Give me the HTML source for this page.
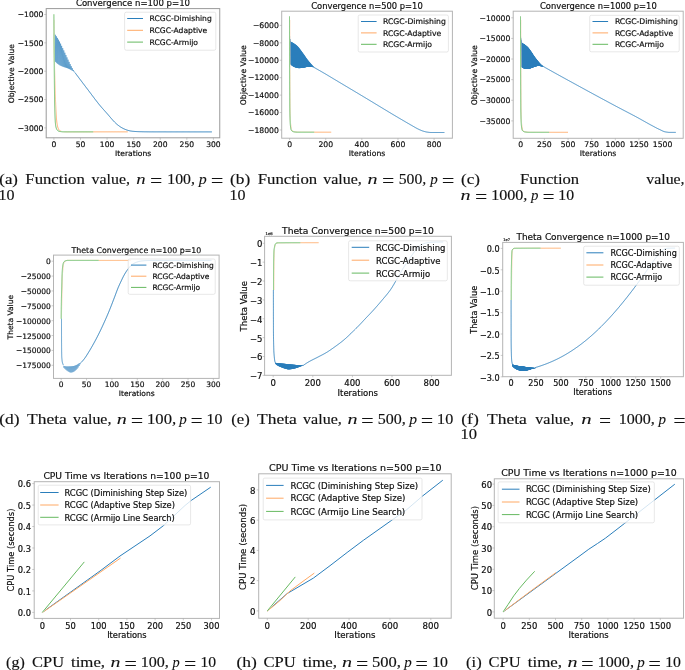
<!DOCTYPE html>
<html><head><meta charset="utf-8"><title>Convergence figures</title>
<style>html,body{margin:0;padding:0;background:#fff;} svg{display:block;}</style></head>
<body><svg width="685" height="670" viewBox="0 0 685 670">
<rect width="685" height="670" fill="#fff"/>
<clipPath id="cA"><rect x="46.2" y="8.6" width="173.55" height="129.20000000000002"/></clipPath>
<g clip-path="url(#cA)">
<polyline points="54.20,33.40 54.73,60.92 55.26,34.77 55.80,62.08 56.33,36.28 56.86,63.12 57.39,37.92 57.92,64.03 58.45,39.66 58.99,64.79 59.52,41.53 60.05,65.41 60.58,43.61 61.11,65.94 61.64,45.84 62.18,66.41 62.71,48.12 63.24,66.84 63.77,50.39 64.30,67.22 64.83,52.71 65.37,67.56 65.90,55.06 66.43,67.88 66.96,57.40 67.49,68.24 68.02,59.66 68.56,68.67 69.09,61.88 69.62,69.16 70.15,64.07 70.68,69.70 71.21,66.19 71.75,70.30 72.28,68.18 72.81,70.97 73.34,70.02 73.87,71.76 74.40,71.74 74.94,72.66" fill="none" stroke="#2a7ebb" stroke-width="0.55" stroke-opacity="1.0" stroke-linejoin="round" stroke-linecap="butt"/>
<polyline points="75.10,72.80 75.43,73.24 75.76,73.67 76.08,74.11 76.41,74.54 76.74,74.98 77.07,75.42 77.39,75.85 77.72,76.29 78.05,76.72 78.38,77.16 78.71,77.60 79.04,78.03 79.36,78.47 79.69,78.90 80.02,79.34 80.35,79.77 80.68,80.21 81.01,80.64 81.34,81.08 81.67,81.51 82.00,81.95 82.33,82.38 82.65,82.82 82.98,83.25 83.31,83.69 83.64,84.12 83.97,84.56 84.30,84.99 84.63,85.43 84.96,85.86 85.29,86.30 85.62,86.73 85.95,87.17 86.28,87.60 86.61,88.03 86.94,88.47 87.27,88.90 87.60,89.34 87.93,89.77 88.26,90.21 88.59,90.64 88.92,91.08 89.25,91.51 89.58,91.95 89.90,92.39 90.23,92.82 90.56,93.26 90.89,93.70 91.21,94.14 91.54,94.57 91.87,95.01 92.19,95.45 92.52,95.88 92.85,96.32 93.18,96.76 93.50,97.19 93.83,97.63 94.16,98.07 94.49,98.50 94.82,98.94 95.15,99.37 95.48,99.80 95.82,100.24 96.15,100.67 96.48,101.10 96.82,101.53 97.15,101.96 97.49,102.39 97.83,102.81 98.17,103.24 98.51,103.67 98.85,104.09 99.19,104.52 99.54,104.94 99.88,105.36 100.23,105.78 100.58,106.20 100.93,106.61 101.29,107.02 101.65,107.44 102.00,107.85 102.37,108.26 102.73,108.66 103.09,109.07 103.45,109.48 103.82,109.89 104.18,110.29 104.55,110.70 104.91,111.10 105.28,111.51 105.64,111.92 106.00,112.33 106.37,112.73 106.73,113.14 107.09,113.55 107.44,113.97 107.80,114.38 108.15,114.79 108.51,115.21 108.86,115.63 109.21,116.04 109.57,116.46 109.92,116.87 110.28,117.29 110.64,117.70 110.99,118.11 111.35,118.52 111.71,118.93 112.07,119.34 112.43,119.76 112.79,120.17 113.15,120.57 113.52,120.98 113.89,121.38 114.27,121.77 114.65,122.15 115.04,122.53 115.44,122.91 115.84,123.29 116.24,123.66 116.65,124.02 117.06,124.38 117.48,124.73 117.91,125.07 118.33,125.40 118.77,125.73 119.21,126.06 119.65,126.37 120.11,126.69 120.56,126.99 121.02,127.28 121.49,127.56 121.96,127.83 122.44,128.09 122.92,128.34 123.41,128.59 123.91,128.82 124.41,129.05 124.91,129.26 125.41,129.47 125.92,129.66 126.43,129.85 126.95,130.04 127.47,130.22 127.99,130.38 128.51,130.53 129.04,130.66 129.57,130.78 130.10,130.89 130.64,131.00 131.18,131.09 131.72,131.17 132.26,131.24 132.81,131.30 133.35,131.35 133.89,131.39 134.43,131.43 134.98,131.47 135.52,131.50 136.07,131.54 136.61,131.57 137.16,131.59 137.70,131.62 138.25,131.64 138.80,131.66 139.34,131.68 139.89,131.69 140.43,131.71 140.98,131.72 141.52,131.73 142.07,131.75 142.61,131.76 143.16,131.77 143.70,131.78 144.25,131.79 144.80,131.80 145.34,131.81 145.89,131.82 146.43,131.82 146.98,131.83 147.52,131.84 148.07,131.84 148.61,131.84 149.16,131.85 149.71,131.85 150.25,131.85 150.80,131.85 151.34,131.85 151.89,131.85 152.43,131.85 152.98,131.86 153.52,131.86 154.07,131.86 154.62,131.86 155.16,131.86 155.71,131.86 156.25,131.86 156.80,131.86 157.34,131.86 157.89,131.86 158.43,131.86 158.98,131.87 159.53,131.87 160.07,131.87 160.62,131.87 161.16,131.87 161.71,131.87 162.25,131.87 162.80,131.87 163.34,131.87 163.89,131.87 164.43,131.87 164.98,131.87 165.53,131.87 166.07,131.88 166.62,131.88 167.16,131.88 167.71,131.88 168.25,131.88 168.80,131.88 169.34,131.88 169.89,131.88 170.44,131.88 170.98,131.88 171.53,131.88 172.07,131.88 172.62,131.88 173.16,131.88 173.71,131.88 174.25,131.88 174.80,131.89 175.35,131.89 175.89,131.89 176.44,131.89 176.98,131.89 177.53,131.89 178.07,131.89 178.62,131.89 179.16,131.89 179.71,131.89 180.26,131.89 180.80,131.89 181.35,131.89 181.89,131.89 182.44,131.89 182.98,131.89 183.53,131.89 184.07,131.89 184.62,131.89 185.17,131.89 185.71,131.89 186.26,131.89 186.80,131.89 187.35,131.89 187.89,131.89 188.44,131.89 188.98,131.89 189.53,131.90 190.08,131.90 190.62,131.90 191.17,131.90 191.71,131.90 192.26,131.90 192.80,131.90 193.35,131.90 193.90,131.90 194.44,131.90 194.99,131.90 195.53,131.90 196.08,131.90 196.62,131.90 197.17,131.90 197.71,131.90 198.26,131.90 198.81,131.90 199.35,131.90 199.90,131.90 200.44,131.90 200.99,131.90 201.53,131.90 202.08,131.90 202.62,131.90 203.17,131.90 203.72,131.90 204.26,131.90 204.81,131.90 205.35,131.90 205.90,131.90 206.44,131.90 206.99,131.90 207.54,131.90 208.08,131.90 208.63,131.90 209.17,131.90 209.72,131.90 210.26,131.90 210.81,131.90 211.35,131.90 211.90,131.90" fill="none" stroke="#2a7ebb" stroke-width="1.0" stroke-opacity="1.0" stroke-linejoin="round" stroke-linecap="butt"/>
<polyline points="54.00,20.00 54.00,20.60 54.00,21.20 54.00,21.80 54.00,22.40 54.00,23.00 54.00,23.60 54.01,24.20 54.01,24.80 54.01,25.40 54.01,26.00 54.01,26.61 54.02,27.21 54.02,27.81 54.02,28.41 54.02,29.01 54.03,29.61 54.03,30.21 54.04,30.81 54.04,31.41 54.04,32.01 54.05,32.61 54.05,33.21 54.06,33.81 54.06,34.41 54.07,35.01 54.07,35.61 54.08,36.21 54.08,36.81 54.09,37.41 54.09,38.01 54.10,38.61 54.11,39.21 54.11,39.81 54.12,40.41 54.13,41.01 54.13,41.61 54.14,42.21 54.15,42.81 54.15,43.42 54.16,44.02 54.17,44.62 54.18,45.22 54.18,45.82 54.19,46.42 54.20,47.02 54.21,47.62 54.22,48.22 54.23,48.82 54.23,49.42 54.24,50.02 54.25,50.62 54.26,51.22 54.27,51.82 54.28,52.42 54.29,53.02 54.30,53.62 54.31,54.22 54.32,54.82 54.33,55.42 54.34,56.02 54.35,56.62 54.36,57.22 54.37,57.82 54.38,58.42 54.39,59.02 54.40,59.62 54.41,60.22 54.42,60.82 54.43,61.42 54.44,62.02 54.45,62.62 54.47,63.22 54.48,63.82 54.49,64.42 54.50,65.02 54.51,65.62 54.52,66.22 54.53,66.82 54.55,67.42 54.56,68.02 54.57,68.62 54.58,69.22 54.59,69.82 54.60,70.42 54.62,71.02 54.63,71.62 54.64,72.22 54.65,72.82 54.66,73.42 54.68,74.02 54.69,74.62 54.70,75.23 54.71,75.83 54.73,76.43 54.74,77.03 54.75,77.63 54.76,78.23 54.78,78.83 54.79,79.43 54.80,80.03 54.81,80.63 54.83,81.23 54.84,81.83 54.86,82.43 54.87,83.03 54.89,83.63 54.91,84.23 54.93,84.83 54.95,85.43 54.97,86.03 54.99,86.63 55.01,87.23 55.03,87.83 55.05,88.43 55.07,89.03 55.09,89.63 55.11,90.23 55.14,90.83 55.16,91.43 55.18,92.03 55.21,92.63 55.23,93.23 55.26,93.83 55.28,94.42 55.30,95.02 55.33,95.62 55.35,96.22 55.38,96.82 55.40,97.42 55.42,98.02 55.45,98.62 55.47,99.22 55.49,99.82 55.52,100.42 55.54,101.02 55.56,101.62 55.58,102.22 55.61,102.82 55.63,103.42 55.65,104.02 55.67,104.62 55.69,105.22 55.72,105.82 55.74,106.42 55.77,107.02 55.79,107.62 55.82,108.22 55.84,108.82 55.87,109.42 55.90,110.02 55.93,110.62 55.96,111.22 55.99,111.82 56.02,112.42 56.06,113.02 56.09,113.62 56.13,114.22 56.17,114.82 56.21,115.42 56.25,116.02 56.30,116.62 56.35,117.21 56.39,117.81 56.45,118.41 56.50,119.01 56.56,119.61 56.62,120.20 56.68,120.80 56.74,121.39 56.81,121.99 56.89,122.59 56.98,123.19 57.07,123.79 57.17,124.38 57.27,124.97 57.39,125.56 57.52,126.14 57.65,126.72 57.82,127.31 58.01,127.90 58.23,128.48 58.47,129.03 58.75,129.53 59.09,129.99 59.53,130.45 60.02,130.84 60.53,131.11 61.07,131.31 61.66,131.48 62.27,131.61 62.87,131.69 63.46,131.73 64.06,131.76 64.66,131.78 65.26,131.80 65.86,131.82 66.46,131.84 67.07,131.84 67.67,131.85 68.27,131.85 68.87,131.85 69.47,131.85 70.07,131.85 70.67,131.85 71.27,131.85 71.87,131.85 72.47,131.85 73.07,131.85 73.67,131.85 74.27,131.85 74.87,131.85 75.47,131.85 76.07,131.85 76.67,131.85 77.27,131.85 77.87,131.85 78.47,131.85 79.07,131.85 79.67,131.85 80.27,131.85 80.87,131.85 81.47,131.85 82.07,131.85 82.67,131.85 83.27,131.85 83.87,131.85 84.47,131.85 85.07,131.85 85.67,131.85 86.27,131.85 86.87,131.85 87.47,131.85 88.08,131.85 88.68,131.85 89.28,131.85 89.88,131.85 90.48,131.85 91.08,131.85 91.68,131.85 92.28,131.85 92.88,131.85 93.48,131.85 94.08,131.85 94.68,131.85 95.28,131.85 95.88,131.85 96.48,131.85 97.08,131.85 97.68,131.85 98.28,131.85 98.88,131.85 99.48,131.85 100.08,131.85 100.68,131.85 101.28,131.85 101.88,131.85 102.48,131.85 103.08,131.85 103.68,131.85 104.28,131.85 104.88,131.85 105.48,131.85 106.08,131.85 106.68,131.85 107.28,131.85 107.88,131.85 108.49,131.85 109.09,131.85 109.69,131.85 110.29,131.85 110.89,131.85 111.49,131.85 112.09,131.85 112.69,131.85 113.29,131.85 113.89,131.85 114.49,131.85 115.09,131.85 115.69,131.85 116.29,131.85 116.89,131.85 117.49,131.85 118.09,131.85 118.69,131.85 119.29,131.85 119.89,131.85 120.49,131.85 121.09,131.85 121.69,131.85 122.30,131.85 122.90,131.85 123.50,131.85 124.10,131.85 124.70,131.85 125.30,131.85 125.90,131.85 126.50,131.85 127.10,131.85 127.70,131.85" fill="none" stroke="#ffa965" stroke-width="1.0" stroke-opacity="1.0" stroke-linejoin="round" stroke-linecap="butt"/>
<polyline points="53.90,14.30 53.90,14.81 53.90,15.32 53.91,15.83 53.91,16.34 53.91,16.85 53.91,17.36 53.92,17.87 53.92,18.38 53.92,18.89 53.93,19.40 53.93,19.91 53.93,20.42 53.93,20.93 53.94,21.44 53.94,21.95 53.94,22.46 53.94,22.97 53.95,23.48 53.95,23.99 53.95,24.50 53.96,25.01 53.96,25.52 53.96,26.03 53.96,26.54 53.97,27.05 53.97,27.56 53.97,28.07 53.98,28.58 53.98,29.09 53.98,29.60 53.99,30.11 53.99,30.62 53.99,31.13 54.00,31.64 54.00,32.15 54.00,32.66 54.01,33.17 54.01,33.68 54.01,34.19 54.02,34.70 54.02,35.21 54.02,35.72 54.03,36.23 54.03,36.74 54.03,37.25 54.04,37.76 54.04,38.27 54.04,38.78 54.05,39.29 54.05,39.80 54.05,40.31 54.06,40.82 54.06,41.33 54.06,41.84 54.07,42.35 54.07,42.86 54.07,43.37 54.08,43.88 54.08,44.38 54.09,44.89 54.09,45.40 54.09,45.91 54.10,46.42 54.10,46.93 54.10,47.44 54.11,47.95 54.11,48.46 54.12,48.97 54.12,49.48 54.12,49.99 54.13,50.50 54.13,51.01 54.13,51.52 54.14,52.03 54.14,52.54 54.15,53.05 54.15,53.56 54.15,54.07 54.16,54.58 54.16,55.09 54.17,55.60 54.17,56.11 54.17,56.62 54.18,57.13 54.18,57.64 54.19,58.15 54.19,58.66 54.19,59.17 54.20,59.68 54.20,60.19 54.21,60.70 54.21,61.21 54.21,61.72 54.22,62.23 54.22,62.74 54.23,63.25 54.23,63.76 54.23,64.27 54.24,64.78 54.24,65.29 54.25,65.80 54.25,66.31 54.25,66.82 54.26,67.33 54.26,67.84 54.27,68.35 54.27,68.86 54.27,69.37 54.28,69.88 54.28,70.39 54.29,70.90 54.29,71.41 54.29,71.92 54.30,72.43 54.30,72.94 54.31,73.45 54.31,73.96 54.31,74.47 54.32,74.98 54.32,75.49 54.33,76.00 54.33,76.51 54.34,77.02 54.34,77.53 54.34,78.04 54.35,78.55 54.35,79.06 54.36,79.57 54.36,80.08 54.37,80.59 54.37,81.10 54.38,81.61 54.38,82.12 54.39,82.63 54.39,83.14 54.40,83.65 54.40,84.16 54.41,84.67 54.41,85.18 54.42,85.69 54.42,86.20 54.43,86.71 54.43,87.22 54.44,87.73 54.44,88.24 54.45,88.75 54.46,89.26 54.46,89.77 54.47,90.28 54.47,90.79 54.48,91.30 54.49,91.81 54.49,92.32 54.50,92.83 54.51,93.34 54.51,93.85 54.52,94.36 54.53,94.87 54.53,95.38 54.54,95.89 54.55,96.40 54.55,96.91 54.56,97.42 54.57,97.92 54.58,98.43 54.58,98.94 54.59,99.45 54.60,99.96 54.61,100.47 54.62,100.98 54.62,101.49 54.63,102.00 54.64,102.51 54.65,103.02 54.66,103.53 54.67,104.04 54.68,104.55 54.69,105.06 54.70,105.57 54.72,106.08 54.73,106.59 54.74,107.10 54.75,107.61 54.77,108.12 54.78,108.63 54.79,109.14 54.81,109.65 54.82,110.16 54.84,110.67 54.85,111.18 54.87,111.69 54.88,112.20 54.90,112.71 54.92,113.22 54.93,113.73 54.95,114.24 54.97,114.75 54.99,115.26 55.01,115.77 55.03,116.28 55.05,116.79 55.07,117.30 55.09,117.80 55.11,118.31 55.14,118.82 55.16,119.33 55.19,119.85 55.22,120.36 55.25,120.87 55.28,121.38 55.31,121.89 55.35,122.40 55.39,122.91 55.44,123.41 55.48,123.92 55.54,124.42 55.59,124.93 55.66,125.43 55.74,125.94 55.83,126.46 55.94,126.97 56.07,127.47 56.21,127.96 56.36,128.43 56.54,128.89 56.76,129.35 57.05,129.81 57.38,130.24 57.74,130.60 58.11,130.87 58.55,131.08 59.05,131.27 59.56,131.41 60.07,131.51 60.57,131.59 61.07,131.65 61.58,131.71 62.09,131.76 62.60,131.79 63.11,131.80 63.62,131.81 64.13,131.82 64.64,131.83 65.15,131.83 65.66,131.84 66.17,131.84 66.68,131.85 67.19,131.85 67.70,131.85 68.21,131.85 68.72,131.85 69.23,131.85 69.74,131.85 70.25,131.85 70.76,131.85 71.27,131.85 71.78,131.85 72.29,131.85 72.80,131.85 73.31,131.85 73.82,131.85 74.33,131.85 74.84,131.85 75.35,131.85 75.86,131.85 76.37,131.85 76.88,131.85 77.39,131.85 77.90,131.85 78.41,131.85 78.92,131.85 79.43,131.85 79.94,131.85 80.45,131.85 80.96,131.85 81.47,131.85 81.98,131.85 82.49,131.85 83.00,131.85 83.51,131.85 84.02,131.85 84.53,131.85 85.04,131.85 85.55,131.85 86.06,131.85 86.57,131.85 87.08,131.85 87.59,131.85 88.10,131.85 88.61,131.85 89.12,131.85 89.63,131.85 90.14,131.85 90.65,131.85 91.16,131.85 91.67,131.85 92.18,131.85 92.69,131.85 93.20,131.85" fill="none" stroke="#fff" stroke-width="1.4" stroke-opacity="1.0" stroke-linejoin="round" stroke-linecap="butt"/>
<polyline points="53.90,14.30 53.90,14.81 53.90,15.32 53.91,15.83 53.91,16.34 53.91,16.85 53.91,17.36 53.92,17.87 53.92,18.38 53.92,18.89 53.93,19.40 53.93,19.91 53.93,20.42 53.93,20.93 53.94,21.44 53.94,21.95 53.94,22.46 53.94,22.97 53.95,23.48 53.95,23.99 53.95,24.50 53.96,25.01 53.96,25.52 53.96,26.03 53.96,26.54 53.97,27.05 53.97,27.56 53.97,28.07 53.98,28.58 53.98,29.09 53.98,29.60 53.99,30.11 53.99,30.62 53.99,31.13 54.00,31.64 54.00,32.15 54.00,32.66 54.01,33.17 54.01,33.68 54.01,34.19 54.02,34.70 54.02,35.21 54.02,35.72 54.03,36.23 54.03,36.74 54.03,37.25 54.04,37.76 54.04,38.27 54.04,38.78 54.05,39.29 54.05,39.80 54.05,40.31 54.06,40.82 54.06,41.33 54.06,41.84 54.07,42.35 54.07,42.86 54.07,43.37 54.08,43.88 54.08,44.38 54.09,44.89 54.09,45.40 54.09,45.91 54.10,46.42 54.10,46.93 54.10,47.44 54.11,47.95 54.11,48.46 54.12,48.97 54.12,49.48 54.12,49.99 54.13,50.50 54.13,51.01 54.13,51.52 54.14,52.03 54.14,52.54 54.15,53.05 54.15,53.56 54.15,54.07 54.16,54.58 54.16,55.09 54.17,55.60 54.17,56.11 54.17,56.62 54.18,57.13 54.18,57.64 54.19,58.15 54.19,58.66 54.19,59.17 54.20,59.68 54.20,60.19 54.21,60.70 54.21,61.21 54.21,61.72 54.22,62.23 54.22,62.74 54.23,63.25 54.23,63.76 54.23,64.27 54.24,64.78 54.24,65.29 54.25,65.80 54.25,66.31 54.25,66.82 54.26,67.33 54.26,67.84 54.27,68.35 54.27,68.86 54.27,69.37 54.28,69.88 54.28,70.39 54.29,70.90 54.29,71.41 54.29,71.92 54.30,72.43 54.30,72.94 54.31,73.45 54.31,73.96 54.31,74.47 54.32,74.98 54.32,75.49 54.33,76.00 54.33,76.51 54.34,77.02 54.34,77.53 54.34,78.04 54.35,78.55 54.35,79.06 54.36,79.57 54.36,80.08 54.37,80.59 54.37,81.10 54.38,81.61 54.38,82.12 54.39,82.63 54.39,83.14 54.40,83.65 54.40,84.16 54.41,84.67 54.41,85.18 54.42,85.69 54.42,86.20 54.43,86.71 54.43,87.22 54.44,87.73 54.44,88.24 54.45,88.75 54.46,89.26 54.46,89.77 54.47,90.28 54.47,90.79 54.48,91.30 54.49,91.81 54.49,92.32 54.50,92.83 54.51,93.34 54.51,93.85 54.52,94.36 54.53,94.87 54.53,95.38 54.54,95.89 54.55,96.40 54.55,96.91 54.56,97.42 54.57,97.92 54.58,98.43 54.58,98.94 54.59,99.45 54.60,99.96 54.61,100.47 54.62,100.98 54.62,101.49 54.63,102.00 54.64,102.51 54.65,103.02 54.66,103.53 54.67,104.04 54.68,104.55 54.69,105.06 54.70,105.57 54.72,106.08 54.73,106.59 54.74,107.10 54.75,107.61 54.77,108.12 54.78,108.63 54.79,109.14 54.81,109.65 54.82,110.16 54.84,110.67 54.85,111.18 54.87,111.69 54.88,112.20 54.90,112.71 54.92,113.22 54.93,113.73 54.95,114.24 54.97,114.75 54.99,115.26 55.01,115.77 55.03,116.28 55.05,116.79 55.07,117.30 55.09,117.80 55.11,118.31 55.14,118.82 55.16,119.33 55.19,119.85 55.22,120.36 55.25,120.87 55.28,121.38 55.31,121.89 55.35,122.40 55.39,122.91 55.44,123.41 55.48,123.92 55.54,124.42 55.59,124.93 55.66,125.43 55.74,125.94 55.83,126.46 55.94,126.97 56.07,127.47 56.21,127.96 56.36,128.43 56.54,128.89 56.76,129.35 57.05,129.81 57.38,130.24 57.74,130.60 58.11,130.87 58.55,131.08 59.05,131.27 59.56,131.41 60.07,131.51 60.57,131.59 61.07,131.65 61.58,131.71 62.09,131.76 62.60,131.79 63.11,131.80 63.62,131.81 64.13,131.82 64.64,131.83 65.15,131.83 65.66,131.84 66.17,131.84 66.68,131.85 67.19,131.85 67.70,131.85 68.21,131.85 68.72,131.85 69.23,131.85 69.74,131.85 70.25,131.85 70.76,131.85 71.27,131.85 71.78,131.85 72.29,131.85 72.80,131.85 73.31,131.85 73.82,131.85 74.33,131.85 74.84,131.85 75.35,131.85 75.86,131.85 76.37,131.85 76.88,131.85 77.39,131.85 77.90,131.85 78.41,131.85 78.92,131.85 79.43,131.85 79.94,131.85 80.45,131.85 80.96,131.85 81.47,131.85 81.98,131.85 82.49,131.85 83.00,131.85 83.51,131.85 84.02,131.85 84.53,131.85 85.04,131.85 85.55,131.85 86.06,131.85 86.57,131.85 87.08,131.85 87.59,131.85 88.10,131.85 88.61,131.85 89.12,131.85 89.63,131.85 90.14,131.85 90.65,131.85 91.16,131.85 91.67,131.85 92.18,131.85 92.69,131.85 93.20,131.85" fill="none" stroke="#66b960" stroke-width="1.0" stroke-opacity="1.0" stroke-linejoin="round" stroke-linecap="butt"/>
</g>
<rect x="124.6" y="12.2" width="91.20000000000002" height="38.0" rx="1.6" fill="#fff" fill-opacity="0.8" stroke="#d6d6d6" stroke-width="0.6"/>
<polyline points="127.20,18.50 143.00,18.50" fill="none" stroke="#2a7ebb" stroke-width="1.0" stroke-opacity="1.0" stroke-linejoin="round" stroke-linecap="butt"/>
<text x="149.60" y="21.24" font-size="7.60" text-anchor="start" fill="#0d0d0d" stroke="#0d0d0d" stroke-width="0.18" font-family="'DejaVu Sans', 'Liberation Sans', sans-serif" >RCGC-Dimishing</text>
<polyline points="127.20,30.30 143.00,30.30" fill="none" stroke="#ffa965" stroke-width="1.0" stroke-opacity="1.0" stroke-linejoin="round" stroke-linecap="butt"/>
<text x="149.60" y="33.04" font-size="7.60" text-anchor="start" fill="#0d0d0d" stroke="#0d0d0d" stroke-width="0.18" font-family="'DejaVu Sans', 'Liberation Sans', sans-serif" >RCGC-Adaptive</text>
<polyline points="127.20,42.10 143.00,42.10" fill="none" stroke="#66b960" stroke-width="1.0" stroke-opacity="1.0" stroke-linejoin="round" stroke-linecap="butt"/>
<text x="149.60" y="44.84" font-size="7.60" text-anchor="start" fill="#0d0d0d" stroke="#0d0d0d" stroke-width="0.18" font-family="'DejaVu Sans', 'Liberation Sans', sans-serif" >RCGC-Armijo</text>
<rect x="46.2" y="8.6" width="173.55" height="129.20000000000002" fill="none" stroke="#9a9a9a" stroke-width="1.0"/>
<line x1="53.90" y1="137.8" x2="53.90" y2="139.8" stroke="#aaa" stroke-width="0.6"/>
<text x="53.90" y="147.20" font-size="7.60" text-anchor="middle" fill="#0d0d0d" stroke="#0d0d0d" stroke-width="0.18" font-family="'DejaVu Sans', 'Liberation Sans', sans-serif" >0</text>
<line x1="80.48" y1="137.8" x2="80.48" y2="139.8" stroke="#aaa" stroke-width="0.6"/>
<text x="80.48" y="147.20" font-size="7.60" text-anchor="middle" fill="#0d0d0d" stroke="#0d0d0d" stroke-width="0.18" font-family="'DejaVu Sans', 'Liberation Sans', sans-serif" >50</text>
<line x1="107.07" y1="137.8" x2="107.07" y2="139.8" stroke="#aaa" stroke-width="0.6"/>
<text x="107.07" y="147.20" font-size="7.60" text-anchor="middle" fill="#0d0d0d" stroke="#0d0d0d" stroke-width="0.18" font-family="'DejaVu Sans', 'Liberation Sans', sans-serif" >100</text>
<line x1="133.66" y1="137.8" x2="133.66" y2="139.8" stroke="#aaa" stroke-width="0.6"/>
<text x="133.66" y="147.20" font-size="7.60" text-anchor="middle" fill="#0d0d0d" stroke="#0d0d0d" stroke-width="0.18" font-family="'DejaVu Sans', 'Liberation Sans', sans-serif" >150</text>
<line x1="160.24" y1="137.8" x2="160.24" y2="139.8" stroke="#aaa" stroke-width="0.6"/>
<text x="160.24" y="147.20" font-size="7.60" text-anchor="middle" fill="#0d0d0d" stroke="#0d0d0d" stroke-width="0.18" font-family="'DejaVu Sans', 'Liberation Sans', sans-serif" >200</text>
<line x1="186.82" y1="137.8" x2="186.82" y2="139.8" stroke="#aaa" stroke-width="0.6"/>
<text x="186.82" y="147.20" font-size="7.60" text-anchor="middle" fill="#0d0d0d" stroke="#0d0d0d" stroke-width="0.18" font-family="'DejaVu Sans', 'Liberation Sans', sans-serif" >250</text>
<line x1="213.41" y1="137.8" x2="213.41" y2="139.8" stroke="#aaa" stroke-width="0.6"/>
<text x="213.41" y="147.20" font-size="7.60" text-anchor="middle" fill="#0d0d0d" stroke="#0d0d0d" stroke-width="0.18" font-family="'DejaVu Sans', 'Liberation Sans', sans-serif" >300</text>
<line x1="44.2" y1="14.50" x2="46.2" y2="14.50" stroke="#aaa" stroke-width="0.6"/>
<text x="43.40" y="17.24" font-size="7.60" text-anchor="end" fill="#0d0d0d" stroke="#0d0d0d" stroke-width="0.18" font-family="'DejaVu Sans', 'Liberation Sans', sans-serif" >−1000</text>
<line x1="44.2" y1="42.85" x2="46.2" y2="42.85" stroke="#aaa" stroke-width="0.6"/>
<text x="43.40" y="45.59" font-size="7.60" text-anchor="end" fill="#0d0d0d" stroke="#0d0d0d" stroke-width="0.18" font-family="'DejaVu Sans', 'Liberation Sans', sans-serif" >−1500</text>
<line x1="44.2" y1="71.20" x2="46.2" y2="71.20" stroke="#aaa" stroke-width="0.6"/>
<text x="43.40" y="73.94" font-size="7.60" text-anchor="end" fill="#0d0d0d" stroke="#0d0d0d" stroke-width="0.18" font-family="'DejaVu Sans', 'Liberation Sans', sans-serif" >−2000</text>
<line x1="44.2" y1="99.55" x2="46.2" y2="99.55" stroke="#aaa" stroke-width="0.6"/>
<text x="43.40" y="102.29" font-size="7.60" text-anchor="end" fill="#0d0d0d" stroke="#0d0d0d" stroke-width="0.18" font-family="'DejaVu Sans', 'Liberation Sans', sans-serif" >−2500</text>
<line x1="44.2" y1="127.90" x2="46.2" y2="127.90" stroke="#aaa" stroke-width="0.6"/>
<text x="43.40" y="130.64" font-size="7.60" text-anchor="end" fill="#0d0d0d" stroke="#0d0d0d" stroke-width="0.18" font-family="'DejaVu Sans', 'Liberation Sans', sans-serif" >−3000</text>
<text x="133.00" y="5.70" font-size="8.55" text-anchor="middle" fill="#0d0d0d" stroke="#0d0d0d" stroke-width="0.18" font-family="'DejaVu Sans', 'Liberation Sans', sans-serif" >Convergence n=100 p=10</text>
<text x="133.10" y="156.30" font-size="7.60" text-anchor="middle" fill="#0d0d0d" stroke="#0d0d0d" stroke-width="0.18" font-family="'DejaVu Sans', 'Liberation Sans', sans-serif" >Iterations</text>
<text transform="translate(14.00,73.60) rotate(-90)" font-size="7.60" text-anchor="middle" fill="#0d0d0d" stroke="#0d0d0d" stroke-width="0.18" font-family="'DejaVu Sans', 'Liberation Sans', sans-serif">Objective Value</text>
<clipPath id="cB"><rect x="281.7" y="11.2" width="170.7" height="126.99999999999999"/></clipPath>
<g clip-path="url(#cB)">
<polyline points="289.60,36.00 289.78,63.22 289.96,39.07 290.14,63.65 290.32,41.23 290.50,64.06 290.68,41.74 290.86,64.44 291.04,42.07 291.23,64.80 291.41,42.31 291.59,65.11 291.77,42.49 291.95,65.39 292.13,42.63 292.31,65.66 292.49,42.77 292.67,65.91 292.85,42.95 293.03,66.16 293.21,43.18 293.39,66.38 293.57,43.42 293.75,66.59 293.93,43.66 294.12,66.79 294.30,43.91 294.48,66.96 294.66,44.16 294.84,67.11 295.02,44.41 295.20,67.23 295.38,44.68 295.56,67.35 295.74,44.95 295.92,67.47 296.10,45.23 296.28,67.58 296.46,45.53 296.64,67.69 296.82,45.85 297.00,67.79 297.19,46.18 297.37,67.88 297.55,46.54 297.73,67.96 297.91,46.94 298.09,68.02 298.27,47.36 298.45,68.07 298.63,47.80 298.81,68.09 298.99,48.26 299.17,68.10 299.35,48.73 299.53,68.09 299.71,49.20 299.89,68.08 300.07,49.68 300.26,68.05 300.44,50.15 300.62,68.02 300.80,50.62 300.98,67.99 301.16,51.10 301.34,67.95 301.52,51.60 301.70,67.90 301.88,52.10 302.06,67.85 302.24,52.60 302.42,67.80 302.60,53.11 302.78,67.75 302.96,53.62 303.15,67.69 303.33,54.13 303.51,67.64 303.69,54.64 303.87,67.59 304.05,55.15 304.23,67.53 304.41,55.67 304.59,67.45 304.77,56.20 304.95,67.36 305.13,56.72 305.31,67.26 305.49,57.25 305.67,67.16 305.85,57.78 306.03,67.07 306.22,58.29 306.40,66.98 306.58,58.80 306.76,66.91 306.94,59.29 307.12,66.85 307.30,59.76 307.48,66.81 307.66,60.22 307.84,66.80 308.02,60.67 308.20,66.80 308.38,61.11 308.56,66.80 308.74,61.55 308.92,66.81 309.10,61.98 309.29,66.81 309.47,62.40 309.65,66.82 309.83,62.82 310.01,66.83 310.19,63.24 310.37,66.84 310.55,63.66 310.73,66.85 310.91,64.07 311.09,66.87 311.27,64.49 311.45,66.88 311.63,64.89 311.81,66.90 311.99,65.30 312.18,66.94 312.36,65.70 312.54,67.00 312.72,66.09 312.90,67.08 313.08,66.47 313.26,67.18 313.44,66.85 313.62,67.29 313.80,67.20 313.98,67.39 314.00,67.40 314.43,67.64 314.86,67.88 315.29,68.13 315.72,68.37 316.16,68.61 316.59,68.86 317.02,69.10 317.45,69.34 317.88,69.59 318.31,69.83 318.73,70.08 319.16,70.32 319.59,70.57 320.02,70.81 320.45,71.06 320.88,71.31 321.31,71.55 321.74,71.80 322.16,72.05 322.59,72.30 323.02,72.54 323.45,72.79 323.87,73.04 324.30,73.29 324.73,73.54 325.15,73.79 325.58,74.04 326.01,74.29 326.43,74.54 326.86,74.80 327.28,75.05 327.71,75.30 328.13,75.55 328.56,75.81 328.98,76.06 329.40,76.32 329.83,76.57 330.25,76.83 330.68,77.08 331.10,77.34 331.52,77.59 331.95,77.85 332.37,78.10 332.79,78.36 333.22,78.61 333.64,78.87 334.07,79.12 334.49,79.37 334.91,79.63 335.34,79.88 335.76,80.13 336.19,80.39 336.61,80.64 337.04,80.90 337.46,81.15 337.88,81.40 338.31,81.66 338.73,81.91 339.16,82.16 339.58,82.42 340.01,82.67 340.43,82.92 340.86,83.18 341.28,83.43 341.71,83.68 342.13,83.94 342.56,84.19 342.98,84.44 343.40,84.70 343.83,84.95 344.25,85.20 344.68,85.46 345.10,85.71 345.53,85.96 345.95,86.22 346.38,86.47 346.80,86.72 347.23,86.98 347.65,87.23 348.08,87.48 348.50,87.74 348.93,87.99 349.35,88.24 349.77,88.49 350.20,88.75 350.62,89.00 351.05,89.25 351.47,89.51 351.90,89.76 352.32,90.01 352.75,90.27 353.17,90.52 353.60,90.78 354.02,91.03 354.44,91.28 354.87,91.54 355.29,91.79 355.72,92.04 356.14,92.30 356.57,92.55 356.99,92.80 357.42,93.06 357.84,93.31 358.26,93.56 358.69,93.82 359.11,94.07 359.54,94.33 359.96,94.58 360.39,94.83 360.81,95.09 361.23,95.34 361.66,95.60 362.08,95.85 362.51,96.10 362.93,96.36 363.35,96.61 363.78,96.87 364.20,97.12 364.63,97.38 365.05,97.63 365.47,97.88 365.90,98.14 366.32,98.39 366.75,98.65 367.17,98.90 367.59,99.16 368.02,99.41 368.44,99.67 368.86,99.93 369.29,100.18 369.71,100.44 370.13,100.69 370.56,100.95 370.98,101.20 371.40,101.46 371.82,101.72 372.25,101.97 372.67,102.23 373.09,102.49 373.52,102.74 373.94,103.00 374.36,103.25 374.78,103.51 375.21,103.77 375.63,104.02 376.05,104.28 376.48,104.54 376.90,104.79 377.32,105.05 377.74,105.31 378.17,105.56 378.59,105.82 379.01,106.08 379.43,106.33 379.86,106.59 380.28,106.84 380.70,107.10 381.13,107.36 381.55,107.61 381.97,107.87 382.39,108.13 382.82,108.38 383.24,108.64 383.66,108.89 384.09,109.15 384.51,109.41 384.93,109.66 385.36,109.92 385.78,110.17 386.20,110.43 386.63,110.68 387.05,110.94 387.47,111.19 387.90,111.45 388.32,111.70 388.74,111.96 389.17,112.21 389.59,112.47 390.01,112.72 390.44,112.98 390.86,113.23 391.29,113.49 391.71,113.74 392.14,113.99 392.56,114.25 392.98,114.50 393.41,114.75 393.83,115.01 394.26,115.26 394.68,115.51 395.11,115.76 395.53,116.02 395.96,116.27 396.38,116.52 396.81,116.77 397.24,117.02 397.66,117.27 398.09,117.52 398.51,117.78 398.94,118.03 399.37,118.28 399.79,118.53 400.22,118.78 400.65,119.03 401.07,119.27 401.50,119.52 401.93,119.77 402.35,120.02 402.78,120.27 403.21,120.52 403.64,120.77 404.06,121.02 404.49,121.27 404.92,121.52 405.34,121.77 405.77,122.02 406.20,122.27 406.62,122.52 407.05,122.77 407.48,123.02 407.90,123.27 408.33,123.51 408.76,123.76 409.19,124.01 409.62,124.26 410.05,124.50 410.48,124.75 410.91,124.99 411.34,125.23 411.77,125.48 412.19,125.73 412.62,125.98 413.05,126.23 413.48,126.47 413.91,126.72 414.34,126.97 414.77,127.22 415.20,127.47 415.63,127.71 416.06,127.95 416.49,128.19 416.93,128.42 417.37,128.65 417.81,128.88 418.25,129.10 418.69,129.31 419.14,129.52 419.59,129.72 420.04,129.92 420.49,130.12 420.95,130.31 421.41,130.50 421.87,130.68 422.34,130.85 422.80,131.01 423.27,131.15 423.75,131.30 424.22,131.44 424.70,131.57 425.18,131.70 425.66,131.82 426.14,131.93 426.63,132.02 427.11,132.10 427.60,132.17 428.09,132.24 428.58,132.31 429.08,132.37 429.57,132.42 430.06,132.46 430.56,132.49 431.05,132.50 431.54,132.50 432.04,132.50 432.53,132.50 433.02,132.50 433.52,132.50 434.01,132.50 434.50,132.50 435.00,132.50 435.49,132.50 435.98,132.50 436.48,132.50 436.97,132.50 437.47,132.50 437.96,132.50 438.46,132.50 438.95,132.50 439.44,132.50 439.94,132.50 440.43,132.50 440.93,132.50 441.43,132.50 441.92,132.50 442.42,132.50 442.91,132.50 443.41,132.50 443.90,132.50 444.40,132.50" fill="none" stroke="#2a7ebb" stroke-width="0.9" stroke-opacity="1.0" stroke-linejoin="round" stroke-linecap="butt"/>
<polyline points="289.70,20.00 289.70,20.50 289.70,21.00 289.70,21.51 289.70,22.01 289.70,22.51 289.70,23.01 289.70,23.52 289.70,24.02 289.70,24.52 289.70,25.02 289.70,25.53 289.70,26.03 289.70,26.53 289.70,27.03 289.70,27.54 289.70,28.04 289.70,28.54 289.70,29.04 289.70,29.54 289.70,30.05 289.70,30.55 289.70,31.05 289.70,31.55 289.70,32.06 289.71,32.56 289.71,33.06 289.71,33.56 289.71,34.07 289.71,34.57 289.71,35.07 289.71,35.57 289.71,36.08 289.71,36.58 289.71,37.08 289.71,37.58 289.71,38.08 289.71,38.59 289.71,39.09 289.71,39.59 289.71,40.09 289.71,40.60 289.72,41.10 289.72,41.60 289.72,42.10 289.72,42.60 289.72,43.11 289.72,43.61 289.72,44.11 289.72,44.61 289.72,45.12 289.72,45.62 289.72,46.12 289.73,46.62 289.73,47.13 289.73,47.63 289.73,48.13 289.73,48.63 289.73,49.13 289.73,49.64 289.73,50.14 289.73,50.64 289.73,51.14 289.74,51.65 289.74,52.15 289.74,52.65 289.74,53.15 289.74,53.65 289.74,54.16 289.74,54.66 289.74,55.16 289.75,55.66 289.75,56.17 289.75,56.67 289.75,57.17 289.75,57.67 289.75,58.17 289.75,58.68 289.76,59.18 289.76,59.68 289.76,60.18 289.76,60.69 289.76,61.19 289.76,61.69 289.76,62.19 289.77,62.69 289.77,63.20 289.77,63.70 289.77,64.20 289.77,64.70 289.77,65.21 289.78,65.71 289.78,66.21 289.78,66.71 289.78,67.21 289.78,67.72 289.79,68.22 289.79,68.72 289.79,69.22 289.79,69.73 289.79,70.23 289.80,70.73 289.80,71.23 289.80,71.73 289.80,72.24 289.80,72.74 289.81,73.24 289.81,73.74 289.81,74.24 289.81,74.75 289.81,75.25 289.82,75.75 289.82,76.25 289.82,76.76 289.82,77.26 289.83,77.76 289.83,78.26 289.83,78.76 289.83,79.27 289.83,79.77 289.84,80.27 289.84,80.77 289.84,81.27 289.84,81.78 289.85,82.28 289.85,82.78 289.85,83.28 289.85,83.79 289.86,84.29 289.86,84.79 289.86,85.29 289.87,85.79 289.87,86.30 289.87,86.80 289.87,87.30 289.88,87.80 289.88,88.30 289.88,88.81 289.88,89.31 289.89,89.81 289.89,90.31 289.89,90.82 289.90,91.32 289.90,91.82 289.90,92.32 289.91,92.82 289.91,93.33 289.91,93.83 289.91,94.33 289.92,94.83 289.92,95.33 289.92,95.84 289.93,96.34 289.93,96.84 289.93,97.34 289.94,97.84 289.94,98.35 289.94,98.85 289.95,99.35 289.95,99.85 289.95,100.36 289.96,100.86 289.96,101.36 289.96,101.86 289.97,102.36 289.97,102.87 289.97,103.37 289.98,103.87 289.98,104.37 289.99,104.87 289.99,105.38 290.00,105.88 290.00,106.38 290.01,106.89 290.01,107.39 290.02,107.89 290.03,108.39 290.04,108.90 290.04,109.40 290.05,109.91 290.06,110.41 290.07,110.91 290.08,111.42 290.10,111.92 290.11,112.42 290.12,112.93 290.13,113.43 290.15,113.93 290.16,114.44 290.18,114.94 290.19,115.44 290.21,115.94 290.23,116.45 290.25,116.95 290.27,117.45 290.29,117.95 290.31,118.45 290.33,118.95 290.35,119.45 290.37,119.95 290.40,120.45 290.42,120.95 290.44,121.45 290.47,121.95 290.50,122.45 290.52,122.95 290.55,123.45 290.59,123.97 290.63,124.50 290.68,125.05 290.74,125.60 290.81,126.15 290.88,126.70 290.97,127.24 291.06,127.76 291.17,128.26 291.28,128.74 291.41,129.19 291.55,129.60 291.69,129.98 291.86,130.31 292.14,130.63 292.54,130.94 293.02,131.23 293.54,131.48 294.06,131.67 294.56,131.79 295.03,131.86 295.51,131.93 296.00,131.99 296.50,132.04 297.01,132.09 297.52,132.13 298.04,132.16 298.55,132.18 299.06,132.20 299.56,132.20 300.06,132.20 300.56,132.20 301.06,132.20 301.57,132.20 302.07,132.20 302.57,132.20 303.07,132.20 303.57,132.20 304.07,132.20 304.57,132.20 305.07,132.20 305.58,132.20 306.08,132.20 306.58,132.20 307.08,132.20 307.58,132.20 308.08,132.20 308.59,132.20 309.09,132.20 309.59,132.20 310.09,132.20 310.59,132.20 311.09,132.20 311.60,132.20 312.10,132.20 312.60,132.20 313.10,132.20 313.60,132.20 314.11,132.20 314.61,132.20 315.11,132.20 315.61,132.20 316.11,132.20 316.62,132.20 317.12,132.20 317.62,132.20 318.12,132.20 318.63,132.20 319.13,132.20 319.63,132.20 320.13,132.20 320.64,132.20 321.14,132.20 321.64,132.20 322.14,132.20 322.65,132.20 323.15,132.20 323.65,132.20 324.15,132.20 324.66,132.20 325.16,132.20 325.66,132.20 326.17,132.20 326.67,132.20 327.17,132.20 327.68,132.20 328.18,132.20 328.68,132.20 329.19,132.20 329.69,132.20 330.19,132.20 330.70,132.20 331.20,132.20" fill="none" stroke="#ffa965" stroke-width="1.0" stroke-opacity="1.0" stroke-linejoin="round" stroke-linecap="butt"/>
<polyline points="289.50,16.40 289.50,16.86 289.50,17.32 289.50,17.78 289.50,18.24 289.50,18.70 289.50,19.16 289.50,19.61 289.50,20.07 289.50,20.53 289.50,20.99 289.50,21.45 289.50,21.91 289.50,22.37 289.50,22.83 289.50,23.29 289.50,23.75 289.50,24.21 289.50,24.67 289.50,25.13 289.50,25.59 289.50,26.04 289.50,26.50 289.50,26.96 289.50,27.42 289.50,27.88 289.50,28.34 289.50,28.80 289.50,29.26 289.50,29.72 289.51,30.18 289.51,30.64 289.51,31.10 289.51,31.56 289.51,32.01 289.51,32.47 289.51,32.93 289.51,33.39 289.51,33.85 289.51,34.31 289.51,34.77 289.51,35.23 289.51,35.69 289.51,36.15 289.51,36.61 289.51,37.07 289.51,37.52 289.51,37.98 289.51,38.44 289.51,38.90 289.51,39.36 289.52,39.82 289.52,40.28 289.52,40.74 289.52,41.20 289.52,41.66 289.52,42.12 289.52,42.58 289.52,43.04 289.52,43.49 289.52,43.95 289.52,44.41 289.52,44.87 289.52,45.33 289.52,45.79 289.53,46.25 289.53,46.71 289.53,47.17 289.53,47.63 289.53,48.09 289.53,48.55 289.53,49.00 289.53,49.46 289.53,49.92 289.53,50.38 289.53,50.84 289.54,51.30 289.54,51.76 289.54,52.22 289.54,52.68 289.54,53.14 289.54,53.60 289.54,54.06 289.54,54.51 289.54,54.97 289.54,55.43 289.55,55.89 289.55,56.35 289.55,56.81 289.55,57.27 289.55,57.73 289.55,58.19 289.55,58.65 289.55,59.11 289.55,59.57 289.56,60.02 289.56,60.48 289.56,60.94 289.56,61.40 289.56,61.86 289.56,62.32 289.56,62.78 289.56,63.24 289.57,63.70 289.57,64.16 289.57,64.62 289.57,65.08 289.57,65.53 289.57,65.99 289.57,66.45 289.58,66.91 289.58,67.37 289.58,67.83 289.58,68.29 289.58,68.75 289.58,69.21 289.58,69.67 289.59,70.13 289.59,70.59 289.59,71.04 289.59,71.50 289.59,71.96 289.59,72.42 289.60,72.88 289.60,73.34 289.60,73.80 289.60,74.26 289.60,74.72 289.60,75.18 289.61,75.64 289.61,76.09 289.61,76.55 289.61,77.01 289.61,77.47 289.61,77.93 289.62,78.39 289.62,78.85 289.62,79.31 289.62,79.77 289.62,80.23 289.63,80.69 289.63,81.14 289.63,81.60 289.63,82.06 289.63,82.52 289.64,82.98 289.64,83.44 289.64,83.90 289.64,84.36 289.64,84.82 289.65,85.28 289.65,85.74 289.65,86.19 289.65,86.65 289.65,87.11 289.66,87.57 289.66,88.03 289.66,88.49 289.66,88.95 289.67,89.41 289.67,89.87 289.67,90.33 289.67,90.79 289.67,91.25 289.68,91.70 289.68,92.16 289.68,92.62 289.68,93.08 289.69,93.54 289.69,94.00 289.69,94.46 289.69,94.92 289.70,95.38 289.70,95.84 289.70,96.30 289.70,96.75 289.71,97.21 289.71,97.67 289.71,98.13 289.71,98.59 289.72,99.05 289.72,99.51 289.72,99.97 289.72,100.43 289.73,100.89 289.73,101.35 289.73,101.80 289.73,102.26 289.74,102.72 289.74,103.18 289.74,103.64 289.75,104.10 289.75,104.56 289.75,105.02 289.76,105.48 289.76,105.94 289.77,106.40 289.77,106.86 289.78,107.32 289.78,107.78 289.79,108.24 289.80,108.70 289.80,109.16 289.81,109.62 289.82,110.08 289.83,110.54 289.83,111.00 289.84,111.46 289.85,111.92 289.86,112.38 289.87,112.84 289.88,113.30 289.89,113.76 289.91,114.21 289.92,114.67 289.93,115.13 289.94,115.59 289.96,116.05 289.97,116.51 289.99,116.97 290.00,117.43 290.02,117.89 290.03,118.35 290.05,118.80 290.06,119.26 290.08,119.72 290.10,120.18 290.12,120.64 290.14,121.09 290.16,121.55 290.18,122.01 290.20,122.46 290.22,122.92 290.24,123.38 290.27,123.86 290.30,124.35 290.34,124.84 290.38,125.34 290.43,125.85 290.49,126.34 290.55,126.84 290.61,127.32 290.69,127.79 290.77,128.25 290.86,128.69 290.95,129.10 291.06,129.50 291.17,129.86 291.30,130.19 291.49,130.51 291.80,130.83 292.20,131.14 292.65,131.41 293.12,131.62 293.57,131.77 293.99,131.85 294.42,131.92 294.87,131.99 295.33,132.04 295.79,132.09 296.26,132.13 296.73,132.17 297.20,132.19 297.67,132.20 298.13,132.20 298.59,132.20 299.04,132.20 299.50,132.20 299.96,132.20 300.42,132.20 300.88,132.20 301.34,132.20 301.79,132.20 302.25,132.20 302.71,132.20 303.17,132.20 303.63,132.20 304.09,132.20 304.55,132.20 305.00,132.20 305.46,132.20 305.92,132.20 306.38,132.20 306.84,132.20 307.30,132.20 307.76,132.20 308.22,132.20 308.68,132.20 309.14,132.20 309.60,132.20 310.06,132.20 310.52,132.20 310.98,132.20 311.44,132.20 311.90,132.20 312.36,132.20 312.82,132.20 313.28,132.20 313.74,132.20 314.20,132.20" fill="none" stroke="#fff" stroke-width="1.4" stroke-opacity="1.0" stroke-linejoin="round" stroke-linecap="butt"/>
<polyline points="289.50,16.40 289.50,16.86 289.50,17.32 289.50,17.78 289.50,18.24 289.50,18.70 289.50,19.16 289.50,19.61 289.50,20.07 289.50,20.53 289.50,20.99 289.50,21.45 289.50,21.91 289.50,22.37 289.50,22.83 289.50,23.29 289.50,23.75 289.50,24.21 289.50,24.67 289.50,25.13 289.50,25.59 289.50,26.04 289.50,26.50 289.50,26.96 289.50,27.42 289.50,27.88 289.50,28.34 289.50,28.80 289.50,29.26 289.50,29.72 289.51,30.18 289.51,30.64 289.51,31.10 289.51,31.56 289.51,32.01 289.51,32.47 289.51,32.93 289.51,33.39 289.51,33.85 289.51,34.31 289.51,34.77 289.51,35.23 289.51,35.69 289.51,36.15 289.51,36.61 289.51,37.07 289.51,37.52 289.51,37.98 289.51,38.44 289.51,38.90 289.51,39.36 289.52,39.82 289.52,40.28 289.52,40.74 289.52,41.20 289.52,41.66 289.52,42.12 289.52,42.58 289.52,43.04 289.52,43.49 289.52,43.95 289.52,44.41 289.52,44.87 289.52,45.33 289.52,45.79 289.53,46.25 289.53,46.71 289.53,47.17 289.53,47.63 289.53,48.09 289.53,48.55 289.53,49.00 289.53,49.46 289.53,49.92 289.53,50.38 289.53,50.84 289.54,51.30 289.54,51.76 289.54,52.22 289.54,52.68 289.54,53.14 289.54,53.60 289.54,54.06 289.54,54.51 289.54,54.97 289.54,55.43 289.55,55.89 289.55,56.35 289.55,56.81 289.55,57.27 289.55,57.73 289.55,58.19 289.55,58.65 289.55,59.11 289.55,59.57 289.56,60.02 289.56,60.48 289.56,60.94 289.56,61.40 289.56,61.86 289.56,62.32 289.56,62.78 289.56,63.24 289.57,63.70 289.57,64.16 289.57,64.62 289.57,65.08 289.57,65.53 289.57,65.99 289.57,66.45 289.58,66.91 289.58,67.37 289.58,67.83 289.58,68.29 289.58,68.75 289.58,69.21 289.58,69.67 289.59,70.13 289.59,70.59 289.59,71.04 289.59,71.50 289.59,71.96 289.59,72.42 289.60,72.88 289.60,73.34 289.60,73.80 289.60,74.26 289.60,74.72 289.60,75.18 289.61,75.64 289.61,76.09 289.61,76.55 289.61,77.01 289.61,77.47 289.61,77.93 289.62,78.39 289.62,78.85 289.62,79.31 289.62,79.77 289.62,80.23 289.63,80.69 289.63,81.14 289.63,81.60 289.63,82.06 289.63,82.52 289.64,82.98 289.64,83.44 289.64,83.90 289.64,84.36 289.64,84.82 289.65,85.28 289.65,85.74 289.65,86.19 289.65,86.65 289.65,87.11 289.66,87.57 289.66,88.03 289.66,88.49 289.66,88.95 289.67,89.41 289.67,89.87 289.67,90.33 289.67,90.79 289.67,91.25 289.68,91.70 289.68,92.16 289.68,92.62 289.68,93.08 289.69,93.54 289.69,94.00 289.69,94.46 289.69,94.92 289.70,95.38 289.70,95.84 289.70,96.30 289.70,96.75 289.71,97.21 289.71,97.67 289.71,98.13 289.71,98.59 289.72,99.05 289.72,99.51 289.72,99.97 289.72,100.43 289.73,100.89 289.73,101.35 289.73,101.80 289.73,102.26 289.74,102.72 289.74,103.18 289.74,103.64 289.75,104.10 289.75,104.56 289.75,105.02 289.76,105.48 289.76,105.94 289.77,106.40 289.77,106.86 289.78,107.32 289.78,107.78 289.79,108.24 289.80,108.70 289.80,109.16 289.81,109.62 289.82,110.08 289.83,110.54 289.83,111.00 289.84,111.46 289.85,111.92 289.86,112.38 289.87,112.84 289.88,113.30 289.89,113.76 289.91,114.21 289.92,114.67 289.93,115.13 289.94,115.59 289.96,116.05 289.97,116.51 289.99,116.97 290.00,117.43 290.02,117.89 290.03,118.35 290.05,118.80 290.06,119.26 290.08,119.72 290.10,120.18 290.12,120.64 290.14,121.09 290.16,121.55 290.18,122.01 290.20,122.46 290.22,122.92 290.24,123.38 290.27,123.86 290.30,124.35 290.34,124.84 290.38,125.34 290.43,125.85 290.49,126.34 290.55,126.84 290.61,127.32 290.69,127.79 290.77,128.25 290.86,128.69 290.95,129.10 291.06,129.50 291.17,129.86 291.30,130.19 291.49,130.51 291.80,130.83 292.20,131.14 292.65,131.41 293.12,131.62 293.57,131.77 293.99,131.85 294.42,131.92 294.87,131.99 295.33,132.04 295.79,132.09 296.26,132.13 296.73,132.17 297.20,132.19 297.67,132.20 298.13,132.20 298.59,132.20 299.04,132.20 299.50,132.20 299.96,132.20 300.42,132.20 300.88,132.20 301.34,132.20 301.79,132.20 302.25,132.20 302.71,132.20 303.17,132.20 303.63,132.20 304.09,132.20 304.55,132.20 305.00,132.20 305.46,132.20 305.92,132.20 306.38,132.20 306.84,132.20 307.30,132.20 307.76,132.20 308.22,132.20 308.68,132.20 309.14,132.20 309.60,132.20 310.06,132.20 310.52,132.20 310.98,132.20 311.44,132.20 311.90,132.20 312.36,132.20 312.82,132.20 313.28,132.20 313.74,132.20 314.20,132.20" fill="none" stroke="#66b960" stroke-width="1.0" stroke-opacity="1.0" stroke-linejoin="round" stroke-linecap="butt"/>
</g>
<rect x="358.2" y="15.0" width="90.19999999999999" height="37.0" rx="1.6" fill="#fff" fill-opacity="0.8" stroke="#d6d6d6" stroke-width="0.6"/>
<polyline points="361.00,21.50 376.60,21.50" fill="none" stroke="#2a7ebb" stroke-width="1.0" stroke-opacity="1.0" stroke-linejoin="round" stroke-linecap="butt"/>
<text x="383.00" y="24.27" font-size="7.70" text-anchor="start" fill="#0d0d0d" stroke="#0d0d0d" stroke-width="0.18" font-family="'DejaVu Sans', 'Liberation Sans', sans-serif" >RCGC-Dimishing</text>
<polyline points="361.00,32.90 376.60,32.90" fill="none" stroke="#ffa965" stroke-width="1.0" stroke-opacity="1.0" stroke-linejoin="round" stroke-linecap="butt"/>
<text x="383.00" y="35.67" font-size="7.70" text-anchor="start" fill="#0d0d0d" stroke="#0d0d0d" stroke-width="0.18" font-family="'DejaVu Sans', 'Liberation Sans', sans-serif" >RCGC-Adaptive</text>
<polyline points="361.00,44.30 376.60,44.30" fill="none" stroke="#66b960" stroke-width="1.0" stroke-opacity="1.0" stroke-linejoin="round" stroke-linecap="butt"/>
<text x="383.00" y="47.07" font-size="7.70" text-anchor="start" fill="#0d0d0d" stroke="#0d0d0d" stroke-width="0.18" font-family="'DejaVu Sans', 'Liberation Sans', sans-serif" >RCGC-Armijo</text>
<rect x="281.7" y="11.2" width="170.7" height="126.99999999999999" fill="none" stroke="#b4b4b4" stroke-width="1.0"/>
<line x1="289.60" y1="138.2" x2="289.60" y2="140.2" stroke="#aaa" stroke-width="0.6"/>
<text x="289.60" y="146.70" font-size="7.70" text-anchor="middle" fill="#0d0d0d" stroke="#0d0d0d" stroke-width="0.18" font-family="'DejaVu Sans', 'Liberation Sans', sans-serif" >0</text>
<line x1="325.72" y1="138.2" x2="325.72" y2="140.2" stroke="#aaa" stroke-width="0.6"/>
<text x="325.72" y="146.70" font-size="7.70" text-anchor="middle" fill="#0d0d0d" stroke="#0d0d0d" stroke-width="0.18" font-family="'DejaVu Sans', 'Liberation Sans', sans-serif" >200</text>
<line x1="361.84" y1="138.2" x2="361.84" y2="140.2" stroke="#aaa" stroke-width="0.6"/>
<text x="361.84" y="146.70" font-size="7.70" text-anchor="middle" fill="#0d0d0d" stroke="#0d0d0d" stroke-width="0.18" font-family="'DejaVu Sans', 'Liberation Sans', sans-serif" >400</text>
<line x1="397.96" y1="138.2" x2="397.96" y2="140.2" stroke="#aaa" stroke-width="0.6"/>
<text x="397.96" y="146.70" font-size="7.70" text-anchor="middle" fill="#0d0d0d" stroke="#0d0d0d" stroke-width="0.18" font-family="'DejaVu Sans', 'Liberation Sans', sans-serif" >600</text>
<line x1="434.08" y1="138.2" x2="434.08" y2="140.2" stroke="#aaa" stroke-width="0.6"/>
<text x="434.08" y="146.70" font-size="7.70" text-anchor="middle" fill="#0d0d0d" stroke="#0d0d0d" stroke-width="0.18" font-family="'DejaVu Sans', 'Liberation Sans', sans-serif" >800</text>
<line x1="279.7" y1="25.40" x2="281.7" y2="25.40" stroke="#aaa" stroke-width="0.6"/>
<text x="278.90" y="28.17" font-size="7.70" text-anchor="end" fill="#0d0d0d" stroke="#0d0d0d" stroke-width="0.18" font-family="'DejaVu Sans', 'Liberation Sans', sans-serif" >−6000</text>
<line x1="279.7" y1="42.83" x2="281.7" y2="42.83" stroke="#aaa" stroke-width="0.6"/>
<text x="278.90" y="45.60" font-size="7.70" text-anchor="end" fill="#0d0d0d" stroke="#0d0d0d" stroke-width="0.18" font-family="'DejaVu Sans', 'Liberation Sans', sans-serif" >−8000</text>
<line x1="279.7" y1="60.26" x2="281.7" y2="60.26" stroke="#aaa" stroke-width="0.6"/>
<text x="278.90" y="63.03" font-size="7.70" text-anchor="end" fill="#0d0d0d" stroke="#0d0d0d" stroke-width="0.18" font-family="'DejaVu Sans', 'Liberation Sans', sans-serif" >−10000</text>
<line x1="279.7" y1="77.69" x2="281.7" y2="77.69" stroke="#aaa" stroke-width="0.6"/>
<text x="278.90" y="80.46" font-size="7.70" text-anchor="end" fill="#0d0d0d" stroke="#0d0d0d" stroke-width="0.18" font-family="'DejaVu Sans', 'Liberation Sans', sans-serif" >−12000</text>
<line x1="279.7" y1="95.12" x2="281.7" y2="95.12" stroke="#aaa" stroke-width="0.6"/>
<text x="278.90" y="97.89" font-size="7.70" text-anchor="end" fill="#0d0d0d" stroke="#0d0d0d" stroke-width="0.18" font-family="'DejaVu Sans', 'Liberation Sans', sans-serif" >−14000</text>
<line x1="279.7" y1="112.55" x2="281.7" y2="112.55" stroke="#aaa" stroke-width="0.6"/>
<text x="278.90" y="115.32" font-size="7.70" text-anchor="end" fill="#0d0d0d" stroke="#0d0d0d" stroke-width="0.18" font-family="'DejaVu Sans', 'Liberation Sans', sans-serif" >−16000</text>
<line x1="279.7" y1="129.98" x2="281.7" y2="129.98" stroke="#aaa" stroke-width="0.6"/>
<text x="278.90" y="132.75" font-size="7.70" text-anchor="end" fill="#0d0d0d" stroke="#0d0d0d" stroke-width="0.18" font-family="'DejaVu Sans', 'Liberation Sans', sans-serif" >−18000</text>
<text x="367.00" y="9.30" font-size="8.35" text-anchor="middle" fill="#0d0d0d" stroke="#0d0d0d" stroke-width="0.18" font-family="'DejaVu Sans', 'Liberation Sans', sans-serif" >Convergence n=500 p=10</text>
<text x="367.00" y="156.10" font-size="7.70" text-anchor="middle" fill="#0d0d0d" stroke="#0d0d0d" stroke-width="0.18" font-family="'DejaVu Sans', 'Liberation Sans', sans-serif" >Iterations</text>
<text transform="translate(245.50,75.30) rotate(-90)" font-size="7.70" text-anchor="middle" fill="#0d0d0d" stroke="#0d0d0d" stroke-width="0.18" font-family="'DejaVu Sans', 'Liberation Sans', sans-serif">Objective Value</text>
<clipPath id="cC"><rect x="513.2" y="11.2" width="170.0" height="127.10000000000001"/></clipPath>
<g clip-path="url(#cC)">
<polyline points="520.60,36.70 520.69,65.68 520.79,38.40 520.88,66.04 520.98,40.08 521.07,66.28 521.17,41.47 521.26,66.48 521.36,42.31 521.45,66.67 521.55,42.62 521.64,66.85 521.74,42.86 521.83,67.02 521.93,43.07 522.02,67.19 522.12,43.25 522.21,67.34 522.30,43.40 522.40,67.48 522.49,43.52 522.59,67.61 522.68,43.63 522.78,67.73 522.87,43.73 522.97,67.85 523.06,43.82 523.16,67.95 523.25,43.91 523.35,68.04 523.44,44.00 523.54,68.12 523.63,44.10 523.73,68.19 523.82,44.21 523.91,68.25 524.01,44.33 524.10,68.30 524.20,44.48 524.29,68.34 524.39,44.62 524.48,68.39 524.58,44.77 524.67,68.43 524.77,44.91 524.86,68.47 524.96,45.05 525.05,68.51 525.15,45.19 525.24,68.54 525.33,45.34 525.43,68.58 525.52,45.48 525.62,68.61 525.71,45.63 525.81,68.64 525.90,45.78 526.00,68.67 526.09,45.93 526.19,68.70 526.28,46.09 526.38,68.72 526.47,46.24 526.57,68.74 526.66,46.41 526.76,68.76 526.85,46.58 526.94,68.77 527.04,46.75 527.13,68.78 527.23,46.93 527.32,68.79 527.42,47.12 527.51,68.80 527.61,47.31 527.70,68.80 527.80,47.52 527.89,68.80 527.99,47.73 528.08,68.78 528.18,47.95 528.27,68.76 528.37,48.18 528.46,68.74 528.55,48.42 528.65,68.71 528.74,48.66 528.84,68.67 528.93,48.91 529.03,68.63 529.12,49.16 529.22,68.58 529.31,49.42 529.41,68.53 529.50,49.68 529.60,68.47 529.69,49.94 529.79,68.42 529.88,50.21 529.98,68.36 530.07,50.47 530.16,68.30 530.26,50.74 530.35,68.24 530.45,51.01 530.54,68.17 530.64,51.27 530.73,68.11 530.83,51.54 530.92,68.05 531.02,51.81 531.11,67.99 531.21,52.08 531.30,67.93 531.40,52.37 531.49,67.87 531.59,52.65 531.68,67.81 531.77,52.94 531.87,67.74 531.96,53.24 532.06,67.67 532.15,53.53 532.25,67.60 532.34,53.83 532.44,67.52 532.53,54.13 532.63,67.44 532.72,54.43 532.82,67.36 532.91,54.72 533.01,67.28 533.10,55.02 533.20,67.20 533.29,55.31 533.38,67.12 533.48,55.60 533.57,67.04 533.67,55.88 533.76,66.96 533.86,56.16 533.95,66.88 534.05,56.43 534.14,66.81 534.24,56.69 534.33,66.75 534.43,56.95 534.52,66.68 534.62,57.21 534.71,66.63 534.80,57.47 534.90,66.57 534.99,57.72 535.09,66.52 535.18,57.98 535.28,66.46 535.37,58.23 535.47,66.41 535.56,58.47 535.66,66.35 535.75,58.72 535.85,66.30 535.94,58.97 536.04,66.25 536.13,59.21 536.23,66.20 536.32,59.45 536.41,66.15 536.51,59.69 536.60,66.10 536.70,59.92 536.79,66.06 536.89,60.16 536.98,66.02 537.08,60.39 537.17,65.98 537.27,60.62 537.36,65.95 537.46,60.85 537.55,65.93 537.65,61.08 537.74,65.91 537.84,61.30 537.93,65.90 538.02,61.53 538.12,65.90 538.21,61.76 538.31,65.90 538.40,61.99 538.50,65.91 538.59,62.21 538.69,65.91 538.78,62.44 538.88,65.92 538.97,62.66 539.07,65.93 539.16,62.88 539.26,65.95 539.35,63.09 539.45,65.96 539.54,63.31 539.63,65.98 539.73,63.52 539.82,66.00 539.92,63.72 540.01,66.02 540.11,63.92 540.20,66.04 540.30,64.11 540.39,66.06 540.49,64.30 540.58,66.08 540.68,64.48 540.77,66.11 540.87,64.66 540.96,66.13 541.06,64.83 541.15,66.16 541.24,65.00 541.34,66.18 541.43,65.16 541.53,66.20 541.62,65.32 541.72,66.23 541.81,65.48 541.91,66.26 542.00,65.63 542.10,66.29 542.19,65.77 542.29,66.33 542.38,65.91 542.48,66.37 542.57,66.05 542.67,66.41 542.76,66.17 542.85,66.45 542.95,66.29 543.04,66.49 543.14,66.41 543.23,66.54 543.33,66.51 543.42,66.58 543.50,66.60 543.93,66.84 544.37,67.09 544.80,67.33 545.23,67.58 545.67,67.82 546.10,68.07 546.53,68.31 546.97,68.55 547.40,68.80 547.83,69.04 548.27,69.29 548.70,69.53 549.14,69.77 549.57,70.02 550.00,70.26 550.44,70.50 550.87,70.74 551.31,70.99 551.74,71.23 552.18,71.47 552.61,71.71 553.05,71.96 553.48,72.20 553.91,72.44 554.35,72.68 554.78,72.92 555.22,73.17 555.65,73.41 556.09,73.65 556.52,73.89 556.96,74.13 557.39,74.37 557.83,74.61 558.26,74.85 558.70,75.09 559.14,75.34 559.57,75.58 560.01,75.82 560.44,76.06 560.88,76.30 561.31,76.54 561.75,76.78 562.19,77.02 562.62,77.25 563.06,77.49 563.49,77.73 563.93,77.97 564.37,78.21 564.80,78.45 565.24,78.69 565.68,78.93 566.11,79.17 566.55,79.41 566.98,79.65 567.42,79.89 567.86,80.12 568.29,80.36 568.73,80.60 569.17,80.84 569.60,81.08 570.04,81.32 570.48,81.56 570.91,81.80 571.35,82.03 571.79,82.27 572.22,82.51 572.66,82.75 573.09,82.99 573.53,83.23 573.97,83.47 574.40,83.71 574.84,83.94 575.28,84.18 575.71,84.42 576.15,84.66 576.59,84.90 577.02,85.14 577.46,85.38 577.90,85.62 578.33,85.85 578.77,86.09 579.21,86.33 579.64,86.57 580.08,86.81 580.52,87.05 580.95,87.28 581.39,87.52 581.83,87.76 582.26,88.00 582.70,88.24 583.14,88.48 583.57,88.71 584.01,88.95 584.45,89.19 584.88,89.43 585.32,89.67 585.76,89.91 586.19,90.14 586.63,90.38 587.07,90.62 587.51,90.86 587.94,91.10 588.38,91.33 588.82,91.57 589.25,91.81 589.69,92.05 590.13,92.28 590.56,92.52 591.00,92.76 591.44,93.00 591.88,93.24 592.31,93.47 592.75,93.71 593.19,93.95 593.62,94.19 594.06,94.42 594.50,94.66 594.94,94.90 595.37,95.13 595.81,95.37 596.25,95.61 596.69,95.85 597.12,96.08 597.56,96.32 598.00,96.56 598.44,96.79 598.87,97.03 599.31,97.27 599.75,97.50 600.19,97.74 600.62,97.98 601.06,98.21 601.50,98.45 601.94,98.69 602.37,98.92 602.81,99.16 603.25,99.39 603.69,99.63 604.13,99.87 604.56,100.10 605.00,100.34 605.44,100.57 605.88,100.81 606.32,101.05 606.75,101.28 607.19,101.52 607.63,101.75 608.07,101.99 608.51,102.22 608.95,102.46 609.38,102.69 609.82,102.93 610.26,103.16 610.70,103.40 611.14,103.63 611.58,103.87 612.01,104.10 612.45,104.34 612.89,104.57 613.33,104.81 613.77,105.04 614.21,105.28 614.65,105.51 615.09,105.75 615.53,105.98 615.96,106.21 616.40,106.45 616.84,106.68 617.28,106.91 617.72,107.14 618.16,107.38 618.60,107.61 619.04,107.84 619.48,108.07 619.92,108.30 620.37,108.53 620.81,108.76 621.25,108.99 621.69,109.23 622.13,109.46 622.57,109.69 623.01,109.92 623.45,110.15 623.89,110.38 624.33,110.61 624.78,110.84 625.22,111.07 625.66,111.30 626.10,111.53 626.54,111.76 626.98,111.99 627.42,112.22 627.86,112.45 628.31,112.68 628.75,112.91 629.19,113.14 629.63,113.37 630.07,113.60 630.51,113.83 630.95,114.06 631.39,114.29 631.83,114.53 632.27,114.76 632.71,114.99 633.15,115.22 633.59,115.46 634.03,115.69 634.47,115.92 634.91,116.16 635.34,116.39 635.78,116.63 636.22,116.86 636.66,117.10 637.10,117.34 637.53,117.57 637.97,117.81 638.41,118.05 638.84,118.29 639.28,118.53 639.71,118.77 640.15,119.01 640.58,119.25 641.02,119.50 641.45,119.74 641.89,119.98 642.32,120.23 642.75,120.47 643.19,120.72 643.62,120.96 644.05,121.20 644.49,121.45 644.92,121.69 645.35,121.94 645.79,122.18 646.22,122.43 646.66,122.67 647.09,122.91 647.52,123.16 647.96,123.40 648.39,123.64 648.83,123.88 649.26,124.12 649.70,124.36 650.14,124.60 650.57,124.84 651.01,125.07 651.45,125.31 651.89,125.54 652.33,125.77 652.77,126.01 653.21,126.24 653.64,126.48 654.08,126.71 654.52,126.95 654.96,127.18 655.40,127.42 655.84,127.65 656.29,127.88 656.73,128.11 657.17,128.33 657.62,128.56 658.06,128.78 658.51,128.99 658.96,129.21 659.41,129.42 659.86,129.63 660.31,129.84 660.76,130.06 661.21,130.28 661.67,130.51 662.12,130.73 662.58,130.95 663.04,131.15 663.50,131.34 663.97,131.52 664.43,131.67 664.90,131.80 665.38,131.90 665.86,131.98 666.35,132.06 666.84,132.13 667.33,132.20 667.83,132.26 668.33,132.32 668.83,132.36 669.33,132.39 669.83,132.40 670.33,132.40 670.82,132.40 671.32,132.40 671.82,132.40 672.31,132.40 672.81,132.40 673.31,132.40 673.81,132.40 674.30,132.40 674.80,132.40 675.30,132.40 675.80,132.40" fill="none" stroke="#2a7ebb" stroke-width="0.9" stroke-opacity="1.0" stroke-linejoin="round" stroke-linecap="butt"/>
<polyline points="520.70,20.00 520.70,20.52 520.70,21.04 520.70,21.57 520.70,22.09 520.70,22.61 520.70,23.13 520.70,23.65 520.70,24.18 520.70,24.70 520.70,25.22 520.70,25.74 520.70,26.27 520.70,26.79 520.70,27.31 520.70,27.83 520.70,28.35 520.70,28.88 520.70,29.40 520.70,29.92 520.70,30.44 520.70,30.96 520.70,31.49 520.70,32.01 520.71,32.53 520.71,33.05 520.71,33.57 520.71,34.10 520.71,34.62 520.71,35.14 520.71,35.66 520.71,36.18 520.71,36.71 520.71,37.23 520.71,37.75 520.71,38.27 520.71,38.79 520.71,39.32 520.71,39.84 520.71,40.36 520.72,40.88 520.72,41.40 520.72,41.93 520.72,42.45 520.72,42.97 520.72,43.49 520.72,44.02 520.72,44.54 520.72,45.06 520.72,45.58 520.72,46.10 520.72,46.63 520.73,47.15 520.73,47.67 520.73,48.19 520.73,48.71 520.73,49.23 520.73,49.76 520.73,50.28 520.73,50.80 520.73,51.32 520.74,51.84 520.74,52.37 520.74,52.89 520.74,53.41 520.74,53.93 520.74,54.45 520.74,54.98 520.75,55.50 520.75,56.02 520.75,56.54 520.75,57.06 520.75,57.59 520.75,58.11 520.75,58.63 520.76,59.15 520.76,59.67 520.76,60.20 520.76,60.72 520.76,61.24 520.76,61.76 520.77,62.28 520.77,62.81 520.77,63.33 520.77,63.85 520.77,64.37 520.77,64.89 520.78,65.42 520.78,65.94 520.78,66.46 520.78,66.98 520.78,67.50 520.78,68.03 520.79,68.55 520.79,69.07 520.79,69.59 520.79,70.11 520.79,70.63 520.80,71.16 520.80,71.68 520.80,72.20 520.80,72.72 520.81,73.24 520.81,73.77 520.81,74.29 520.81,74.81 520.81,75.33 520.82,75.85 520.82,76.38 520.82,76.90 520.82,77.42 520.83,77.94 520.83,78.46 520.83,78.98 520.83,79.51 520.84,80.03 520.84,80.55 520.84,81.07 520.84,81.59 520.85,82.12 520.85,82.64 520.85,83.16 520.85,83.68 520.86,84.20 520.86,84.73 520.86,85.25 520.86,85.77 520.87,86.29 520.87,86.81 520.87,87.33 520.88,87.86 520.88,88.38 520.88,88.90 520.88,89.42 520.89,89.94 520.89,90.47 520.89,90.99 520.90,91.51 520.90,92.03 520.90,92.55 520.91,93.07 520.91,93.60 520.91,94.12 520.92,94.64 520.92,95.16 520.92,95.68 520.93,96.21 520.93,96.73 520.93,97.25 520.94,97.77 520.94,98.29 520.94,98.82 520.95,99.34 520.95,99.86 520.95,100.38 520.96,100.90 520.96,101.42 520.96,101.95 520.97,102.47 520.97,102.99 520.97,103.51 520.98,104.03 520.98,104.56 520.99,105.08 520.99,105.60 521.00,106.12 521.00,106.64 521.01,107.17 521.02,107.69 521.02,108.21 521.03,108.74 521.04,109.26 521.05,109.78 521.06,110.31 521.07,110.83 521.08,111.35 521.09,111.88 521.11,112.40 521.12,112.92 521.13,113.45 521.15,113.97 521.16,114.49 521.18,115.01 521.20,115.54 521.21,116.06 521.23,116.58 521.25,117.10 521.27,117.62 521.29,118.14 521.31,118.67 521.33,119.19 521.36,119.71 521.38,120.23 521.40,120.75 521.43,121.27 521.46,121.78 521.48,122.30 521.51,122.82 521.54,123.34 521.57,123.87 521.62,124.42 521.67,124.98 521.73,125.55 521.79,126.13 521.87,126.70 521.96,127.26 522.05,127.81 522.16,128.33 522.28,128.83 522.41,129.30 522.55,129.72 522.71,130.11 522.89,130.45 523.20,130.78 523.64,131.10 524.14,131.39 524.69,131.64 525.23,131.82 525.73,131.92 526.22,131.99 526.73,132.06 527.25,132.12 527.77,132.17 528.30,132.21 528.83,132.25 529.36,132.28 529.89,132.29 530.42,132.30 530.94,132.30 531.46,132.30 531.98,132.30 532.50,132.30 533.02,132.30 533.55,132.30 534.07,132.30 534.59,132.30 535.11,132.30 535.63,132.30 536.15,132.30 536.67,132.30 537.19,132.30 537.71,132.30 538.24,132.30 538.76,132.30 539.28,132.30 539.80,132.30 540.32,132.30 540.84,132.30 541.36,132.30 541.88,132.30 542.41,132.30 542.93,132.30 543.45,132.30 543.97,132.30 544.49,132.30 545.01,132.30 545.53,132.30 546.06,132.30 546.58,132.30 547.10,132.30 547.62,132.30 548.14,132.30 548.66,132.30 549.19,132.30 549.71,132.30 550.23,132.30 550.75,132.30 551.27,132.30 551.80,132.30 552.32,132.30 552.84,132.30 553.36,132.30 553.88,132.30 554.41,132.30 554.93,132.30 555.45,132.30 555.97,132.30 556.50,132.30 557.02,132.30 557.54,132.30 558.06,132.30 558.59,132.30 559.11,132.30 559.63,132.30 560.15,132.30 560.68,132.30 561.20,132.30 561.72,132.30 562.24,132.30 562.77,132.30 563.29,132.30 563.81,132.30 564.34,132.30 564.86,132.30 565.38,132.30 565.91,132.30 566.43,132.30 566.95,132.30 567.48,132.30 568.00,132.30" fill="none" stroke="#ffa965" stroke-width="1.0" stroke-opacity="1.0" stroke-linejoin="round" stroke-linecap="butt"/>
<polyline points="520.50,16.40 520.50,16.87 520.50,17.35 520.50,17.82 520.50,18.29 520.50,18.76 520.50,19.24 520.50,19.71 520.50,20.18 520.50,20.65 520.50,21.13 520.50,21.60 520.50,22.07 520.50,22.54 520.50,23.02 520.50,23.49 520.50,23.96 520.50,24.43 520.50,24.91 520.50,25.38 520.50,25.85 520.50,26.33 520.50,26.80 520.50,27.27 520.50,27.74 520.50,28.22 520.50,28.69 520.50,29.16 520.50,29.63 520.51,30.11 520.51,30.58 520.51,31.05 520.51,31.52 520.51,32.00 520.51,32.47 520.51,32.94 520.51,33.41 520.51,33.89 520.51,34.36 520.51,34.83 520.51,35.30 520.51,35.78 520.51,36.25 520.51,36.72 520.51,37.20 520.51,37.67 520.51,38.14 520.51,38.61 520.51,39.09 520.52,39.56 520.52,40.03 520.52,40.50 520.52,40.98 520.52,41.45 520.52,41.92 520.52,42.39 520.52,42.87 520.52,43.34 520.52,43.81 520.52,44.28 520.52,44.76 520.52,45.23 520.52,45.70 520.53,46.17 520.53,46.65 520.53,47.12 520.53,47.59 520.53,48.06 520.53,48.54 520.53,49.01 520.53,49.48 520.53,49.95 520.53,50.43 520.53,50.90 520.54,51.37 520.54,51.84 520.54,52.32 520.54,52.79 520.54,53.26 520.54,53.74 520.54,54.21 520.54,54.68 520.54,55.15 520.54,55.63 520.55,56.10 520.55,56.57 520.55,57.04 520.55,57.52 520.55,57.99 520.55,58.46 520.55,58.93 520.55,59.41 520.56,59.88 520.56,60.35 520.56,60.82 520.56,61.30 520.56,61.77 520.56,62.24 520.56,62.71 520.56,63.19 520.57,63.66 520.57,64.13 520.57,64.60 520.57,65.08 520.57,65.55 520.57,66.02 520.57,66.49 520.58,66.97 520.58,67.44 520.58,67.91 520.58,68.38 520.58,68.86 520.58,69.33 520.59,69.80 520.59,70.27 520.59,70.75 520.59,71.22 520.59,71.69 520.59,72.16 520.59,72.64 520.60,73.11 520.60,73.58 520.60,74.05 520.60,74.53 520.60,75.00 520.61,75.47 520.61,75.94 520.61,76.42 520.61,76.89 520.61,77.36 520.61,77.83 520.62,78.31 520.62,78.78 520.62,79.25 520.62,79.72 520.62,80.20 520.63,80.67 520.63,81.14 520.63,81.61 520.63,82.09 520.63,82.56 520.64,83.03 520.64,83.50 520.64,83.98 520.64,84.45 520.64,84.92 520.65,85.39 520.65,85.87 520.65,86.34 520.65,86.81 520.65,87.28 520.66,87.76 520.66,88.23 520.66,88.70 520.66,89.17 520.67,89.65 520.67,90.12 520.67,90.59 520.67,91.06 520.68,91.54 520.68,92.01 520.68,92.48 520.68,92.95 520.69,93.43 520.69,93.90 520.69,94.37 520.69,94.84 520.69,95.32 520.70,95.79 520.70,96.26 520.70,96.73 520.71,97.21 520.71,97.68 520.71,98.15 520.71,98.62 520.72,99.09 520.72,99.57 520.72,100.04 520.72,100.51 520.73,100.98 520.73,101.46 520.73,101.93 520.73,102.40 520.74,102.87 520.74,103.35 520.74,103.82 520.75,104.29 520.75,104.76 520.75,105.24 520.76,105.71 520.76,106.18 520.77,106.66 520.77,107.13 520.78,107.60 520.79,108.08 520.79,108.55 520.80,109.02 520.81,109.50 520.81,109.97 520.82,110.44 520.83,110.92 520.84,111.39 520.85,111.86 520.86,112.34 520.87,112.81 520.88,113.28 520.89,113.76 520.90,114.23 520.92,114.70 520.93,115.17 520.94,115.65 520.96,116.12 520.97,116.59 520.99,117.06 521.00,117.54 521.02,118.01 521.03,118.48 521.05,118.95 521.07,119.42 521.09,119.89 521.10,120.37 521.12,120.84 521.14,121.31 521.16,121.78 521.18,122.25 521.21,122.72 521.23,123.19 521.25,123.67 521.28,124.17 521.32,124.67 521.36,125.19 521.41,125.70 521.46,126.22 521.52,126.73 521.59,127.23 521.66,127.72 521.74,128.20 521.83,128.65 521.93,129.09 522.03,129.50 522.15,129.88 522.27,130.23 522.45,130.56 522.75,130.89 523.15,131.20 523.61,131.49 524.09,131.71 524.56,131.87 524.99,131.95 525.44,132.03 525.90,132.09 526.37,132.15 526.85,132.20 527.34,132.24 527.82,132.27 528.30,132.29 528.78,132.30 529.25,132.30 529.72,132.30 530.19,132.30 530.67,132.30 531.14,132.30 531.61,132.30 532.08,132.30 532.55,132.30 533.02,132.30 533.50,132.30 533.97,132.30 534.44,132.30 534.91,132.30 535.38,132.30 535.85,132.30 536.33,132.30 536.80,132.30 537.27,132.30 537.74,132.30 538.22,132.30 538.69,132.30 539.16,132.30 539.63,132.30 540.11,132.30 540.58,132.30 541.05,132.30 541.52,132.30 542.00,132.30 542.47,132.30 542.94,132.30 543.42,132.30 543.89,132.30 544.36,132.30 544.84,132.30 545.31,132.30 545.78,132.30 546.26,132.30 546.73,132.30 547.20,132.30 547.68,132.30 548.15,132.30 548.63,132.30 549.10,132.30" fill="none" stroke="#fff" stroke-width="1.4" stroke-opacity="1.0" stroke-linejoin="round" stroke-linecap="butt"/>
<polyline points="520.50,16.40 520.50,16.87 520.50,17.35 520.50,17.82 520.50,18.29 520.50,18.76 520.50,19.24 520.50,19.71 520.50,20.18 520.50,20.65 520.50,21.13 520.50,21.60 520.50,22.07 520.50,22.54 520.50,23.02 520.50,23.49 520.50,23.96 520.50,24.43 520.50,24.91 520.50,25.38 520.50,25.85 520.50,26.33 520.50,26.80 520.50,27.27 520.50,27.74 520.50,28.22 520.50,28.69 520.50,29.16 520.50,29.63 520.51,30.11 520.51,30.58 520.51,31.05 520.51,31.52 520.51,32.00 520.51,32.47 520.51,32.94 520.51,33.41 520.51,33.89 520.51,34.36 520.51,34.83 520.51,35.30 520.51,35.78 520.51,36.25 520.51,36.72 520.51,37.20 520.51,37.67 520.51,38.14 520.51,38.61 520.51,39.09 520.52,39.56 520.52,40.03 520.52,40.50 520.52,40.98 520.52,41.45 520.52,41.92 520.52,42.39 520.52,42.87 520.52,43.34 520.52,43.81 520.52,44.28 520.52,44.76 520.52,45.23 520.52,45.70 520.53,46.17 520.53,46.65 520.53,47.12 520.53,47.59 520.53,48.06 520.53,48.54 520.53,49.01 520.53,49.48 520.53,49.95 520.53,50.43 520.53,50.90 520.54,51.37 520.54,51.84 520.54,52.32 520.54,52.79 520.54,53.26 520.54,53.74 520.54,54.21 520.54,54.68 520.54,55.15 520.54,55.63 520.55,56.10 520.55,56.57 520.55,57.04 520.55,57.52 520.55,57.99 520.55,58.46 520.55,58.93 520.55,59.41 520.56,59.88 520.56,60.35 520.56,60.82 520.56,61.30 520.56,61.77 520.56,62.24 520.56,62.71 520.56,63.19 520.57,63.66 520.57,64.13 520.57,64.60 520.57,65.08 520.57,65.55 520.57,66.02 520.57,66.49 520.58,66.97 520.58,67.44 520.58,67.91 520.58,68.38 520.58,68.86 520.58,69.33 520.59,69.80 520.59,70.27 520.59,70.75 520.59,71.22 520.59,71.69 520.59,72.16 520.59,72.64 520.60,73.11 520.60,73.58 520.60,74.05 520.60,74.53 520.60,75.00 520.61,75.47 520.61,75.94 520.61,76.42 520.61,76.89 520.61,77.36 520.61,77.83 520.62,78.31 520.62,78.78 520.62,79.25 520.62,79.72 520.62,80.20 520.63,80.67 520.63,81.14 520.63,81.61 520.63,82.09 520.63,82.56 520.64,83.03 520.64,83.50 520.64,83.98 520.64,84.45 520.64,84.92 520.65,85.39 520.65,85.87 520.65,86.34 520.65,86.81 520.65,87.28 520.66,87.76 520.66,88.23 520.66,88.70 520.66,89.17 520.67,89.65 520.67,90.12 520.67,90.59 520.67,91.06 520.68,91.54 520.68,92.01 520.68,92.48 520.68,92.95 520.69,93.43 520.69,93.90 520.69,94.37 520.69,94.84 520.69,95.32 520.70,95.79 520.70,96.26 520.70,96.73 520.71,97.21 520.71,97.68 520.71,98.15 520.71,98.62 520.72,99.09 520.72,99.57 520.72,100.04 520.72,100.51 520.73,100.98 520.73,101.46 520.73,101.93 520.73,102.40 520.74,102.87 520.74,103.35 520.74,103.82 520.75,104.29 520.75,104.76 520.75,105.24 520.76,105.71 520.76,106.18 520.77,106.66 520.77,107.13 520.78,107.60 520.79,108.08 520.79,108.55 520.80,109.02 520.81,109.50 520.81,109.97 520.82,110.44 520.83,110.92 520.84,111.39 520.85,111.86 520.86,112.34 520.87,112.81 520.88,113.28 520.89,113.76 520.90,114.23 520.92,114.70 520.93,115.17 520.94,115.65 520.96,116.12 520.97,116.59 520.99,117.06 521.00,117.54 521.02,118.01 521.03,118.48 521.05,118.95 521.07,119.42 521.09,119.89 521.10,120.37 521.12,120.84 521.14,121.31 521.16,121.78 521.18,122.25 521.21,122.72 521.23,123.19 521.25,123.67 521.28,124.17 521.32,124.67 521.36,125.19 521.41,125.70 521.46,126.22 521.52,126.73 521.59,127.23 521.66,127.72 521.74,128.20 521.83,128.65 521.93,129.09 522.03,129.50 522.15,129.88 522.27,130.23 522.45,130.56 522.75,130.89 523.15,131.20 523.61,131.49 524.09,131.71 524.56,131.87 524.99,131.95 525.44,132.03 525.90,132.09 526.37,132.15 526.85,132.20 527.34,132.24 527.82,132.27 528.30,132.29 528.78,132.30 529.25,132.30 529.72,132.30 530.19,132.30 530.67,132.30 531.14,132.30 531.61,132.30 532.08,132.30 532.55,132.30 533.02,132.30 533.50,132.30 533.97,132.30 534.44,132.30 534.91,132.30 535.38,132.30 535.85,132.30 536.33,132.30 536.80,132.30 537.27,132.30 537.74,132.30 538.22,132.30 538.69,132.30 539.16,132.30 539.63,132.30 540.11,132.30 540.58,132.30 541.05,132.30 541.52,132.30 542.00,132.30 542.47,132.30 542.94,132.30 543.42,132.30 543.89,132.30 544.36,132.30 544.84,132.30 545.31,132.30 545.78,132.30 546.26,132.30 546.73,132.30 547.20,132.30 547.68,132.30 548.15,132.30 548.63,132.30 549.10,132.30" fill="none" stroke="#66b960" stroke-width="1.0" stroke-opacity="1.0" stroke-linejoin="round" stroke-linecap="butt"/>
</g>
<rect x="589.7" y="15.3" width="89.5" height="36.5" rx="1.6" fill="#fff" fill-opacity="0.8" stroke="#d6d6d6" stroke-width="0.6"/>
<polyline points="592.50,21.50 608.10,21.50" fill="none" stroke="#2a7ebb" stroke-width="1.0" stroke-opacity="1.0" stroke-linejoin="round" stroke-linecap="butt"/>
<text x="614.90" y="24.27" font-size="7.70" text-anchor="start" fill="#0d0d0d" stroke="#0d0d0d" stroke-width="0.18" font-family="'DejaVu Sans', 'Liberation Sans', sans-serif" >RCGC-Dimishing</text>
<polyline points="592.50,32.90 608.10,32.90" fill="none" stroke="#ffa965" stroke-width="1.0" stroke-opacity="1.0" stroke-linejoin="round" stroke-linecap="butt"/>
<text x="614.90" y="35.67" font-size="7.70" text-anchor="start" fill="#0d0d0d" stroke="#0d0d0d" stroke-width="0.18" font-family="'DejaVu Sans', 'Liberation Sans', sans-serif" >RCGC-Adaptive</text>
<polyline points="592.50,44.30 608.10,44.30" fill="none" stroke="#66b960" stroke-width="1.0" stroke-opacity="1.0" stroke-linejoin="round" stroke-linecap="butt"/>
<text x="614.90" y="47.07" font-size="7.70" text-anchor="start" fill="#0d0d0d" stroke="#0d0d0d" stroke-width="0.18" font-family="'DejaVu Sans', 'Liberation Sans', sans-serif" >RCGC-Armijo</text>
<rect x="513.2" y="11.2" width="170.0" height="127.10000000000001" fill="none" stroke="#b4b4b4" stroke-width="1.0"/>
<line x1="520.80" y1="138.3" x2="520.80" y2="140.3" stroke="#aaa" stroke-width="0.6"/>
<text x="520.80" y="146.70" font-size="7.70" text-anchor="middle" fill="#0d0d0d" stroke="#0d0d0d" stroke-width="0.18" font-family="'DejaVu Sans', 'Liberation Sans', sans-serif" >0</text>
<line x1="544.42" y1="138.3" x2="544.42" y2="140.3" stroke="#aaa" stroke-width="0.6"/>
<text x="544.42" y="146.70" font-size="7.70" text-anchor="middle" fill="#0d0d0d" stroke="#0d0d0d" stroke-width="0.18" font-family="'DejaVu Sans', 'Liberation Sans', sans-serif" >250</text>
<line x1="568.05" y1="138.3" x2="568.05" y2="140.3" stroke="#aaa" stroke-width="0.6"/>
<text x="568.05" y="146.70" font-size="7.70" text-anchor="middle" fill="#0d0d0d" stroke="#0d0d0d" stroke-width="0.18" font-family="'DejaVu Sans', 'Liberation Sans', sans-serif" >500</text>
<line x1="591.67" y1="138.3" x2="591.67" y2="140.3" stroke="#aaa" stroke-width="0.6"/>
<text x="591.67" y="146.70" font-size="7.70" text-anchor="middle" fill="#0d0d0d" stroke="#0d0d0d" stroke-width="0.18" font-family="'DejaVu Sans', 'Liberation Sans', sans-serif" >750</text>
<line x1="615.30" y1="138.3" x2="615.30" y2="140.3" stroke="#aaa" stroke-width="0.6"/>
<text x="615.30" y="146.70" font-size="7.70" text-anchor="middle" fill="#0d0d0d" stroke="#0d0d0d" stroke-width="0.18" font-family="'DejaVu Sans', 'Liberation Sans', sans-serif" >1000</text>
<line x1="638.92" y1="138.3" x2="638.92" y2="140.3" stroke="#aaa" stroke-width="0.6"/>
<text x="638.92" y="146.70" font-size="7.70" text-anchor="middle" fill="#0d0d0d" stroke="#0d0d0d" stroke-width="0.18" font-family="'DejaVu Sans', 'Liberation Sans', sans-serif" >1250</text>
<line x1="662.55" y1="138.3" x2="662.55" y2="140.3" stroke="#aaa" stroke-width="0.6"/>
<text x="662.55" y="146.70" font-size="7.70" text-anchor="middle" fill="#0d0d0d" stroke="#0d0d0d" stroke-width="0.18" font-family="'DejaVu Sans', 'Liberation Sans', sans-serif" >1500</text>
<line x1="511.20000000000005" y1="17.80" x2="513.2" y2="17.80" stroke="#aaa" stroke-width="0.6"/>
<text x="510.40" y="20.57" font-size="7.70" text-anchor="end" fill="#0d0d0d" stroke="#0d0d0d" stroke-width="0.18" font-family="'DejaVu Sans', 'Liberation Sans', sans-serif" >−10000</text>
<line x1="511.20000000000005" y1="38.42" x2="513.2" y2="38.42" stroke="#aaa" stroke-width="0.6"/>
<text x="510.40" y="41.19" font-size="7.70" text-anchor="end" fill="#0d0d0d" stroke="#0d0d0d" stroke-width="0.18" font-family="'DejaVu Sans', 'Liberation Sans', sans-serif" >−15000</text>
<line x1="511.20000000000005" y1="59.04" x2="513.2" y2="59.04" stroke="#aaa" stroke-width="0.6"/>
<text x="510.40" y="61.81" font-size="7.70" text-anchor="end" fill="#0d0d0d" stroke="#0d0d0d" stroke-width="0.18" font-family="'DejaVu Sans', 'Liberation Sans', sans-serif" >−20000</text>
<line x1="511.20000000000005" y1="79.66" x2="513.2" y2="79.66" stroke="#aaa" stroke-width="0.6"/>
<text x="510.40" y="82.43" font-size="7.70" text-anchor="end" fill="#0d0d0d" stroke="#0d0d0d" stroke-width="0.18" font-family="'DejaVu Sans', 'Liberation Sans', sans-serif" >−25000</text>
<line x1="511.20000000000005" y1="100.28" x2="513.2" y2="100.28" stroke="#aaa" stroke-width="0.6"/>
<text x="510.40" y="103.05" font-size="7.70" text-anchor="end" fill="#0d0d0d" stroke="#0d0d0d" stroke-width="0.18" font-family="'DejaVu Sans', 'Liberation Sans', sans-serif" >−30000</text>
<line x1="511.20000000000005" y1="120.90" x2="513.2" y2="120.90" stroke="#aaa" stroke-width="0.6"/>
<text x="510.40" y="123.67" font-size="7.70" text-anchor="end" fill="#0d0d0d" stroke="#0d0d0d" stroke-width="0.18" font-family="'DejaVu Sans', 'Liberation Sans', sans-serif" >−35000</text>
<text x="598.35" y="9.30" font-size="8.35" text-anchor="middle" fill="#0d0d0d" stroke="#0d0d0d" stroke-width="0.18" font-family="'DejaVu Sans', 'Liberation Sans', sans-serif" >Convergence n=1000 p=10</text>
<text x="598.00" y="156.10" font-size="7.70" text-anchor="middle" fill="#0d0d0d" stroke="#0d0d0d" stroke-width="0.18" font-family="'DejaVu Sans', 'Liberation Sans', sans-serif" >Iterations</text>
<text transform="translate(476.60,75.30) rotate(-90)" font-size="7.70" text-anchor="middle" fill="#0d0d0d" stroke="#0d0d0d" stroke-width="0.18" font-family="'DejaVu Sans', 'Liberation Sans', sans-serif">Objective Value</text>
<clipPath id="cD"><rect x="53.5" y="255.1" width="165.6" height="123.29999999999998"/></clipPath>
<g clip-path="url(#cD)">
<polyline points="61.50,318.00 61.50,318.48 61.50,318.96 61.50,319.44 61.50,319.92 61.50,320.39 61.50,320.87 61.50,321.35 61.50,321.83 61.50,322.31 61.50,322.79 61.50,323.27 61.50,323.75 61.50,324.23 61.51,324.70 61.51,325.18 61.51,325.66 61.51,326.14 61.51,326.62 61.51,327.10 61.51,327.58 61.51,328.06 61.51,328.54 61.51,329.01 61.52,329.49 61.52,329.97 61.52,330.45 61.52,330.93 61.52,331.41 61.52,331.89 61.52,332.37 61.53,332.85 61.53,333.32 61.53,333.80 61.53,334.28 61.53,334.76 61.53,335.24 61.53,335.72 61.54,336.20 61.54,336.68 61.54,337.16 61.54,337.63 61.54,338.11 61.54,338.59 61.55,339.07 61.55,339.55 61.55,340.03 61.55,340.51 61.55,340.99 61.56,341.47 61.56,341.94 61.56,342.42 61.56,342.90 61.57,343.38 61.57,343.86 61.57,344.34 61.57,344.82 61.58,345.30 61.58,345.78 61.58,346.26 61.59,346.74 61.59,347.21 61.60,347.69 61.60,348.17 61.61,348.65 61.61,349.13 61.62,349.61 61.62,350.09 61.63,350.57 61.63,351.05 61.64,351.52 61.65,352.00 61.66,352.48 61.66,352.96 61.67,353.44 61.68,353.92 61.69,354.40 61.70,354.87 61.71,355.35 61.72,355.83 61.74,356.31 61.76,356.79 61.79,357.28 61.82,357.76 61.86,358.24 61.90,358.72 61.94,359.20 61.99,359.67 62.04,360.15 62.09,360.62 62.15,361.09 62.21,361.56 62.29,362.02 62.40,362.48 62.53,362.94 62.68,363.40 62.85,363.85 63.03,364.30 63.21,364.75 63.40,365.20" fill="none" stroke="#2a7ebb" stroke-width="0.8" stroke-opacity="1.0" stroke-linejoin="round" stroke-linecap="butt"/>
<polyline points="63.40,365.90 63.91,367.78 64.42,366.09 64.92,368.81 65.43,366.25 65.94,369.77 66.45,366.36 66.96,370.60 67.46,366.40 67.97,371.28 68.48,366.39 68.99,371.95 69.50,366.35 70.00,372.46 70.51,366.30 71.02,372.59 71.53,366.23 72.04,372.41 72.54,366.14 73.05,372.08 73.56,366.01 74.07,371.56 74.58,365.73 75.08,370.80 75.59,365.34 76.10,369.92 76.61,364.91 77.12,368.82 77.62,364.31 78.13,367.51 78.64,363.64 79.15,366.01 79.66,363.06 80.16,364.24 80.67,362.69" fill="none" stroke="#2a7ebb" stroke-width="0.45" stroke-opacity="1.0" stroke-linejoin="round" stroke-linecap="butt"/>
<polyline points="81.00,362.60 81.45,362.14 81.89,361.67 82.32,361.20 82.75,360.72 83.17,360.23 83.57,359.74 83.98,359.25 84.37,358.74 84.75,358.24 85.12,357.72 85.48,357.19 85.84,356.66 86.19,356.13 86.54,355.59 86.88,355.05 87.22,354.50 87.56,353.96 87.90,353.41 88.23,352.87 88.57,352.32 88.91,351.78 89.24,351.23 89.57,350.69 89.90,350.14 90.22,349.59 90.55,349.04 90.87,348.48 91.19,347.93 91.51,347.38 91.83,346.82 92.15,346.27 92.47,345.71 92.78,345.15 93.09,344.59 93.40,344.03 93.71,343.48 94.02,342.92 94.33,342.36 94.64,341.79 94.94,341.23 95.24,340.67 95.55,340.10 95.85,339.54 96.15,338.97 96.44,338.41 96.74,337.84 97.03,337.27 97.33,336.70 97.62,336.13 97.91,335.56 98.20,334.99 98.49,334.42 98.77,333.85 99.06,333.28 99.34,332.71 99.63,332.13 99.91,331.56 100.19,330.98 100.46,330.41 100.74,329.83 101.02,329.25 101.29,328.67 101.56,328.10 101.84,327.52 102.11,326.94 102.38,326.36 102.65,325.78 102.92,325.20 103.18,324.61 103.45,324.03 103.71,323.45 103.98,322.87 104.24,322.29 104.50,321.70 104.77,321.12 105.03,320.54 105.29,319.95 105.55,319.37 105.81,318.78 106.07,318.20 106.32,317.61 106.58,317.02 106.83,316.44 107.09,315.85 107.34,315.26 107.59,314.67 107.84,314.09 108.09,313.50 108.34,312.91 108.59,312.32 108.83,311.73 109.08,311.14 109.32,310.54 109.56,309.95 109.81,309.36 110.04,308.77 110.28,308.17 110.52,307.58 110.75,306.98 110.99,306.39 111.22,305.79 111.45,305.20 111.68,304.60 111.92,304.00 112.15,303.41 112.37,302.81 112.60,302.21 112.83,301.62 113.06,301.02 113.29,300.42 113.52,299.82 113.75,299.23 113.98,298.63 114.20,298.03 114.43,297.43 114.66,296.84 114.89,296.24 115.12,295.64 115.34,295.04 115.56,294.44 115.78,293.84 116.00,293.24 116.23,292.64 116.45,292.04 116.67,291.44 116.90,290.84 117.13,290.24 117.36,289.65 117.59,289.05 117.83,288.46 118.07,287.87 118.32,287.28 118.57,286.69 118.83,286.11 119.09,285.52 119.35,284.94 119.62,284.36 119.89,283.78 120.16,283.20 120.43,282.62 120.70,282.04 120.98,281.46 121.25,280.88 121.52,280.30 121.79,279.72 122.07,279.14 122.34,278.56 122.62,277.99 122.90,277.41 123.19,276.84 123.48,276.27 123.78,275.71 124.08,275.15 124.40,274.59 124.72,274.04 125.04,273.49 125.38,272.94 125.72,272.39 126.06,271.85 126.41,271.32 126.77,270.79 127.13,270.27 127.51,269.75 127.89,269.23 128.28,268.73 128.68,268.22 129.08,267.73 129.48,267.23 129.89,266.72 130.30,266.22 130.73,265.75 131.18,265.31 131.66,264.90 132.17,264.52 132.71,264.16 133.26,263.82 133.82,263.50 134.38,263.21 134.95,262.92 135.54,262.65 136.13,262.39 136.73,262.16 137.33,261.94 137.94,261.76 138.55,261.59 139.17,261.43 139.80,261.29 140.43,261.16 141.06,261.06 141.69,260.98 142.33,260.91 142.96,260.85 143.60,260.79 144.24,260.73 144.87,260.68 145.51,260.64 146.15,260.60 146.80,260.57 147.44,260.54 148.08,260.52 148.72,260.50 149.35,260.49 149.99,260.48 150.63,260.47 151.27,260.46 151.91,260.45 152.55,260.45 153.19,260.44 153.83,260.43 154.47,260.43 155.11,260.42 155.75,260.42 156.39,260.41 157.03,260.41 157.67,260.40 158.31,260.40 158.95,260.40 159.59,260.40 160.23,260.40 160.87,260.40 161.51,260.40 162.15,260.40 162.79,260.40 163.43,260.40 164.07,260.40 164.71,260.40 165.35,260.40 165.99,260.40 166.62,260.40 167.26,260.40 167.90,260.40 168.54,260.40 169.18,260.40 169.82,260.40 170.46,260.40 171.10,260.40 171.74,260.40 172.38,260.40 173.02,260.40 173.66,260.40 174.30,260.40 174.94,260.40 175.58,260.40 176.22,260.40 176.86,260.40 177.50,260.40 178.14,260.40 178.78,260.40 179.42,260.40 180.06,260.40 180.70,260.40 181.34,260.40 181.98,260.40 182.62,260.40 183.26,260.40 183.89,260.40 184.53,260.40 185.17,260.40 185.81,260.40 186.45,260.40 187.09,260.40 187.73,260.40 188.37,260.40 189.01,260.40 189.65,260.40 190.29,260.40 190.93,260.40 191.57,260.40 192.21,260.40 192.85,260.40 193.49,260.40 194.13,260.40 194.77,260.40 195.41,260.40 196.05,260.40 196.69,260.40 197.33,260.40 197.97,260.40 198.61,260.40 199.25,260.40 199.89,260.40 200.53,260.40 201.17,260.40 201.81,260.40 202.44,260.40 203.08,260.40 203.72,260.40 204.36,260.40 205.00,260.40 205.64,260.40 206.28,260.40 206.92,260.40 207.56,260.40 208.20,260.40 208.84,260.40 209.48,260.40 210.12,260.40 210.76,260.40 211.40,260.40" fill="none" stroke="#2a7ebb" stroke-width="1.0" stroke-opacity="1.0" stroke-linejoin="round" stroke-linecap="butt"/>
<polyline points="61.50,318.00 61.50,317.59 61.50,317.17 61.50,316.76 61.51,316.35 61.51,315.94 61.51,315.52 61.51,315.11 61.52,314.70 61.52,314.28 61.52,313.87 61.52,313.46 61.53,313.05 61.53,312.63 61.54,312.22 61.54,311.81 61.54,311.39 61.55,310.98 61.55,310.57 61.56,310.15 61.56,309.74 61.57,309.33 61.57,308.92 61.58,308.50 61.58,308.09 61.59,307.68 61.59,307.26 61.60,306.85 61.60,306.44 61.61,306.03 61.61,305.61 61.62,305.20 61.63,304.79 61.63,304.38 61.64,303.96 61.64,303.55 61.65,303.14 61.66,302.72 61.66,302.31 61.67,301.90 61.68,301.49 61.68,301.07 61.69,300.66 61.70,300.25 61.70,299.83 61.71,299.42 61.72,299.01 61.72,298.60 61.73,298.18 61.74,297.77 61.75,297.36 61.76,296.94 61.77,296.53 61.78,296.12 61.79,295.71 61.80,295.29 61.81,294.88 61.82,294.47 61.83,294.06 61.84,293.64 61.85,293.23 61.86,292.82 61.87,292.40 61.88,291.99 61.90,291.58 61.91,291.17 61.92,290.75 61.93,290.34 61.95,289.93 61.96,289.52 61.97,289.10 61.98,288.69 62.00,288.28 62.01,287.86 62.02,287.45 62.03,287.04 62.05,286.63 62.06,286.21 62.07,285.80 62.09,285.39 62.10,284.98 62.11,284.56 62.13,284.15 62.14,283.74 62.15,283.32 62.16,282.91 62.18,282.50 62.19,282.09 62.20,281.67 62.21,281.26 62.23,280.85 62.24,280.43 62.25,280.02 62.26,279.61 62.28,279.19 62.29,278.78 62.31,278.37 62.32,277.95 62.33,277.54 62.35,277.13 62.36,276.71 62.38,276.30 62.40,275.89 62.41,275.48 62.43,275.06 62.45,274.65 62.47,274.24 62.48,273.83 62.50,273.41 62.52,273.00 62.55,272.59 62.57,272.18 62.59,271.77 62.61,271.36 62.64,270.94 62.67,270.53 62.69,270.12 62.72,269.71 62.75,269.30 62.78,268.88 62.82,268.46 62.86,268.05 62.90,267.63 62.95,267.21 63.00,266.80 63.06,266.38 63.12,265.97 63.19,265.56 63.26,265.16 63.33,264.76 63.42,264.37 63.50,263.98 63.61,263.58 63.76,263.16 63.93,262.73 64.12,262.31 64.34,261.93 64.58,261.59 64.83,261.33 65.10,261.14 65.41,260.98 65.78,260.83 66.19,260.70 66.62,260.58 67.07,260.49 67.51,260.43 67.93,260.40 68.33,260.40 68.74,260.40 69.14,260.40 69.55,260.40 69.95,260.40 70.35,260.40 70.76,260.40 71.16,260.40 71.57,260.40 71.97,260.40 72.37,260.40 72.78,260.40 73.18,260.40 73.59,260.40 73.99,260.40 74.40,260.40 74.80,260.40 75.21,260.40 75.61,260.40 76.02,260.40 76.42,260.40 76.83,260.40 77.23,260.40 77.64,260.40 78.05,260.40 78.45,260.40 78.86,260.40 79.26,260.40 79.67,260.40 80.08,260.40 80.48,260.40 80.89,260.40 81.29,260.40 81.70,260.40 82.11,260.40 82.51,260.40 82.92,260.40 83.33,260.40 83.73,260.40 84.14,260.40 84.55,260.40 84.96,260.40 85.36,260.40 85.77,260.40 86.18,260.40 86.59,260.40 86.99,260.40 87.40,260.40 87.81,260.40 88.22,260.40 88.63,260.40 89.04,260.40 89.44,260.40 89.85,260.40 90.26,260.40 90.67,260.40 91.08,260.40 91.49,260.40 91.90,260.40 92.31,260.40 92.72,260.40 93.13,260.40 93.54,260.40 93.95,260.40 94.36,260.40 94.77,260.40 95.18,260.40 95.59,260.40 96.00,260.40 96.41,260.40 96.82,260.40 97.23,260.40 97.64,260.40 98.06,260.40 98.47,260.40 98.88,260.40 99.29,260.40 99.70,260.40 100.12,260.40 100.53,260.40 100.94,260.40 101.35,260.40 101.77,260.40 102.18,260.40 102.59,260.40 103.00,260.40 103.42,260.40 103.83,260.40 104.24,260.40 104.66,260.40 105.07,260.40 105.49,260.40 105.90,260.40 106.32,260.40 106.73,260.40 107.15,260.40 107.56,260.40 107.98,260.40 108.39,260.40 108.81,260.40 109.22,260.40 109.64,260.40 110.05,260.40 110.47,260.40 110.89,260.40 111.30,260.40 111.72,260.40 112.14,260.40 112.55,260.40 112.97,260.40 113.39,260.40 113.81,260.40 114.22,260.40 114.64,260.40 115.06,260.40 115.48,260.40 115.90,260.40 116.32,260.40 116.73,260.40 117.15,260.40 117.57,260.40 117.99,260.40 118.41,260.40 118.83,260.40 119.25,260.40 119.67,260.40 120.09,260.40 120.51,260.40 120.93,260.40 121.36,260.40 121.78,260.40 122.20,260.40 122.62,260.40 123.04,260.40 123.46,260.40 123.89,260.40 124.31,260.40 124.73,260.40 125.16,260.40 125.58,260.40 126.00,260.40 126.43,260.40 126.85,260.40 127.27,260.40 127.70,260.40 128.12,260.40 128.55,260.40 128.97,260.40 129.40,260.40 129.82,260.40 130.25,260.40 130.67,260.40 131.10,260.40" fill="none" stroke="#ffa965" stroke-width="1.0" stroke-opacity="1.0" stroke-linejoin="round" stroke-linecap="butt"/>
<polyline points="61.20,318.80 61.20,318.49 61.20,318.18 61.20,317.88 61.20,317.57 61.20,317.26 61.21,316.95 61.21,316.64 61.21,316.34 61.21,316.03 61.21,315.72 61.21,315.41 61.22,315.10 61.22,314.80 61.22,314.49 61.22,314.18 61.22,313.87 61.23,313.56 61.23,313.26 61.23,312.95 61.23,312.64 61.24,312.33 61.24,312.03 61.24,311.72 61.25,311.41 61.25,311.10 61.25,310.79 61.26,310.49 61.26,310.18 61.26,309.87 61.27,309.56 61.27,309.25 61.27,308.95 61.28,308.64 61.28,308.33 61.28,308.02 61.29,307.71 61.29,307.41 61.30,307.10 61.30,306.79 61.30,306.48 61.31,306.18 61.31,305.87 61.32,305.56 61.32,305.25 61.33,304.94 61.33,304.64 61.33,304.33 61.34,304.02 61.34,303.71 61.35,303.40 61.35,303.10 61.36,302.79 61.36,302.48 61.37,302.17 61.37,301.86 61.38,301.56 61.38,301.25 61.39,300.94 61.39,300.63 61.39,300.33 61.40,300.02 61.40,299.71 61.41,299.40 61.41,299.09 61.42,298.79 61.43,298.48 61.43,298.17 61.44,297.86 61.44,297.55 61.45,297.25 61.46,296.94 61.46,296.63 61.47,296.32 61.48,296.02 61.49,295.71 61.49,295.40 61.50,295.09 61.51,294.78 61.52,294.48 61.52,294.17 61.53,293.86 61.54,293.55 61.55,293.24 61.56,292.94 61.57,292.63 61.58,292.32 61.58,292.01 61.59,291.71 61.60,291.40 61.61,291.09 61.62,290.78 61.63,290.47 61.64,290.17 61.65,289.86 61.66,289.55 61.67,289.24 61.68,288.94 61.69,288.63 61.70,288.32 61.71,288.01 61.72,287.70 61.72,287.40 61.73,287.09 61.74,286.78 61.75,286.47 61.76,286.17 61.77,285.86 61.78,285.55 61.79,285.24 61.80,284.93 61.81,284.63 61.82,284.32 61.83,284.01 61.84,283.70 61.85,283.39 61.86,283.09 61.86,282.78 61.87,282.47 61.88,282.16 61.89,281.85 61.90,281.54 61.91,281.23 61.91,280.93 61.92,280.62 61.93,280.31 61.94,280.00 61.95,279.69 61.96,279.38 61.97,279.07 61.97,278.76 61.98,278.45 61.99,278.15 62.00,277.84 62.01,277.53 62.02,277.22 62.03,276.91 62.04,276.60 62.05,276.29 62.06,275.99 62.07,275.68 62.08,275.37 62.09,275.06 62.11,274.75 62.12,274.45 62.13,274.14 62.14,273.83 62.16,273.52 62.17,273.22 62.18,272.91 62.20,272.60 62.21,272.30 62.23,271.99 62.25,271.68 62.26,271.38 62.28,271.07 62.30,270.77 62.32,270.46 62.34,270.16 62.36,269.85 62.38,269.55 62.40,269.24 62.42,268.93 62.44,268.61 62.47,268.29 62.50,267.95 62.54,267.62 62.58,267.27 62.62,266.93 62.66,266.58 62.71,266.23 62.76,265.88 62.81,265.54 62.87,265.20 62.93,264.87 63.00,264.54 63.07,264.22 63.14,263.91 63.21,263.61 63.29,263.33 63.38,263.06 63.47,262.80 63.56,262.56 63.66,262.34 63.76,262.14 63.86,261.96 63.98,261.79 64.15,261.63 64.36,261.46 64.61,261.30 64.89,261.14 65.19,260.99 65.52,260.85 65.85,260.72 66.20,260.61 66.54,260.52 66.87,260.46 67.20,260.41 67.50,260.40 67.79,260.40 68.08,260.40 68.38,260.40 68.67,260.40 68.96,260.40 69.26,260.40 69.55,260.40 69.85,260.40 70.14,260.40 70.44,260.40 70.73,260.40 71.03,260.40 71.32,260.40 71.62,260.40 71.91,260.40 72.21,260.40 72.50,260.40 72.80,260.40 73.10,260.40 73.39,260.40 73.69,260.40 73.99,260.40 74.29,260.40 74.58,260.40 74.88,260.40 75.18,260.40 75.48,260.40 75.78,260.40 76.08,260.40 76.38,260.40 76.68,260.40 76.98,260.40 77.28,260.40 77.58,260.40 77.88,260.40 78.18,260.40 78.48,260.40 78.79,260.40 79.09,260.40 79.39,260.40 79.69,260.40 80.00,260.40 80.30,260.40 80.61,260.40 80.91,260.40 81.21,260.40 81.52,260.40 81.83,260.40 82.13,260.40 82.44,260.40 82.74,260.40 83.05,260.40 83.36,260.40 83.67,260.40 83.97,260.40 84.28,260.40 84.59,260.40 84.90,260.40 85.21,260.40 85.52,260.40 85.83,260.40 86.14,260.40 86.45,260.40 86.76,260.40 87.07,260.40 87.39,260.40 87.70,260.40 88.01,260.40 88.33,260.40 88.64,260.40 88.95,260.40 89.27,260.40 89.58,260.40 89.90,260.40 90.22,260.40 90.53,260.40 90.85,260.40 91.17,260.40 91.48,260.40 91.80,260.40 92.12,260.40 92.44,260.40 92.76,260.40 93.08,260.40 93.40,260.40 93.72,260.40 94.04,260.40 94.37,260.40 94.69,260.40 95.01,260.40 95.34,260.40 95.66,260.40 95.98,260.40 96.31,260.40 96.64,260.40 96.96,260.40 97.29,260.40 97.62,260.40 97.94,260.40 98.27,260.40 98.60,260.40" fill="none" stroke="#fff" stroke-width="1.4" stroke-opacity="1.0" stroke-linejoin="round" stroke-linecap="butt"/>
<polyline points="61.20,318.80 61.20,318.49 61.20,318.18 61.20,317.88 61.20,317.57 61.20,317.26 61.21,316.95 61.21,316.64 61.21,316.34 61.21,316.03 61.21,315.72 61.21,315.41 61.22,315.10 61.22,314.80 61.22,314.49 61.22,314.18 61.22,313.87 61.23,313.56 61.23,313.26 61.23,312.95 61.23,312.64 61.24,312.33 61.24,312.03 61.24,311.72 61.25,311.41 61.25,311.10 61.25,310.79 61.26,310.49 61.26,310.18 61.26,309.87 61.27,309.56 61.27,309.25 61.27,308.95 61.28,308.64 61.28,308.33 61.28,308.02 61.29,307.71 61.29,307.41 61.30,307.10 61.30,306.79 61.30,306.48 61.31,306.18 61.31,305.87 61.32,305.56 61.32,305.25 61.33,304.94 61.33,304.64 61.33,304.33 61.34,304.02 61.34,303.71 61.35,303.40 61.35,303.10 61.36,302.79 61.36,302.48 61.37,302.17 61.37,301.86 61.38,301.56 61.38,301.25 61.39,300.94 61.39,300.63 61.39,300.33 61.40,300.02 61.40,299.71 61.41,299.40 61.41,299.09 61.42,298.79 61.43,298.48 61.43,298.17 61.44,297.86 61.44,297.55 61.45,297.25 61.46,296.94 61.46,296.63 61.47,296.32 61.48,296.02 61.49,295.71 61.49,295.40 61.50,295.09 61.51,294.78 61.52,294.48 61.52,294.17 61.53,293.86 61.54,293.55 61.55,293.24 61.56,292.94 61.57,292.63 61.58,292.32 61.58,292.01 61.59,291.71 61.60,291.40 61.61,291.09 61.62,290.78 61.63,290.47 61.64,290.17 61.65,289.86 61.66,289.55 61.67,289.24 61.68,288.94 61.69,288.63 61.70,288.32 61.71,288.01 61.72,287.70 61.72,287.40 61.73,287.09 61.74,286.78 61.75,286.47 61.76,286.17 61.77,285.86 61.78,285.55 61.79,285.24 61.80,284.93 61.81,284.63 61.82,284.32 61.83,284.01 61.84,283.70 61.85,283.39 61.86,283.09 61.86,282.78 61.87,282.47 61.88,282.16 61.89,281.85 61.90,281.54 61.91,281.23 61.91,280.93 61.92,280.62 61.93,280.31 61.94,280.00 61.95,279.69 61.96,279.38 61.97,279.07 61.97,278.76 61.98,278.45 61.99,278.15 62.00,277.84 62.01,277.53 62.02,277.22 62.03,276.91 62.04,276.60 62.05,276.29 62.06,275.99 62.07,275.68 62.08,275.37 62.09,275.06 62.11,274.75 62.12,274.45 62.13,274.14 62.14,273.83 62.16,273.52 62.17,273.22 62.18,272.91 62.20,272.60 62.21,272.30 62.23,271.99 62.25,271.68 62.26,271.38 62.28,271.07 62.30,270.77 62.32,270.46 62.34,270.16 62.36,269.85 62.38,269.55 62.40,269.24 62.42,268.93 62.44,268.61 62.47,268.29 62.50,267.95 62.54,267.62 62.58,267.27 62.62,266.93 62.66,266.58 62.71,266.23 62.76,265.88 62.81,265.54 62.87,265.20 62.93,264.87 63.00,264.54 63.07,264.22 63.14,263.91 63.21,263.61 63.29,263.33 63.38,263.06 63.47,262.80 63.56,262.56 63.66,262.34 63.76,262.14 63.86,261.96 63.98,261.79 64.15,261.63 64.36,261.46 64.61,261.30 64.89,261.14 65.19,260.99 65.52,260.85 65.85,260.72 66.20,260.61 66.54,260.52 66.87,260.46 67.20,260.41 67.50,260.40 67.79,260.40 68.08,260.40 68.38,260.40 68.67,260.40 68.96,260.40 69.26,260.40 69.55,260.40 69.85,260.40 70.14,260.40 70.44,260.40 70.73,260.40 71.03,260.40 71.32,260.40 71.62,260.40 71.91,260.40 72.21,260.40 72.50,260.40 72.80,260.40 73.10,260.40 73.39,260.40 73.69,260.40 73.99,260.40 74.29,260.40 74.58,260.40 74.88,260.40 75.18,260.40 75.48,260.40 75.78,260.40 76.08,260.40 76.38,260.40 76.68,260.40 76.98,260.40 77.28,260.40 77.58,260.40 77.88,260.40 78.18,260.40 78.48,260.40 78.79,260.40 79.09,260.40 79.39,260.40 79.69,260.40 80.00,260.40 80.30,260.40 80.61,260.40 80.91,260.40 81.21,260.40 81.52,260.40 81.83,260.40 82.13,260.40 82.44,260.40 82.74,260.40 83.05,260.40 83.36,260.40 83.67,260.40 83.97,260.40 84.28,260.40 84.59,260.40 84.90,260.40 85.21,260.40 85.52,260.40 85.83,260.40 86.14,260.40 86.45,260.40 86.76,260.40 87.07,260.40 87.39,260.40 87.70,260.40 88.01,260.40 88.33,260.40 88.64,260.40 88.95,260.40 89.27,260.40 89.58,260.40 89.90,260.40 90.22,260.40 90.53,260.40 90.85,260.40 91.17,260.40 91.48,260.40 91.80,260.40 92.12,260.40 92.44,260.40 92.76,260.40 93.08,260.40 93.40,260.40 93.72,260.40 94.04,260.40 94.37,260.40 94.69,260.40 95.01,260.40 95.34,260.40 95.66,260.40 95.98,260.40 96.31,260.40 96.64,260.40 96.96,260.40 97.29,260.40 97.62,260.40 97.94,260.40 98.27,260.40 98.60,260.40" fill="none" stroke="#66b960" stroke-width="1.0" stroke-opacity="1.0" stroke-linejoin="round" stroke-linecap="butt"/>
</g>
<rect x="128.2" y="259.0" width="87.0" height="35.30000000000001" rx="1.6" fill="#fff" fill-opacity="0.8" stroke="#d6d6d6" stroke-width="0.6"/>
<polyline points="131.00,265.10 146.40,265.10" fill="none" stroke="#2a7ebb" stroke-width="1.0" stroke-opacity="1.0" stroke-linejoin="round" stroke-linecap="butt"/>
<text x="152.40" y="267.80" font-size="7.50" text-anchor="start" fill="#0d0d0d" stroke="#0d0d0d" stroke-width="0.18" font-family="'DejaVu Sans', 'Liberation Sans', sans-serif" >RCGC-Dimishing</text>
<polyline points="131.00,276.20 146.40,276.20" fill="none" stroke="#ffa965" stroke-width="1.0" stroke-opacity="1.0" stroke-linejoin="round" stroke-linecap="butt"/>
<text x="152.40" y="278.90" font-size="7.50" text-anchor="start" fill="#0d0d0d" stroke="#0d0d0d" stroke-width="0.18" font-family="'DejaVu Sans', 'Liberation Sans', sans-serif" >RCGC-Adaptive</text>
<polyline points="131.00,287.40 146.40,287.40" fill="none" stroke="#66b960" stroke-width="1.0" stroke-opacity="1.0" stroke-linejoin="round" stroke-linecap="butt"/>
<text x="152.40" y="290.10" font-size="7.50" text-anchor="start" fill="#0d0d0d" stroke="#0d0d0d" stroke-width="0.18" font-family="'DejaVu Sans', 'Liberation Sans', sans-serif" >RCGC-Armijo</text>
<rect x="53.5" y="255.1" width="165.6" height="123.29999999999998" fill="none" stroke="#b4b4b4" stroke-width="1.0"/>
<line x1="61.20" y1="378.4" x2="61.20" y2="380.4" stroke="#aaa" stroke-width="0.6"/>
<text x="61.20" y="386.90" font-size="7.50" text-anchor="middle" fill="#0d0d0d" stroke="#0d0d0d" stroke-width="0.18" font-family="'DejaVu Sans', 'Liberation Sans', sans-serif" >0</text>
<line x1="86.56" y1="378.4" x2="86.56" y2="380.4" stroke="#aaa" stroke-width="0.6"/>
<text x="86.56" y="386.90" font-size="7.50" text-anchor="middle" fill="#0d0d0d" stroke="#0d0d0d" stroke-width="0.18" font-family="'DejaVu Sans', 'Liberation Sans', sans-serif" >50</text>
<line x1="111.93" y1="378.4" x2="111.93" y2="380.4" stroke="#aaa" stroke-width="0.6"/>
<text x="111.93" y="386.90" font-size="7.50" text-anchor="middle" fill="#0d0d0d" stroke="#0d0d0d" stroke-width="0.18" font-family="'DejaVu Sans', 'Liberation Sans', sans-serif" >100</text>
<line x1="137.30" y1="378.4" x2="137.30" y2="380.4" stroke="#aaa" stroke-width="0.6"/>
<text x="137.30" y="386.90" font-size="7.50" text-anchor="middle" fill="#0d0d0d" stroke="#0d0d0d" stroke-width="0.18" font-family="'DejaVu Sans', 'Liberation Sans', sans-serif" >150</text>
<line x1="162.66" y1="378.4" x2="162.66" y2="380.4" stroke="#aaa" stroke-width="0.6"/>
<text x="162.66" y="386.90" font-size="7.50" text-anchor="middle" fill="#0d0d0d" stroke="#0d0d0d" stroke-width="0.18" font-family="'DejaVu Sans', 'Liberation Sans', sans-serif" >200</text>
<line x1="188.02" y1="378.4" x2="188.02" y2="380.4" stroke="#aaa" stroke-width="0.6"/>
<text x="188.02" y="386.90" font-size="7.50" text-anchor="middle" fill="#0d0d0d" stroke="#0d0d0d" stroke-width="0.18" font-family="'DejaVu Sans', 'Liberation Sans', sans-serif" >250</text>
<line x1="213.39" y1="378.4" x2="213.39" y2="380.4" stroke="#aaa" stroke-width="0.6"/>
<text x="213.39" y="386.90" font-size="7.50" text-anchor="middle" fill="#0d0d0d" stroke="#0d0d0d" stroke-width="0.18" font-family="'DejaVu Sans', 'Liberation Sans', sans-serif" >300</text>
<line x1="51.5" y1="261.20" x2="53.5" y2="261.20" stroke="#aaa" stroke-width="0.6"/>
<text x="50.90" y="264.20" font-size="7.50" text-anchor="end" fill="#0d0d0d" stroke="#0d0d0d" stroke-width="0.18" font-family="'DejaVu Sans', 'Liberation Sans', sans-serif" >0</text>
<line x1="51.5" y1="276.07" x2="53.5" y2="276.07" stroke="#aaa" stroke-width="0.6"/>
<text x="50.90" y="279.07" font-size="7.50" text-anchor="end" fill="#0d0d0d" stroke="#0d0d0d" stroke-width="0.18" font-family="'DejaVu Sans', 'Liberation Sans', sans-serif" >−25000</text>
<line x1="51.5" y1="290.94" x2="53.5" y2="290.94" stroke="#aaa" stroke-width="0.6"/>
<text x="50.90" y="293.94" font-size="7.50" text-anchor="end" fill="#0d0d0d" stroke="#0d0d0d" stroke-width="0.18" font-family="'DejaVu Sans', 'Liberation Sans', sans-serif" >−50000</text>
<line x1="51.5" y1="305.81" x2="53.5" y2="305.81" stroke="#aaa" stroke-width="0.6"/>
<text x="50.90" y="308.81" font-size="7.50" text-anchor="end" fill="#0d0d0d" stroke="#0d0d0d" stroke-width="0.18" font-family="'DejaVu Sans', 'Liberation Sans', sans-serif" >−75000</text>
<line x1="51.5" y1="320.68" x2="53.5" y2="320.68" stroke="#aaa" stroke-width="0.6"/>
<text x="50.90" y="323.68" font-size="7.50" text-anchor="end" fill="#0d0d0d" stroke="#0d0d0d" stroke-width="0.18" font-family="'DejaVu Sans', 'Liberation Sans', sans-serif" >−100000</text>
<line x1="51.5" y1="335.55" x2="53.5" y2="335.55" stroke="#aaa" stroke-width="0.6"/>
<text x="50.90" y="338.55" font-size="7.50" text-anchor="end" fill="#0d0d0d" stroke="#0d0d0d" stroke-width="0.18" font-family="'DejaVu Sans', 'Liberation Sans', sans-serif" >−125000</text>
<line x1="51.5" y1="350.42" x2="53.5" y2="350.42" stroke="#aaa" stroke-width="0.6"/>
<text x="50.90" y="353.42" font-size="7.50" text-anchor="end" fill="#0d0d0d" stroke="#0d0d0d" stroke-width="0.18" font-family="'DejaVu Sans', 'Liberation Sans', sans-serif" >−150000</text>
<line x1="51.5" y1="365.29" x2="53.5" y2="365.29" stroke="#aaa" stroke-width="0.6"/>
<text x="50.90" y="368.29" font-size="7.50" text-anchor="end" fill="#0d0d0d" stroke="#0d0d0d" stroke-width="0.18" font-family="'DejaVu Sans', 'Liberation Sans', sans-serif" >−175000</text>
<text x="136.40" y="252.90" font-size="7.85" text-anchor="middle" fill="#0d0d0d" stroke="#0d0d0d" stroke-width="0.18" font-family="'DejaVu Sans', 'Liberation Sans', sans-serif" >Theta Convergence n=100 p=10</text>
<text x="136.70" y="395.50" font-size="7.50" text-anchor="middle" fill="#0d0d0d" stroke="#0d0d0d" stroke-width="0.18" font-family="'DejaVu Sans', 'Liberation Sans', sans-serif" >Iterations</text>
<text transform="translate(13.40,317.20) rotate(-90)" font-size="7.50" text-anchor="middle" fill="#0d0d0d" stroke="#0d0d0d" stroke-width="0.18" font-family="'DejaVu Sans', 'Liberation Sans', sans-serif">Theta Value</text>
<clipPath id="cE"><rect x="264.6" y="236.3" width="186.79999999999995" height="139.0"/></clipPath>
<g clip-path="url(#cE)">
<polyline points="273.40,290.00 273.40,290.74 273.40,291.48 273.40,292.21 273.40,292.95 273.40,293.69 273.40,294.43 273.40,295.17 273.40,295.91 273.40,296.64 273.40,297.38 273.40,298.12 273.40,298.86 273.40,299.60 273.40,300.34 273.40,301.07 273.40,301.81 273.40,302.55 273.41,303.29 273.41,304.03 273.41,304.77 273.41,305.50 273.41,306.24 273.41,306.98 273.41,307.72 273.41,308.46 273.41,309.19 273.41,309.93 273.41,310.67 273.41,311.41 273.41,312.15 273.42,312.89 273.42,313.62 273.42,314.36 273.42,315.10 273.42,315.84 273.42,316.58 273.42,317.32 273.42,318.05 273.43,318.79 273.43,319.53 273.43,320.27 273.43,321.01 273.43,321.74 273.43,322.48 273.43,323.22 273.44,323.96 273.44,324.70 273.44,325.44 273.44,326.17 273.44,326.91 273.44,327.65 273.45,328.39 273.45,329.13 273.45,329.86 273.45,330.60 273.45,331.34 273.46,332.08 273.46,332.82 273.47,333.56 273.48,334.29 273.48,335.03 273.49,335.77 273.50,336.51 273.51,337.25 273.52,337.99 273.53,338.72 273.54,339.46 273.56,340.20 273.57,340.94 273.59,341.68 273.60,342.42 273.62,343.15 273.63,343.89 273.65,344.63 273.67,345.37 273.69,346.11 273.71,346.84 273.73,347.58 273.75,348.32 273.77,349.06 273.79,349.79 273.82,350.53 273.85,351.27 273.89,352.00 273.94,352.74 273.99,353.48 274.05,354.22 274.11,354.95 274.17,355.69 274.24,356.42 274.31,357.16 274.39,357.89 274.46,358.63 274.55,359.37 274.64,360.11 274.76,360.83 274.91,361.54 275.16,362.23 275.50,362.90 275.50,362.90 275.70,363.81 275.90,362.95 276.09,364.22 276.29,362.99 276.49,364.59 276.69,363.04 276.89,364.92 277.08,363.08 277.28,365.19 277.48,363.13 277.68,365.44 277.88,363.17 278.07,365.67 278.27,363.21 278.47,365.88 278.67,363.26 278.87,366.08 279.06,363.30 279.26,366.26 279.46,363.34 279.66,366.45 279.86,363.38 280.05,366.62 280.25,363.43 280.45,366.80 280.65,363.47 280.85,366.97 281.04,363.51 281.24,367.14 281.44,363.55 281.64,367.31 281.84,363.59 282.03,367.47 282.23,363.63 282.43,367.63 282.63,363.67 282.83,367.78 283.02,363.70 283.22,367.93 283.42,363.74 283.62,368.07 283.82,363.78 284.01,368.20 284.21,363.82 284.41,368.33 284.61,363.86 284.81,368.44 285.00,363.90 285.20,368.56 285.40,363.94 285.60,368.68 285.80,363.98 285.99,368.80 286.19,364.02 286.39,368.92 286.59,364.06 286.79,369.03 286.98,364.10 287.18,369.13 287.38,364.14 287.58,369.21 287.78,364.18 287.97,369.27 288.17,364.22 288.37,369.30 288.57,364.26 288.77,369.30 288.96,364.30 289.16,369.28 289.36,364.34 289.56,369.26 289.76,364.38 289.95,369.23 290.15,364.42 290.35,369.19 290.55,364.46 290.75,369.15 290.94,364.50 291.14,369.11 291.34,364.54 291.54,369.06 291.74,364.58 291.93,369.01 292.13,364.62 292.33,368.95 292.53,364.66 292.73,368.89 292.92,364.70 293.12,368.81 293.32,364.74 293.52,368.72 293.72,364.78 293.91,368.62 294.11,364.82 294.31,368.52 294.51,364.86 294.71,368.41 294.90,364.89 295.10,368.29 295.30,364.93 295.50,368.17 295.70,364.96 295.89,368.05 296.09,365.00 296.29,367.92 296.49,365.04 296.69,367.80 296.88,365.07 297.08,367.67 297.28,365.11 297.48,367.54 297.68,365.15 297.87,367.40 298.07,365.18 298.27,367.25 298.47,365.21 298.67,367.10 298.86,365.24 299.06,366.94 299.26,365.26 299.46,366.78 299.66,365.28 299.85,366.63 300.05,365.30 300.25,366.47 300.45,365.32 300.65,366.33 300.84,365.33 301.04,366.19 301.24,365.35 301.44,366.05 301.64,365.36 301.83,365.92 302.03,365.37 302.23,365.79 302.43,365.38 302.63,365.67 302.82,365.39 303.02,365.54 303.22,365.40 303.42,365.42 303.50,365.20 304.03,364.83 304.57,364.47 305.11,364.11 305.65,363.75 306.19,363.40 306.74,363.05 307.28,362.71 307.83,362.37 308.39,362.04 308.94,361.72 309.51,361.40 310.07,361.09 310.64,360.78 311.21,360.48 311.79,360.18 312.36,359.89 312.94,359.60 313.52,359.31 314.10,359.02 314.68,358.73 315.26,358.44 315.84,358.15 316.41,357.86 316.99,357.57 317.56,357.27 318.14,356.97 318.71,356.67 319.29,356.37 319.86,356.08 320.44,355.78 321.01,355.49 321.59,355.19 322.16,354.89 322.74,354.59 323.31,354.29 323.88,353.98 324.44,353.67 325.01,353.35 325.57,353.03 326.12,352.71 326.67,352.37 327.22,352.04 327.77,351.69 328.31,351.35 328.85,350.99 329.39,350.64 329.93,350.27 330.46,349.91 331.00,349.54 331.53,349.17 332.06,348.80 332.59,348.43 333.12,348.05 333.64,347.67 334.17,347.30 334.69,346.92 335.22,346.54 335.74,346.17 336.27,345.79 336.79,345.41 337.31,345.03 337.84,344.64 338.36,344.26 338.88,343.87 339.40,343.49 339.91,343.09 340.43,342.70 340.94,342.31 341.45,341.91 341.95,341.51 342.46,341.10 342.96,340.70 343.46,340.29 343.95,339.87 344.44,339.45 344.93,339.03 345.41,338.61 345.89,338.18 346.37,337.74 346.85,337.30 347.32,336.87 347.80,336.42 348.27,335.98 348.74,335.53 349.20,335.09 349.67,334.64 350.14,334.19 350.60,333.74 351.07,333.29 351.53,332.83 352.00,332.38 352.46,331.93 352.93,331.49 353.39,331.04 353.85,330.58 354.31,330.13 354.78,329.68 355.24,329.23 355.70,328.77 356.15,328.31 356.61,327.86 357.07,327.40 357.52,326.94 357.98,326.48 358.43,326.02 358.88,325.56 359.33,325.09 359.78,324.63 360.23,324.16 360.67,323.69 361.11,323.22 361.55,322.75 361.99,322.27 362.43,321.80 362.87,321.32 363.31,320.84 363.75,320.37 364.19,319.90 364.63,319.43 365.08,318.96 365.52,318.49 365.97,318.02 366.42,317.55 366.86,317.09 367.31,316.62 367.76,316.16 368.21,315.69 368.65,315.22 369.10,314.75 369.55,314.29 369.99,313.82 370.44,313.35 370.88,312.88 371.32,312.41 371.76,311.93 372.20,311.46 372.64,310.98 373.08,310.51 373.51,310.03 373.94,309.55 374.38,309.07 374.81,308.59 375.24,308.11 375.67,307.62 376.10,307.14 376.52,306.65 376.95,306.17 377.38,305.68 377.80,305.19 378.23,304.71 378.65,304.22 379.07,303.73 379.50,303.24 379.92,302.75 380.34,302.25 380.75,301.76 381.17,301.27 381.59,300.77 382.00,300.28 382.42,299.78 382.84,299.29 383.25,298.79 383.67,298.30 384.09,297.81 384.51,297.31 384.93,296.82 385.35,296.32 385.76,295.82 386.18,295.32 386.59,294.82 387.00,294.32 387.41,293.82 387.81,293.31 388.21,292.80 388.61,292.30 389.00,291.78 389.39,291.27 389.77,290.75 390.15,290.23 390.52,289.70 390.89,289.17 391.24,288.64 391.60,288.10 391.94,287.56 392.28,287.01 392.62,286.46 392.95,285.91 393.28,285.35 393.61,284.79 393.94,284.23 394.26,283.67 394.58,283.11 394.90,282.54 395.22,281.98 395.55,281.42 395.87,280.86 396.19,280.30 396.52,279.74 396.85,279.18 397.17,278.62 397.50,278.06 397.82,277.50 398.14,276.94 398.46,276.38 398.78,275.82 399.10,275.25 399.42,274.69 399.74,274.13 400.06,273.57 400.39,273.01 400.71,272.45 401.03,271.89 401.36,271.33 401.69,270.77 402.02,270.22 402.35,269.66 402.68,269.11 403.02,268.56 403.36,268.01 403.71,267.47 404.05,266.92 404.40,266.37 404.75,265.83 405.10,265.29 405.45,264.74 405.80,264.20 406.16,263.66 406.51,263.12 406.87,262.58 407.23,262.04 407.59,261.50 407.95,260.97 408.31,260.43 408.68,259.90 409.04,259.36 409.41,258.83 409.77,258.30 410.14,257.77 410.51,257.24 410.88,256.71 411.25,256.18 411.62,255.65 411.99,255.12 412.36,254.58 412.74,254.05 413.11,253.52 413.49,252.99 413.87,252.47 414.25,251.95 414.65,251.43 415.04,250.93 415.45,250.43 415.87,249.94 416.29,249.45 416.72,248.95 417.15,248.45 417.59,247.94 418.04,247.45 418.50,246.97 418.97,246.52 419.45,246.09 419.94,245.70 420.45,245.35 420.98,245.04 421.53,244.74 422.10,244.45 422.69,244.17 423.30,243.91 423.92,243.66 424.54,243.44 425.18,243.23 425.81,243.06 426.44,242.92 427.07,242.80 427.70,242.72 428.33,242.63 428.97,242.55 429.61,242.48 430.25,242.41 430.90,242.35 431.55,242.29 432.20,242.24 432.85,242.20 433.50,242.16 434.15,242.13 434.80,242.11 435.44,242.09 436.09,242.08 436.73,242.07 437.38,242.06 438.03,242.05 438.67,242.04 439.32,242.03 439.96,242.02 440.61,242.01 441.26,242.01 441.91,242.00 442.55,242.00 443.20,242.00" fill="none" stroke="#2a7ebb" stroke-width="0.9" stroke-opacity="1.0" stroke-linejoin="round" stroke-linecap="butt"/>
<polyline points="273.80,290.00 273.80,289.70 273.80,289.40 273.80,289.10 273.80,288.80 273.80,288.50 273.80,288.21 273.80,287.91 273.80,287.61 273.80,287.31 273.80,287.01 273.80,286.71 273.80,286.41 273.80,286.11 273.80,285.81 273.80,285.51 273.80,285.22 273.80,284.92 273.81,284.62 273.81,284.32 273.81,284.02 273.81,283.72 273.81,283.42 273.81,283.12 273.81,282.82 273.81,282.52 273.81,282.23 273.81,281.93 273.81,281.63 273.81,281.33 273.81,281.03 273.82,280.73 273.82,280.43 273.82,280.13 273.82,279.83 273.82,279.53 273.82,279.24 273.82,278.94 273.82,278.64 273.82,278.34 273.82,278.04 273.83,277.74 273.83,277.44 273.83,277.14 273.83,276.84 273.83,276.54 273.83,276.25 273.83,275.95 273.84,275.65 273.84,275.35 273.84,275.05 273.84,274.75 273.84,274.45 273.84,274.15 273.84,273.85 273.85,273.55 273.85,273.26 273.85,272.96 273.85,272.66 273.85,272.36 273.85,272.06 273.86,271.76 273.86,271.46 273.86,271.16 273.86,270.86 273.86,270.56 273.86,270.27 273.87,269.97 273.87,269.67 273.87,269.37 273.87,269.07 273.87,268.77 273.88,268.47 273.88,268.17 273.88,267.87 273.88,267.58 273.88,267.28 273.89,266.98 273.89,266.68 273.89,266.38 273.89,266.08 273.89,265.78 273.90,265.48 273.90,265.18 273.90,264.88 273.90,264.59 273.91,264.29 273.91,263.99 273.91,263.69 273.91,263.39 273.92,263.09 273.92,262.79 273.92,262.49 273.93,262.19 273.93,261.89 273.94,261.59 273.94,261.29 273.95,261.00 273.95,260.70 273.96,260.40 273.96,260.10 273.97,259.80 273.97,259.50 273.98,259.20 273.99,258.90 273.99,258.60 274.00,258.30 274.01,258.00 274.01,257.70 274.02,257.41 274.03,257.11 274.04,256.81 274.04,256.51 274.05,256.21 274.06,255.91 274.07,255.61 274.08,255.31 274.09,255.01 274.10,254.72 274.11,254.42 274.12,254.12 274.13,253.82 274.14,253.52 274.15,253.22 274.16,252.93 274.17,252.63 274.19,252.33 274.20,252.03 274.21,251.73 274.23,251.43 274.24,251.13 274.26,250.83 274.29,250.53 274.31,250.23 274.34,249.93 274.36,249.63 274.39,249.33 274.43,249.03 274.46,248.73 274.50,248.43 274.54,248.13 274.58,247.84 274.62,247.54 274.67,247.25 274.72,246.96 274.77,246.67 274.82,246.39 274.89,246.08 274.96,245.77 275.06,245.44 275.16,245.12 275.27,244.81 275.39,244.51 275.53,244.23 275.67,243.99 275.82,243.78 275.98,243.61 276.17,243.48 276.40,243.35 276.67,243.22 276.96,243.11 277.27,243.00 277.60,242.92 277.92,242.85 278.24,242.81 278.53,242.80 278.82,242.80 279.11,242.80 279.40,242.79 279.69,242.79 279.98,242.79 280.27,242.79 280.56,242.79 280.85,242.78 281.14,242.78 281.43,242.78 281.72,242.78 282.02,242.78 282.31,242.78 282.60,242.77 282.89,242.77 283.18,242.77 283.47,242.77 283.76,242.77 284.05,242.77 284.34,242.76 284.64,242.76 284.93,242.76 285.22,242.76 285.51,242.76 285.80,242.76 286.10,242.75 286.39,242.75 286.68,242.75 286.97,242.75 287.27,242.75 287.56,242.75 287.85,242.75 288.14,242.75 288.44,242.74 288.73,242.74 289.02,242.74 289.32,242.74 289.61,242.74 289.90,242.74 290.20,242.74 290.49,242.74 290.79,242.74 291.08,242.73 291.37,242.73 291.67,242.73 291.96,242.73 292.26,242.73 292.55,242.73 292.85,242.73 293.14,242.73 293.44,242.73 293.73,242.73 294.03,242.73 294.33,242.72 294.62,242.72 294.92,242.72 295.21,242.72 295.51,242.72 295.81,242.72 296.10,242.72 296.40,242.72 296.70,242.72 297.00,242.72 297.29,242.72 297.59,242.72 297.89,242.72 298.19,242.72 298.48,242.71 298.78,242.71 299.08,242.71 299.38,242.71 299.68,242.71 299.98,242.71 300.28,242.71 300.58,242.71 300.88,242.71 301.18,242.71 301.48,242.71 301.78,242.71 302.08,242.71 302.38,242.71 302.68,242.71 302.98,242.71 303.28,242.71 303.58,242.71 303.88,242.71 304.18,242.71 304.48,242.71 304.79,242.71 305.09,242.71 305.39,242.70 305.69,242.70 306.00,242.70 306.30,242.70 306.60,242.70 306.91,242.70 307.21,242.70 307.51,242.70 307.82,242.70 308.12,242.70 308.43,242.70 308.73,242.70 309.04,242.70 309.34,242.70 309.65,242.70 309.95,242.70 310.26,242.70 310.56,242.70 310.87,242.70 311.18,242.70 311.48,242.70 311.79,242.70 312.10,242.70 312.40,242.70 312.71,242.70 313.02,242.70 313.33,242.70 313.63,242.70 313.94,242.70 314.25,242.70 314.56,242.70 314.87,242.70 315.18,242.70 315.49,242.70 315.80,242.70 316.11,242.70 316.42,242.70 316.73,242.70 317.04,242.70 317.35,242.70 317.66,242.70 317.98,242.70 318.29,242.70 318.60,242.70" fill="none" stroke="#ffa965" stroke-width="1.0" stroke-opacity="1.0" stroke-linejoin="round" stroke-linecap="butt"/>
<polyline points="273.50,290.00 273.50,289.76 273.50,289.52 273.50,289.28 273.50,289.04 273.50,288.81 273.50,288.57 273.50,288.33 273.50,288.09 273.50,287.85 273.50,287.61 273.50,287.37 273.50,287.13 273.50,286.90 273.50,286.66 273.50,286.42 273.50,286.18 273.50,285.94 273.50,285.70 273.50,285.46 273.50,285.22 273.50,284.99 273.50,284.75 273.51,284.51 273.51,284.27 273.51,284.03 273.51,283.79 273.51,283.55 273.51,283.31 273.51,283.07 273.51,282.84 273.51,282.60 273.51,282.36 273.51,282.12 273.51,281.88 273.51,281.64 273.51,281.40 273.51,281.16 273.51,280.93 273.52,280.69 273.52,280.45 273.52,280.21 273.52,279.97 273.52,279.73 273.52,279.49 273.52,279.25 273.52,279.02 273.52,278.78 273.52,278.54 273.52,278.30 273.52,278.06 273.53,277.82 273.53,277.58 273.53,277.34 273.53,277.11 273.53,276.87 273.53,276.63 273.53,276.39 273.53,276.15 273.53,275.91 273.54,275.67 273.54,275.43 273.54,275.20 273.54,274.96 273.54,274.72 273.54,274.48 273.54,274.24 273.54,274.00 273.54,273.76 273.55,273.52 273.55,273.29 273.55,273.05 273.55,272.81 273.55,272.57 273.55,272.33 273.55,272.09 273.55,271.85 273.56,271.61 273.56,271.37 273.56,271.14 273.56,270.90 273.56,270.66 273.56,270.42 273.56,270.18 273.57,269.94 273.57,269.70 273.57,269.46 273.57,269.23 273.57,268.99 273.57,268.75 273.58,268.51 273.58,268.27 273.58,268.03 273.58,267.79 273.58,267.55 273.58,267.32 273.59,267.08 273.59,266.84 273.59,266.60 273.59,266.36 273.59,266.12 273.59,265.88 273.60,265.65 273.60,265.41 273.60,265.17 273.60,264.93 273.60,264.69 273.60,264.45 273.61,264.21 273.61,263.97 273.61,263.73 273.61,263.50 273.62,263.26 273.62,263.02 273.62,262.78 273.62,262.54 273.63,262.30 273.63,262.06 273.63,261.82 273.64,261.58 273.64,261.34 273.64,261.11 273.65,260.87 273.65,260.63 273.66,260.39 273.66,260.15 273.66,259.91 273.67,259.67 273.67,259.43 273.68,259.19 273.68,258.95 273.69,258.72 273.69,258.48 273.70,258.24 273.70,258.00 273.71,257.76 273.71,257.52 273.72,257.28 273.73,257.04 273.73,256.80 273.74,256.57 273.75,256.33 273.75,256.09 273.76,255.85 273.77,255.61 273.77,255.37 273.78,255.13 273.79,254.90 273.80,254.66 273.81,254.42 273.81,254.18 273.82,253.94 273.83,253.70 273.84,253.47 273.85,253.23 273.86,252.99 273.87,252.75 273.88,252.51 273.89,252.28 273.90,252.04 273.91,251.80 273.92,251.56 273.94,251.32 273.95,251.08 273.97,250.84 273.99,250.60 274.01,250.36 274.04,250.12 274.06,249.88 274.09,249.64 274.12,249.40 274.15,249.17 274.18,248.93 274.21,248.69 274.25,248.45 274.29,248.21 274.32,247.98 274.36,247.74 274.40,247.51 274.45,247.28 274.49,247.05 274.54,246.82 274.58,246.59 274.63,246.36 274.69,246.11 274.75,245.86 274.81,245.60 274.89,245.34 274.97,245.08 275.06,244.83 275.15,244.58 275.25,244.34 275.35,244.12 275.47,243.92 275.58,243.73 275.71,243.58 275.84,243.45 275.98,243.35 276.15,243.25 276.36,243.16 276.59,243.07 276.83,242.99 277.09,242.93 277.35,242.87 277.61,242.83 277.86,242.81 278.09,242.80 278.32,242.80 278.56,242.79 278.79,242.79 279.02,242.79 279.26,242.79 279.49,242.78 279.72,242.78 279.96,242.78 280.19,242.78 280.42,242.77 280.66,242.77 280.89,242.77 281.13,242.77 281.36,242.76 281.59,242.76 281.83,242.76 282.06,242.76 282.30,242.76 282.53,242.75 282.77,242.75 283.00,242.75 283.24,242.75 283.47,242.75 283.71,242.74 283.94,242.74 284.18,242.74 284.41,242.74 284.65,242.74 284.88,242.74 285.12,242.74 285.36,242.73 285.59,242.73 285.83,242.73 286.06,242.73 286.30,242.73 286.54,242.73 286.77,242.73 287.01,242.73 287.25,242.72 287.48,242.72 287.72,242.72 287.96,242.72 288.20,242.72 288.44,242.72 288.67,242.72 288.91,242.72 289.15,242.72 289.39,242.72 289.63,242.71 289.86,242.71 290.10,242.71 290.34,242.71 290.58,242.71 290.82,242.71 291.06,242.71 291.30,242.71 291.54,242.71 291.78,242.71 292.02,242.71 292.26,242.71 292.50,242.71 292.74,242.71 292.98,242.71 293.22,242.71 293.46,242.70 293.71,242.70 293.95,242.70 294.19,242.70 294.43,242.70 294.67,242.70 294.92,242.70 295.16,242.70 295.40,242.70 295.64,242.70 295.89,242.70 296.13,242.70 296.37,242.70 296.62,242.70 296.86,242.70 297.11,242.70 297.35,242.70 297.60,242.70 297.84,242.70 298.08,242.70 298.33,242.70 298.58,242.70 298.82,242.70 299.07,242.70 299.31,242.70 299.56,242.70 299.81,242.70 300.05,242.70 300.30,242.70" fill="none" stroke="#fff" stroke-width="1.4" stroke-opacity="1.0" stroke-linejoin="round" stroke-linecap="butt"/>
<polyline points="273.50,290.00 273.50,289.76 273.50,289.52 273.50,289.28 273.50,289.04 273.50,288.81 273.50,288.57 273.50,288.33 273.50,288.09 273.50,287.85 273.50,287.61 273.50,287.37 273.50,287.13 273.50,286.90 273.50,286.66 273.50,286.42 273.50,286.18 273.50,285.94 273.50,285.70 273.50,285.46 273.50,285.22 273.50,284.99 273.50,284.75 273.51,284.51 273.51,284.27 273.51,284.03 273.51,283.79 273.51,283.55 273.51,283.31 273.51,283.07 273.51,282.84 273.51,282.60 273.51,282.36 273.51,282.12 273.51,281.88 273.51,281.64 273.51,281.40 273.51,281.16 273.51,280.93 273.52,280.69 273.52,280.45 273.52,280.21 273.52,279.97 273.52,279.73 273.52,279.49 273.52,279.25 273.52,279.02 273.52,278.78 273.52,278.54 273.52,278.30 273.52,278.06 273.53,277.82 273.53,277.58 273.53,277.34 273.53,277.11 273.53,276.87 273.53,276.63 273.53,276.39 273.53,276.15 273.53,275.91 273.54,275.67 273.54,275.43 273.54,275.20 273.54,274.96 273.54,274.72 273.54,274.48 273.54,274.24 273.54,274.00 273.54,273.76 273.55,273.52 273.55,273.29 273.55,273.05 273.55,272.81 273.55,272.57 273.55,272.33 273.55,272.09 273.55,271.85 273.56,271.61 273.56,271.37 273.56,271.14 273.56,270.90 273.56,270.66 273.56,270.42 273.56,270.18 273.57,269.94 273.57,269.70 273.57,269.46 273.57,269.23 273.57,268.99 273.57,268.75 273.58,268.51 273.58,268.27 273.58,268.03 273.58,267.79 273.58,267.55 273.58,267.32 273.59,267.08 273.59,266.84 273.59,266.60 273.59,266.36 273.59,266.12 273.59,265.88 273.60,265.65 273.60,265.41 273.60,265.17 273.60,264.93 273.60,264.69 273.60,264.45 273.61,264.21 273.61,263.97 273.61,263.73 273.61,263.50 273.62,263.26 273.62,263.02 273.62,262.78 273.62,262.54 273.63,262.30 273.63,262.06 273.63,261.82 273.64,261.58 273.64,261.34 273.64,261.11 273.65,260.87 273.65,260.63 273.66,260.39 273.66,260.15 273.66,259.91 273.67,259.67 273.67,259.43 273.68,259.19 273.68,258.95 273.69,258.72 273.69,258.48 273.70,258.24 273.70,258.00 273.71,257.76 273.71,257.52 273.72,257.28 273.73,257.04 273.73,256.80 273.74,256.57 273.75,256.33 273.75,256.09 273.76,255.85 273.77,255.61 273.77,255.37 273.78,255.13 273.79,254.90 273.80,254.66 273.81,254.42 273.81,254.18 273.82,253.94 273.83,253.70 273.84,253.47 273.85,253.23 273.86,252.99 273.87,252.75 273.88,252.51 273.89,252.28 273.90,252.04 273.91,251.80 273.92,251.56 273.94,251.32 273.95,251.08 273.97,250.84 273.99,250.60 274.01,250.36 274.04,250.12 274.06,249.88 274.09,249.64 274.12,249.40 274.15,249.17 274.18,248.93 274.21,248.69 274.25,248.45 274.29,248.21 274.32,247.98 274.36,247.74 274.40,247.51 274.45,247.28 274.49,247.05 274.54,246.82 274.58,246.59 274.63,246.36 274.69,246.11 274.75,245.86 274.81,245.60 274.89,245.34 274.97,245.08 275.06,244.83 275.15,244.58 275.25,244.34 275.35,244.12 275.47,243.92 275.58,243.73 275.71,243.58 275.84,243.45 275.98,243.35 276.15,243.25 276.36,243.16 276.59,243.07 276.83,242.99 277.09,242.93 277.35,242.87 277.61,242.83 277.86,242.81 278.09,242.80 278.32,242.80 278.56,242.79 278.79,242.79 279.02,242.79 279.26,242.79 279.49,242.78 279.72,242.78 279.96,242.78 280.19,242.78 280.42,242.77 280.66,242.77 280.89,242.77 281.13,242.77 281.36,242.76 281.59,242.76 281.83,242.76 282.06,242.76 282.30,242.76 282.53,242.75 282.77,242.75 283.00,242.75 283.24,242.75 283.47,242.75 283.71,242.74 283.94,242.74 284.18,242.74 284.41,242.74 284.65,242.74 284.88,242.74 285.12,242.74 285.36,242.73 285.59,242.73 285.83,242.73 286.06,242.73 286.30,242.73 286.54,242.73 286.77,242.73 287.01,242.73 287.25,242.72 287.48,242.72 287.72,242.72 287.96,242.72 288.20,242.72 288.44,242.72 288.67,242.72 288.91,242.72 289.15,242.72 289.39,242.72 289.63,242.71 289.86,242.71 290.10,242.71 290.34,242.71 290.58,242.71 290.82,242.71 291.06,242.71 291.30,242.71 291.54,242.71 291.78,242.71 292.02,242.71 292.26,242.71 292.50,242.71 292.74,242.71 292.98,242.71 293.22,242.71 293.46,242.70 293.71,242.70 293.95,242.70 294.19,242.70 294.43,242.70 294.67,242.70 294.92,242.70 295.16,242.70 295.40,242.70 295.64,242.70 295.89,242.70 296.13,242.70 296.37,242.70 296.62,242.70 296.86,242.70 297.11,242.70 297.35,242.70 297.60,242.70 297.84,242.70 298.08,242.70 298.33,242.70 298.58,242.70 298.82,242.70 299.07,242.70 299.31,242.70 299.56,242.70 299.81,242.70 300.05,242.70 300.30,242.70" fill="none" stroke="#66b960" stroke-width="1.0" stroke-opacity="1.0" stroke-linejoin="round" stroke-linecap="butt"/>
</g>
<rect x="348.6" y="240.8" width="98.69999999999999" height="40.0" rx="1.6" fill="#fff" fill-opacity="0.8" stroke="#d6d6d6" stroke-width="0.6"/>
<polyline points="351.70,247.30 369.20,247.30" fill="none" stroke="#2a7ebb" stroke-width="1.0" stroke-opacity="1.0" stroke-linejoin="round" stroke-linecap="butt"/>
<text x="376.00" y="251.16" font-size="8.50" text-anchor="start" fill="#0d0d0d" stroke="#0d0d0d" stroke-width="0.18" font-family="'DejaVu Sans', 'Liberation Sans', sans-serif" >RCGC-Dimishing</text>
<polyline points="351.70,260.20 369.20,260.20" fill="none" stroke="#ffa965" stroke-width="1.0" stroke-opacity="1.0" stroke-linejoin="round" stroke-linecap="butt"/>
<text x="376.00" y="264.06" font-size="8.50" text-anchor="start" fill="#0d0d0d" stroke="#0d0d0d" stroke-width="0.18" font-family="'DejaVu Sans', 'Liberation Sans', sans-serif" >RCGC-Adaptive</text>
<polyline points="351.70,273.10 369.20,273.10" fill="none" stroke="#66b960" stroke-width="1.0" stroke-opacity="1.0" stroke-linejoin="round" stroke-linecap="butt"/>
<text x="376.00" y="276.96" font-size="8.50" text-anchor="start" fill="#0d0d0d" stroke="#0d0d0d" stroke-width="0.18" font-family="'DejaVu Sans', 'Liberation Sans', sans-serif" >RCGC-Armijo</text>
<rect x="264.6" y="236.3" width="186.79999999999995" height="139.0" fill="none" stroke="#b4b4b4" stroke-width="1.0"/>
<line x1="273.20" y1="375.3" x2="273.20" y2="377.3" stroke="#aaa" stroke-width="0.6"/>
<text x="273.20" y="385.80" font-size="8.50" text-anchor="middle" fill="#0d0d0d" stroke="#0d0d0d" stroke-width="0.18" font-family="'DejaVu Sans', 'Liberation Sans', sans-serif" >0</text>
<line x1="312.80" y1="375.3" x2="312.80" y2="377.3" stroke="#aaa" stroke-width="0.6"/>
<text x="312.80" y="385.80" font-size="8.50" text-anchor="middle" fill="#0d0d0d" stroke="#0d0d0d" stroke-width="0.18" font-family="'DejaVu Sans', 'Liberation Sans', sans-serif" >200</text>
<line x1="352.40" y1="375.3" x2="352.40" y2="377.3" stroke="#aaa" stroke-width="0.6"/>
<text x="352.40" y="385.80" font-size="8.50" text-anchor="middle" fill="#0d0d0d" stroke="#0d0d0d" stroke-width="0.18" font-family="'DejaVu Sans', 'Liberation Sans', sans-serif" >400</text>
<line x1="392.00" y1="375.3" x2="392.00" y2="377.3" stroke="#aaa" stroke-width="0.6"/>
<text x="392.00" y="385.80" font-size="8.50" text-anchor="middle" fill="#0d0d0d" stroke="#0d0d0d" stroke-width="0.18" font-family="'DejaVu Sans', 'Liberation Sans', sans-serif" >600</text>
<line x1="431.60" y1="375.3" x2="431.60" y2="377.3" stroke="#aaa" stroke-width="0.6"/>
<text x="431.60" y="385.80" font-size="8.50" text-anchor="middle" fill="#0d0d0d" stroke="#0d0d0d" stroke-width="0.18" font-family="'DejaVu Sans', 'Liberation Sans', sans-serif" >800</text>
<line x1="262.6" y1="243.30" x2="264.6" y2="243.30" stroke="#aaa" stroke-width="0.6"/>
<text x="262.50" y="247.16" font-size="8.50" text-anchor="end" fill="#0d0d0d" stroke="#0d0d0d" stroke-width="0.18" font-family="'DejaVu Sans', 'Liberation Sans', sans-serif" >0</text>
<line x1="262.6" y1="262.17" x2="264.6" y2="262.17" stroke="#aaa" stroke-width="0.6"/>
<text x="262.50" y="266.03" font-size="8.50" text-anchor="end" fill="#0d0d0d" stroke="#0d0d0d" stroke-width="0.18" font-family="'DejaVu Sans', 'Liberation Sans', sans-serif" >−1</text>
<line x1="262.6" y1="281.04" x2="264.6" y2="281.04" stroke="#aaa" stroke-width="0.6"/>
<text x="262.50" y="284.90" font-size="8.50" text-anchor="end" fill="#0d0d0d" stroke="#0d0d0d" stroke-width="0.18" font-family="'DejaVu Sans', 'Liberation Sans', sans-serif" >−2</text>
<line x1="262.6" y1="299.91" x2="264.6" y2="299.91" stroke="#aaa" stroke-width="0.6"/>
<text x="262.50" y="303.77" font-size="8.50" text-anchor="end" fill="#0d0d0d" stroke="#0d0d0d" stroke-width="0.18" font-family="'DejaVu Sans', 'Liberation Sans', sans-serif" >−3</text>
<line x1="262.6" y1="318.78" x2="264.6" y2="318.78" stroke="#aaa" stroke-width="0.6"/>
<text x="262.50" y="322.64" font-size="8.50" text-anchor="end" fill="#0d0d0d" stroke="#0d0d0d" stroke-width="0.18" font-family="'DejaVu Sans', 'Liberation Sans', sans-serif" >−4</text>
<line x1="262.6" y1="337.65" x2="264.6" y2="337.65" stroke="#aaa" stroke-width="0.6"/>
<text x="262.50" y="341.51" font-size="8.50" text-anchor="end" fill="#0d0d0d" stroke="#0d0d0d" stroke-width="0.18" font-family="'DejaVu Sans', 'Liberation Sans', sans-serif" >−5</text>
<line x1="262.6" y1="356.52" x2="264.6" y2="356.52" stroke="#aaa" stroke-width="0.6"/>
<text x="262.50" y="360.38" font-size="8.50" text-anchor="end" fill="#0d0d0d" stroke="#0d0d0d" stroke-width="0.18" font-family="'DejaVu Sans', 'Liberation Sans', sans-serif" >−6</text>
<line x1="262.6" y1="375.39" x2="264.6" y2="375.39" stroke="#aaa" stroke-width="0.6"/>
<text x="262.50" y="379.25" font-size="8.50" text-anchor="end" fill="#0d0d0d" stroke="#0d0d0d" stroke-width="0.18" font-family="'DejaVu Sans', 'Liberation Sans', sans-serif" >−7</text>
<text x="358.00" y="233.80" font-size="9.20" text-anchor="middle" fill="#0d0d0d" stroke="#0d0d0d" stroke-width="0.18" font-family="'DejaVu Sans', 'Liberation Sans', sans-serif" >Theta Convergence n=500 p=10</text>
<text x="357.80" y="395.50" font-size="8.50" text-anchor="middle" fill="#0d0d0d" stroke="#0d0d0d" stroke-width="0.18" font-family="'DejaVu Sans', 'Liberation Sans', sans-serif" >Iterations</text>
<text transform="translate(246.60,306.20) rotate(-90)" font-size="8.50" text-anchor="middle" fill="#0d0d0d" stroke="#0d0d0d" stroke-width="0.18" font-family="'DejaVu Sans', 'Liberation Sans', sans-serif">Theta Value</text>
<text x="265.60" y="234.70" font-size="3.80" text-anchor="start" fill="#0d0d0d" stroke="#0d0d0d" stroke-width="0.18" font-family="'DejaVu Sans', 'Liberation Sans', sans-serif" >1e6</text>
<clipPath id="cF"><rect x="502.7" y="242.4" width="180.7" height="134.29999999999998"/></clipPath>
<g clip-path="url(#cF)">
<polyline points="511.10,300.00 511.10,300.65 511.10,301.31 511.10,301.96 511.10,302.61 511.10,303.27 511.10,303.92 511.10,304.57 511.10,305.23 511.10,305.88 511.10,306.53 511.10,307.19 511.10,307.84 511.10,308.49 511.10,309.15 511.10,309.80 511.10,310.46 511.10,311.11 511.10,311.76 511.10,312.42 511.10,313.07 511.11,313.72 511.11,314.38 511.11,315.03 511.11,315.68 511.11,316.34 511.11,316.99 511.11,317.64 511.11,318.30 511.11,318.95 511.11,319.60 511.11,320.26 511.11,320.91 511.11,321.56 511.11,322.22 511.12,322.87 511.12,323.52 511.12,324.18 511.12,324.83 511.12,325.48 511.12,326.14 511.12,326.79 511.12,327.44 511.12,328.10 511.12,328.75 511.13,329.40 511.13,330.06 511.13,330.71 511.13,331.36 511.13,332.02 511.13,332.67 511.13,333.32 511.14,333.98 511.14,334.63 511.14,335.28 511.14,335.94 511.14,336.59 511.14,337.24 511.14,337.90 511.15,338.55 511.15,339.20 511.15,339.86 511.15,340.51 511.15,341.16 511.16,341.82 511.16,342.47 511.17,343.13 511.18,343.78 511.18,344.43 511.19,345.09 511.20,345.74 511.21,346.39 511.22,347.05 511.23,347.70 511.24,348.35 511.26,349.01 511.27,349.66 511.28,350.31 511.30,350.97 511.31,351.62 511.33,352.27 511.34,352.93 511.36,353.58 511.38,354.23 511.40,354.88 511.42,355.54 511.44,356.19 511.47,356.85 511.50,357.50 511.53,358.15 511.57,358.81 511.62,359.46 511.67,360.11 511.72,360.75 511.81,361.40 511.91,362.04 512.04,362.68 512.18,363.32 512.34,363.96 512.50,364.60 512.50,364.60 512.60,366.11 512.70,364.67 512.80,366.33 512.90,364.74 513.00,366.54 513.10,364.80 513.20,366.75 513.30,364.87 513.40,366.95 513.50,364.93 513.60,367.14 513.70,365.00 513.80,367.33 513.90,365.06 514.00,367.50 514.10,365.12 514.19,367.66 514.29,365.18 514.39,367.82 514.49,365.24 514.59,367.98 514.69,365.29 514.79,368.13 514.89,365.34 514.99,368.28 515.09,365.40 515.19,368.42 515.29,365.44 515.39,368.56 515.49,365.49 515.59,368.69 515.69,365.54 515.79,368.82 515.89,365.58 515.99,368.93 516.09,365.62 516.19,369.04 516.29,365.66 516.39,369.15 516.49,365.69 516.59,369.24 516.69,365.73 516.79,369.33 516.89,365.76 516.99,369.42 517.09,365.79 517.19,369.51 517.29,365.82 517.39,369.60 517.48,365.85 517.58,369.69 517.68,365.88 517.78,369.77 517.88,365.91 517.98,369.85 518.08,365.94 518.18,369.92 518.28,365.97 518.38,370.00 518.48,365.99 518.58,370.06 518.68,366.02 518.78,370.13 518.88,366.05 518.98,370.19 519.08,366.07 519.18,370.24 519.28,366.10 519.38,370.29 519.48,366.13 519.58,370.33 519.68,366.15 519.78,370.37 519.88,366.18 519.98,370.40 520.08,366.21 520.18,370.42 520.28,366.24 520.38,370.45 520.48,366.27 520.58,370.47 520.68,366.30 520.78,370.49 520.87,366.33 520.97,370.51 521.07,366.35 521.17,370.54 521.27,366.38 521.37,370.56 521.47,366.41 521.57,370.57 521.67,366.44 521.77,370.59 521.87,366.47 521.97,370.61 522.07,366.49 522.17,370.63 522.27,366.52 522.37,370.64 522.47,366.55 522.57,370.65 522.67,366.58 522.77,370.66 522.87,366.60 522.97,370.68 523.07,366.63 523.17,370.68 523.27,366.66 523.37,370.69 523.47,366.69 523.57,370.70 523.67,366.71 523.77,370.70 523.87,366.74 523.97,370.70 524.07,366.77 524.16,370.70 524.26,366.80 524.36,370.69 524.46,366.83 524.56,370.68 524.66,366.85 524.76,370.67 524.86,366.88 524.96,370.65 525.06,366.91 525.16,370.63 525.26,366.94 525.36,370.60 525.46,366.97 525.56,370.57 525.66,367.00 525.76,370.54 525.86,367.03 525.96,370.51 526.06,367.06 526.16,370.47 526.26,367.09 526.36,370.44 526.46,367.12 526.56,370.40 526.66,367.15 526.76,370.36 526.86,367.18 526.96,370.32 527.06,367.21 527.16,370.28 527.26,367.24 527.36,370.23 527.45,367.27 527.55,370.19 527.65,367.30 527.75,370.15 527.85,367.33 527.95,370.11 528.05,367.36 528.15,370.07 528.25,367.39 528.35,370.02 528.45,367.42 528.55,369.97 528.65,367.44 528.75,369.91 528.85,367.47 528.95,369.85 529.05,367.49 529.15,369.78 529.25,367.52 529.35,369.72 529.45,367.54 529.55,369.65 529.65,367.56 529.75,369.57 529.85,367.58 529.95,369.50 530.05,367.60 530.15,369.43 530.25,367.62 530.35,369.35 530.45,367.64 530.55,369.28 530.65,367.66 530.75,369.21 530.84,367.68 530.94,369.13 531.04,367.70 531.14,369.06 531.24,367.72 531.34,369.00 531.44,367.73 531.54,368.93 531.64,367.75 531.74,368.87 531.84,367.77 531.94,368.82 532.04,367.78 532.14,368.76 532.24,367.80 532.34,368.71 532.44,367.82 532.54,368.66 532.64,367.83 532.74,368.61 532.84,367.85 532.94,368.56 533.04,367.86 533.14,368.51 533.24,367.88 533.34,368.46 533.44,367.89 533.54,368.41 533.64,367.90 533.74,368.37 533.84,367.92 533.94,368.32 534.04,367.93 534.13,368.28 534.23,367.94 534.33,368.23 534.43,367.95 534.53,368.19 534.63,367.96 534.73,368.15 534.83,367.97 534.93,368.11 535.03,367.98 535.13,368.07 535.23,367.99 535.33,368.03 535.43,368.00 535.50,367.50 536.09,367.33 536.67,367.15 537.26,366.97 537.84,366.79 538.43,366.60 539.01,366.42 539.60,366.23 540.18,366.03 540.77,365.84 541.35,365.64 541.94,365.44 542.53,365.23 543.11,365.02 543.70,364.81 544.28,364.60 544.87,364.38 545.45,364.16 546.04,363.94 546.62,363.71 547.21,363.48 547.79,363.25 548.38,363.01 548.96,362.78 549.55,362.53 550.14,362.29 550.72,362.04 551.31,361.79 551.89,361.53 552.48,361.27 553.06,361.01 553.65,360.75 554.23,360.48 554.82,360.20 555.40,359.93 555.99,359.65 556.58,359.37 557.16,359.08 557.75,358.79 558.33,358.50 558.92,358.20 559.50,357.90 560.09,357.59 560.67,357.28 561.26,356.97 561.84,356.66 562.43,356.34 563.02,356.02 563.60,355.69 564.19,355.36 564.77,355.03 565.36,354.69 565.94,354.35 566.53,354.00 567.11,353.65 567.70,353.30 568.28,352.94 568.87,352.58 569.45,352.22 570.04,351.85 570.63,351.48 571.21,351.10 571.80,350.72 572.38,350.34 572.97,349.95 573.55,349.56 574.14,349.16 574.72,348.76 575.31,348.36 575.89,347.95 576.48,347.54 577.07,347.13 577.65,346.71 578.24,346.29 578.82,345.86 579.41,345.43 579.99,344.99 580.58,344.55 581.16,344.11 581.75,343.66 582.33,343.21 582.92,342.76 583.51,342.30 584.09,341.84 584.68,341.37 585.26,340.90 585.85,340.42 586.43,339.94 587.02,339.46 587.60,338.97 588.19,338.48 588.77,337.99 589.36,337.49 589.94,336.98 590.53,336.48 591.12,335.97 591.70,335.45 592.29,334.93 592.87,334.41 593.46,333.88 594.04,333.35 594.63,332.81 595.21,332.27 595.80,331.73 596.38,331.18 596.97,330.63 597.56,330.08 598.14,329.52 598.73,328.96 599.31,328.39 599.90,327.82 600.48,327.24 601.07,326.66 601.65,326.08 602.24,325.49 602.82,324.90 603.41,324.31 603.99,323.71 604.58,323.11 605.17,322.50 605.75,321.89 606.34,321.28 606.92,320.66 607.51,320.04 608.09,319.42 608.68,318.79 609.26,318.15 609.85,317.52 610.43,316.88 611.02,316.23 611.61,315.58 612.19,314.93 612.78,314.28 613.36,313.62 613.95,312.96 614.53,312.29 615.12,311.62 615.70,310.95 616.29,310.27 616.87,309.59 617.46,308.91 618.05,308.22 618.63,307.53 619.22,306.83 619.80,306.13 620.39,305.43 620.97,304.73 621.56,304.02 622.14,303.31 622.73,302.59 623.31,301.87 623.90,301.15 624.48,300.43 625.07,299.70 625.66,298.97 626.24,298.23 626.83,297.49 627.41,296.75 628.00,296.01 628.58,295.26 629.17,294.51 629.75,293.75 630.34,292.99 630.92,292.23 631.51,291.47 632.10,290.71 632.68,289.94 633.27,289.16 633.85,288.39 634.44,287.61 635.02,286.83 635.61,286.05 636.19,285.26 636.78,284.47 637.36,283.68 637.95,282.88 638.54,282.09 639.12,281.29 639.71,280.48 640.29,279.68 640.88,278.87 641.46,278.06 642.05,277.25 642.63,276.43 643.22,275.61 643.80,274.79 644.39,273.97 644.97,273.15 645.56,272.32 646.15,271.49 646.73,270.66 647.32,269.83 647.90,268.99 648.49,268.15 649.07,267.31 649.66,266.47 650.24,265.63 650.83,264.78 651.41,263.93 652.00,263.08 652.00,263.08 652.29,262.67 652.57,262.26 652.86,261.85 653.15,261.44 653.45,261.03 653.74,260.63 654.04,260.22 654.34,259.82 654.64,259.42 654.94,259.02 655.24,258.62 655.55,258.22 655.86,257.82 656.16,257.43 656.47,257.03 656.78,256.64 657.09,256.24 657.41,255.85 657.72,255.46 658.03,255.06 658.35,254.67 658.67,254.29 659.00,253.90 659.33,253.53 659.67,253.16 660.01,252.80 660.36,252.43 660.71,252.07 661.06,251.69 661.42,251.32 661.79,250.95 662.16,250.61 662.54,250.28 662.94,249.97 663.34,249.70 663.76,249.47 664.19,249.25 664.65,249.04 665.12,248.83 665.61,248.65 666.10,248.49 666.59,248.38 667.08,248.31 667.57,248.28 668.06,248.26 668.54,248.23 669.04,248.21 669.53,248.20 670.03,248.18 670.52,248.16 671.02,248.15 671.52,248.14 672.03,248.13 672.53,248.12 673.04,248.11 673.55,248.11 674.07,248.10 674.58,248.10 675.10,248.10" fill="none" stroke="#2a7ebb" stroke-width="0.9" stroke-opacity="1.0" stroke-linejoin="round" stroke-linecap="butt"/>
<polyline points="511.50,300.00 511.50,299.67 511.50,299.34 511.50,299.01 511.50,298.68 511.50,298.35 511.50,298.01 511.50,297.68 511.50,297.35 511.50,297.02 511.50,296.69 511.50,296.36 511.50,296.03 511.50,295.70 511.50,295.37 511.50,295.04 511.51,294.71 511.51,294.37 511.51,294.04 511.51,293.71 511.51,293.38 511.51,293.05 511.51,292.72 511.51,292.39 511.51,292.06 511.51,291.73 511.51,291.40 511.52,291.07 511.52,290.73 511.52,290.40 511.52,290.07 511.52,289.74 511.52,289.41 511.52,289.08 511.52,288.75 511.52,288.42 511.53,288.09 511.53,287.76 511.53,287.43 511.53,287.09 511.53,286.76 511.53,286.43 511.54,286.10 511.54,285.77 511.54,285.44 511.54,285.11 511.54,284.78 511.54,284.45 511.54,284.12 511.55,283.79 511.55,283.45 511.55,283.12 511.55,282.79 511.55,282.46 511.56,282.13 511.56,281.80 511.56,281.47 511.56,281.14 511.56,280.81 511.57,280.48 511.57,280.15 511.57,279.81 511.57,279.48 511.57,279.15 511.58,278.82 511.58,278.49 511.58,278.16 511.58,277.83 511.58,277.50 511.59,277.17 511.59,276.84 511.59,276.51 511.59,276.18 511.59,275.84 511.60,275.51 511.60,275.18 511.60,274.85 511.60,274.52 511.61,274.19 511.61,273.86 511.61,273.53 511.61,273.20 511.62,272.87 511.62,272.54 511.62,272.20 511.63,271.87 511.63,271.54 511.63,271.21 511.64,270.88 511.64,270.55 511.65,270.22 511.65,269.89 511.66,269.56 511.66,269.23 511.66,268.90 511.67,268.56 511.67,268.23 511.68,267.90 511.68,267.57 511.69,267.24 511.70,266.91 511.70,266.58 511.71,266.25 511.71,265.92 511.72,265.59 511.73,265.26 511.73,264.92 511.74,264.59 511.75,264.26 511.75,263.93 511.76,263.60 511.77,263.27 511.77,262.94 511.78,262.61 511.79,262.28 511.80,261.95 511.80,261.62 511.81,261.29 511.82,260.95 511.83,260.62 511.84,260.29 511.85,259.96 511.85,259.63 511.86,259.30 511.87,258.97 511.88,258.64 511.89,258.31 511.90,257.98 511.91,257.65 511.92,257.31 511.93,256.98 511.94,256.65 511.95,256.31 511.96,255.97 511.97,255.64 511.99,255.30 512.00,254.97 512.02,254.63 512.03,254.30 512.05,253.96 512.07,253.63 512.09,253.30 512.11,252.97 512.14,252.64 512.16,252.32 512.19,251.99 512.22,251.67 512.26,251.35 512.30,251.04 512.35,250.72 512.44,250.37 512.56,250.03 512.71,249.70 512.88,249.40 513.06,249.15 513.25,248.96 513.49,248.79 513.79,248.63 514.12,248.48 514.47,248.38 514.81,248.31 515.13,248.30 515.45,248.30 515.76,248.30 516.08,248.29 516.39,248.29 516.71,248.29 517.03,248.29 517.34,248.29 517.66,248.28 517.98,248.28 518.30,248.28 518.61,248.28 518.93,248.28 519.25,248.27 519.57,248.27 519.88,248.27 520.20,248.27 520.52,248.27 520.84,248.27 521.16,248.27 521.48,248.26 521.79,248.26 522.11,248.26 522.43,248.26 522.75,248.26 523.07,248.26 523.39,248.25 523.71,248.25 524.03,248.25 524.35,248.25 524.67,248.25 524.99,248.25 525.31,248.25 525.63,248.25 525.96,248.24 526.28,248.24 526.60,248.24 526.92,248.24 527.24,248.24 527.56,248.24 527.89,248.24 528.21,248.24 528.53,248.24 528.86,248.23 529.18,248.23 529.50,248.23 529.83,248.23 530.15,248.23 530.47,248.23 530.80,248.23 531.12,248.23 531.45,248.23 531.77,248.23 532.10,248.23 532.42,248.22 532.75,248.22 533.07,248.22 533.40,248.22 533.73,248.22 534.05,248.22 534.38,248.22 534.71,248.22 535.03,248.22 535.36,248.22 535.69,248.22 536.02,248.22 536.35,248.22 536.68,248.22 537.00,248.21 537.33,248.21 537.66,248.21 537.99,248.21 538.32,248.21 538.65,248.21 538.98,248.21 539.31,248.21 539.65,248.21 539.98,248.21 540.31,248.21 540.64,248.21 540.97,248.21 541.31,248.21 541.64,248.21 541.97,248.21 542.30,248.21 542.64,248.21 542.97,248.21 543.31,248.21 543.64,248.21 543.98,248.21 544.31,248.21 544.65,248.21 544.98,248.20 545.32,248.20 545.65,248.20 545.99,248.20 546.33,248.20 546.67,248.20 547.00,248.20 547.34,248.20 547.68,248.20 548.02,248.20 548.36,248.20 548.70,248.20 549.04,248.20 549.38,248.20 549.72,248.20 550.06,248.20 550.40,248.20 550.74,248.20 551.08,248.20 551.42,248.20 551.77,248.20 552.11,248.20 552.45,248.20 552.80,248.20 553.14,248.20 553.48,248.20 553.83,248.20 554.17,248.20 554.52,248.20 554.86,248.20 555.21,248.20 555.56,248.20 555.90,248.20 556.25,248.20 556.60,248.20 556.95,248.20 557.30,248.20 557.64,248.20 557.99,248.20 558.34,248.20 558.69,248.20 559.04,248.20 559.39,248.20 559.74,248.20 560.10,248.20 560.45,248.20 560.80,248.20" fill="none" stroke="#ffa965" stroke-width="1.0" stroke-opacity="1.0" stroke-linejoin="round" stroke-linecap="butt"/>
<polyline points="511.20,300.00 511.20,299.74 511.20,299.47 511.20,299.21 511.20,298.94 511.20,298.68 511.20,298.42 511.20,298.15 511.20,297.89 511.20,297.62 511.20,297.36 511.20,297.10 511.20,296.83 511.20,296.57 511.20,296.30 511.20,296.04 511.20,295.77 511.20,295.51 511.20,295.25 511.20,294.98 511.21,294.72 511.21,294.45 511.21,294.19 511.21,293.93 511.21,293.66 511.21,293.40 511.21,293.13 511.21,292.87 511.21,292.61 511.21,292.34 511.21,292.08 511.21,291.81 511.21,291.55 511.21,291.29 511.22,291.02 511.22,290.76 511.22,290.49 511.22,290.23 511.22,289.97 511.22,289.70 511.22,289.44 511.22,289.17 511.22,288.91 511.22,288.64 511.23,288.38 511.23,288.12 511.23,287.85 511.23,287.59 511.23,287.32 511.23,287.06 511.23,286.80 511.23,286.53 511.23,286.27 511.24,286.00 511.24,285.74 511.24,285.48 511.24,285.21 511.24,284.95 511.24,284.68 511.24,284.42 511.24,284.16 511.25,283.89 511.25,283.63 511.25,283.36 511.25,283.10 511.25,282.84 511.25,282.57 511.25,282.31 511.26,282.04 511.26,281.78 511.26,281.52 511.26,281.25 511.26,280.99 511.26,280.72 511.27,280.46 511.27,280.20 511.27,279.93 511.27,279.67 511.27,279.40 511.27,279.14 511.27,278.88 511.28,278.61 511.28,278.35 511.28,278.08 511.28,277.82 511.28,277.55 511.28,277.29 511.29,277.03 511.29,276.76 511.29,276.50 511.29,276.23 511.29,275.97 511.30,275.71 511.30,275.44 511.30,275.18 511.30,274.91 511.30,274.65 511.30,274.39 511.31,274.12 511.31,273.86 511.31,273.59 511.31,273.33 511.32,273.07 511.32,272.80 511.32,272.54 511.32,272.27 511.33,272.01 511.33,271.75 511.33,271.48 511.33,271.22 511.34,270.95 511.34,270.69 511.34,270.43 511.35,270.16 511.35,269.90 511.35,269.63 511.36,269.37 511.36,269.10 511.37,268.84 511.37,268.58 511.37,268.31 511.38,268.05 511.38,267.78 511.39,267.52 511.39,267.26 511.39,266.99 511.40,266.73 511.40,266.46 511.41,266.20 511.41,265.94 511.42,265.67 511.42,265.41 511.43,265.14 511.43,264.88 511.44,264.62 511.44,264.35 511.45,264.09 511.45,263.82 511.46,263.56 511.47,263.30 511.47,263.03 511.48,262.77 511.48,262.50 511.49,262.24 511.50,261.98 511.50,261.71 511.51,261.45 511.51,261.18 511.52,260.92 511.53,260.66 511.53,260.39 511.54,260.13 511.55,259.86 511.56,259.60 511.56,259.34 511.57,259.07 511.58,258.81 511.58,258.54 511.59,258.28 511.60,258.02 511.61,257.75 511.61,257.49 511.62,257.22 511.63,256.96 511.64,256.69 511.65,256.42 511.66,256.15 511.67,255.88 511.67,255.62 511.69,255.35 511.70,255.08 511.71,254.81 511.72,254.54 511.73,254.28 511.75,254.01 511.76,253.75 511.78,253.48 511.80,253.22 511.81,252.95 511.83,252.69 511.85,252.43 511.88,252.17 511.90,251.92 511.93,251.66 511.95,251.41 511.98,251.15 512.01,250.90 512.07,250.64 512.14,250.37 512.24,250.10 512.35,249.83 512.48,249.58 512.62,249.35 512.76,249.15 512.91,248.99 513.09,248.84 513.31,248.70 513.56,248.56 513.83,248.45 514.10,248.36 514.36,248.31 514.62,248.30 514.86,248.30 515.11,248.29 515.36,248.29 515.61,248.29 515.86,248.29 516.12,248.28 516.37,248.28 516.62,248.28 516.87,248.28 517.12,248.27 517.37,248.27 517.62,248.27 517.87,248.27 518.13,248.26 518.38,248.26 518.63,248.26 518.88,248.26 519.14,248.26 519.39,248.25 519.64,248.25 519.90,248.25 520.15,248.25 520.41,248.25 520.66,248.25 520.92,248.24 521.17,248.24 521.43,248.24 521.68,248.24 521.94,248.24 522.19,248.24 522.45,248.23 522.71,248.23 522.97,248.23 523.22,248.23 523.48,248.23 523.74,248.23 524.00,248.23 524.26,248.23 524.52,248.22 524.77,248.22 525.03,248.22 525.29,248.22 525.55,248.22 525.82,248.22 526.08,248.22 526.34,248.22 526.60,248.22 526.86,248.22 527.12,248.22 527.39,248.21 527.65,248.21 527.91,248.21 528.18,248.21 528.44,248.21 528.71,248.21 528.97,248.21 529.24,248.21 529.50,248.21 529.77,248.21 530.04,248.21 530.30,248.21 530.57,248.21 530.84,248.21 531.11,248.21 531.38,248.21 531.64,248.21 531.91,248.20 532.18,248.20 532.45,248.20 532.72,248.20 533.00,248.20 533.27,248.20 533.54,248.20 533.81,248.20 534.09,248.20 534.36,248.20 534.63,248.20 534.91,248.20 535.18,248.20 535.46,248.20 535.73,248.20 536.01,248.20 536.29,248.20 536.56,248.20 536.84,248.20 537.12,248.20 537.40,248.20 537.68,248.20 537.96,248.20 538.24,248.20 538.52,248.20 538.80,248.20 539.08,248.20 539.37,248.20 539.65,248.20 539.93,248.20 540.22,248.20 540.50,248.20" fill="none" stroke="#fff" stroke-width="1.4" stroke-opacity="1.0" stroke-linejoin="round" stroke-linecap="butt"/>
<polyline points="511.20,300.00 511.20,299.74 511.20,299.47 511.20,299.21 511.20,298.94 511.20,298.68 511.20,298.42 511.20,298.15 511.20,297.89 511.20,297.62 511.20,297.36 511.20,297.10 511.20,296.83 511.20,296.57 511.20,296.30 511.20,296.04 511.20,295.77 511.20,295.51 511.20,295.25 511.20,294.98 511.21,294.72 511.21,294.45 511.21,294.19 511.21,293.93 511.21,293.66 511.21,293.40 511.21,293.13 511.21,292.87 511.21,292.61 511.21,292.34 511.21,292.08 511.21,291.81 511.21,291.55 511.21,291.29 511.22,291.02 511.22,290.76 511.22,290.49 511.22,290.23 511.22,289.97 511.22,289.70 511.22,289.44 511.22,289.17 511.22,288.91 511.22,288.64 511.23,288.38 511.23,288.12 511.23,287.85 511.23,287.59 511.23,287.32 511.23,287.06 511.23,286.80 511.23,286.53 511.23,286.27 511.24,286.00 511.24,285.74 511.24,285.48 511.24,285.21 511.24,284.95 511.24,284.68 511.24,284.42 511.24,284.16 511.25,283.89 511.25,283.63 511.25,283.36 511.25,283.10 511.25,282.84 511.25,282.57 511.25,282.31 511.26,282.04 511.26,281.78 511.26,281.52 511.26,281.25 511.26,280.99 511.26,280.72 511.27,280.46 511.27,280.20 511.27,279.93 511.27,279.67 511.27,279.40 511.27,279.14 511.27,278.88 511.28,278.61 511.28,278.35 511.28,278.08 511.28,277.82 511.28,277.55 511.28,277.29 511.29,277.03 511.29,276.76 511.29,276.50 511.29,276.23 511.29,275.97 511.30,275.71 511.30,275.44 511.30,275.18 511.30,274.91 511.30,274.65 511.30,274.39 511.31,274.12 511.31,273.86 511.31,273.59 511.31,273.33 511.32,273.07 511.32,272.80 511.32,272.54 511.32,272.27 511.33,272.01 511.33,271.75 511.33,271.48 511.33,271.22 511.34,270.95 511.34,270.69 511.34,270.43 511.35,270.16 511.35,269.90 511.35,269.63 511.36,269.37 511.36,269.10 511.37,268.84 511.37,268.58 511.37,268.31 511.38,268.05 511.38,267.78 511.39,267.52 511.39,267.26 511.39,266.99 511.40,266.73 511.40,266.46 511.41,266.20 511.41,265.94 511.42,265.67 511.42,265.41 511.43,265.14 511.43,264.88 511.44,264.62 511.44,264.35 511.45,264.09 511.45,263.82 511.46,263.56 511.47,263.30 511.47,263.03 511.48,262.77 511.48,262.50 511.49,262.24 511.50,261.98 511.50,261.71 511.51,261.45 511.51,261.18 511.52,260.92 511.53,260.66 511.53,260.39 511.54,260.13 511.55,259.86 511.56,259.60 511.56,259.34 511.57,259.07 511.58,258.81 511.58,258.54 511.59,258.28 511.60,258.02 511.61,257.75 511.61,257.49 511.62,257.22 511.63,256.96 511.64,256.69 511.65,256.42 511.66,256.15 511.67,255.88 511.67,255.62 511.69,255.35 511.70,255.08 511.71,254.81 511.72,254.54 511.73,254.28 511.75,254.01 511.76,253.75 511.78,253.48 511.80,253.22 511.81,252.95 511.83,252.69 511.85,252.43 511.88,252.17 511.90,251.92 511.93,251.66 511.95,251.41 511.98,251.15 512.01,250.90 512.07,250.64 512.14,250.37 512.24,250.10 512.35,249.83 512.48,249.58 512.62,249.35 512.76,249.15 512.91,248.99 513.09,248.84 513.31,248.70 513.56,248.56 513.83,248.45 514.10,248.36 514.36,248.31 514.62,248.30 514.86,248.30 515.11,248.29 515.36,248.29 515.61,248.29 515.86,248.29 516.12,248.28 516.37,248.28 516.62,248.28 516.87,248.28 517.12,248.27 517.37,248.27 517.62,248.27 517.87,248.27 518.13,248.26 518.38,248.26 518.63,248.26 518.88,248.26 519.14,248.26 519.39,248.25 519.64,248.25 519.90,248.25 520.15,248.25 520.41,248.25 520.66,248.25 520.92,248.24 521.17,248.24 521.43,248.24 521.68,248.24 521.94,248.24 522.19,248.24 522.45,248.23 522.71,248.23 522.97,248.23 523.22,248.23 523.48,248.23 523.74,248.23 524.00,248.23 524.26,248.23 524.52,248.22 524.77,248.22 525.03,248.22 525.29,248.22 525.55,248.22 525.82,248.22 526.08,248.22 526.34,248.22 526.60,248.22 526.86,248.22 527.12,248.22 527.39,248.21 527.65,248.21 527.91,248.21 528.18,248.21 528.44,248.21 528.71,248.21 528.97,248.21 529.24,248.21 529.50,248.21 529.77,248.21 530.04,248.21 530.30,248.21 530.57,248.21 530.84,248.21 531.11,248.21 531.38,248.21 531.64,248.21 531.91,248.20 532.18,248.20 532.45,248.20 532.72,248.20 533.00,248.20 533.27,248.20 533.54,248.20 533.81,248.20 534.09,248.20 534.36,248.20 534.63,248.20 534.91,248.20 535.18,248.20 535.46,248.20 535.73,248.20 536.01,248.20 536.29,248.20 536.56,248.20 536.84,248.20 537.12,248.20 537.40,248.20 537.68,248.20 537.96,248.20 538.24,248.20 538.52,248.20 538.80,248.20 539.08,248.20 539.37,248.20 539.65,248.20 539.93,248.20 540.22,248.20 540.50,248.20" fill="none" stroke="#66b960" stroke-width="1.0" stroke-opacity="1.0" stroke-linejoin="round" stroke-linecap="butt"/>
</g>
<rect x="583.7" y="246.2" width="95.59999999999991" height="39.0" rx="1.6" fill="#fff" fill-opacity="0.8" stroke="#d6d6d6" stroke-width="0.6"/>
<polyline points="586.40,252.80 603.40,252.80" fill="none" stroke="#2a7ebb" stroke-width="1.0" stroke-opacity="1.0" stroke-linejoin="round" stroke-linecap="butt"/>
<text x="610.60" y="255.72" font-size="8.10" text-anchor="start" fill="#0d0d0d" stroke="#0d0d0d" stroke-width="0.18" font-family="'DejaVu Sans', 'Liberation Sans', sans-serif" >RCGC-Dimishing</text>
<polyline points="586.40,265.00 603.40,265.00" fill="none" stroke="#ffa965" stroke-width="1.0" stroke-opacity="1.0" stroke-linejoin="round" stroke-linecap="butt"/>
<text x="610.60" y="267.92" font-size="8.10" text-anchor="start" fill="#0d0d0d" stroke="#0d0d0d" stroke-width="0.18" font-family="'DejaVu Sans', 'Liberation Sans', sans-serif" >RCGC-Adaptive</text>
<polyline points="586.40,277.10 603.40,277.10" fill="none" stroke="#66b960" stroke-width="1.0" stroke-opacity="1.0" stroke-linejoin="round" stroke-linecap="butt"/>
<text x="610.60" y="280.02" font-size="8.10" text-anchor="start" fill="#0d0d0d" stroke="#0d0d0d" stroke-width="0.18" font-family="'DejaVu Sans', 'Liberation Sans', sans-serif" >RCGC-Armijo</text>
<rect x="502.7" y="242.4" width="180.7" height="134.29999999999998" fill="none" stroke="#b4b4b4" stroke-width="1.0"/>
<line x1="511.10" y1="376.7" x2="511.10" y2="378.7" stroke="#aaa" stroke-width="0.6"/>
<text x="511.10" y="385.80" font-size="8.10" text-anchor="middle" fill="#0d0d0d" stroke="#0d0d0d" stroke-width="0.18" font-family="'DejaVu Sans', 'Liberation Sans', sans-serif" >0</text>
<line x1="536.02" y1="376.7" x2="536.02" y2="378.7" stroke="#aaa" stroke-width="0.6"/>
<text x="536.02" y="385.80" font-size="8.10" text-anchor="middle" fill="#0d0d0d" stroke="#0d0d0d" stroke-width="0.18" font-family="'DejaVu Sans', 'Liberation Sans', sans-serif" >250</text>
<line x1="560.94" y1="376.7" x2="560.94" y2="378.7" stroke="#aaa" stroke-width="0.6"/>
<text x="560.94" y="385.80" font-size="8.10" text-anchor="middle" fill="#0d0d0d" stroke="#0d0d0d" stroke-width="0.18" font-family="'DejaVu Sans', 'Liberation Sans', sans-serif" >500</text>
<line x1="585.86" y1="376.7" x2="585.86" y2="378.7" stroke="#aaa" stroke-width="0.6"/>
<text x="585.86" y="385.80" font-size="8.10" text-anchor="middle" fill="#0d0d0d" stroke="#0d0d0d" stroke-width="0.18" font-family="'DejaVu Sans', 'Liberation Sans', sans-serif" >750</text>
<line x1="610.78" y1="376.7" x2="610.78" y2="378.7" stroke="#aaa" stroke-width="0.6"/>
<text x="610.78" y="385.80" font-size="8.10" text-anchor="middle" fill="#0d0d0d" stroke="#0d0d0d" stroke-width="0.18" font-family="'DejaVu Sans', 'Liberation Sans', sans-serif" >1000</text>
<line x1="635.70" y1="376.7" x2="635.70" y2="378.7" stroke="#aaa" stroke-width="0.6"/>
<text x="635.70" y="385.80" font-size="8.10" text-anchor="middle" fill="#0d0d0d" stroke="#0d0d0d" stroke-width="0.18" font-family="'DejaVu Sans', 'Liberation Sans', sans-serif" >1250</text>
<line x1="660.62" y1="376.7" x2="660.62" y2="378.7" stroke="#aaa" stroke-width="0.6"/>
<text x="660.62" y="385.80" font-size="8.10" text-anchor="middle" fill="#0d0d0d" stroke="#0d0d0d" stroke-width="0.18" font-family="'DejaVu Sans', 'Liberation Sans', sans-serif" >1500</text>
<line x1="500.7" y1="248.40" x2="502.7" y2="248.40" stroke="#aaa" stroke-width="0.6"/>
<text x="499.60" y="252.22" font-size="8.10" text-anchor="end" fill="#0d0d0d" stroke="#0d0d0d" stroke-width="0.18" font-family="'DejaVu Sans', 'Liberation Sans', sans-serif" >0.0</text>
<line x1="500.7" y1="269.80" x2="502.7" y2="269.80" stroke="#aaa" stroke-width="0.6"/>
<text x="499.60" y="273.62" font-size="8.10" text-anchor="end" fill="#0d0d0d" stroke="#0d0d0d" stroke-width="0.18" font-family="'DejaVu Sans', 'Liberation Sans', sans-serif" >−0.5</text>
<line x1="500.7" y1="291.20" x2="502.7" y2="291.20" stroke="#aaa" stroke-width="0.6"/>
<text x="499.60" y="295.02" font-size="8.10" text-anchor="end" fill="#0d0d0d" stroke="#0d0d0d" stroke-width="0.18" font-family="'DejaVu Sans', 'Liberation Sans', sans-serif" >−1.0</text>
<line x1="500.7" y1="312.60" x2="502.7" y2="312.60" stroke="#aaa" stroke-width="0.6"/>
<text x="499.60" y="316.42" font-size="8.10" text-anchor="end" fill="#0d0d0d" stroke="#0d0d0d" stroke-width="0.18" font-family="'DejaVu Sans', 'Liberation Sans', sans-serif" >−1.5</text>
<line x1="500.7" y1="334.00" x2="502.7" y2="334.00" stroke="#aaa" stroke-width="0.6"/>
<text x="499.60" y="337.82" font-size="8.10" text-anchor="end" fill="#0d0d0d" stroke="#0d0d0d" stroke-width="0.18" font-family="'DejaVu Sans', 'Liberation Sans', sans-serif" >−2.0</text>
<line x1="500.7" y1="355.40" x2="502.7" y2="355.40" stroke="#aaa" stroke-width="0.6"/>
<text x="499.60" y="359.22" font-size="8.10" text-anchor="end" fill="#0d0d0d" stroke="#0d0d0d" stroke-width="0.18" font-family="'DejaVu Sans', 'Liberation Sans', sans-serif" >−2.5</text>
<line x1="500.7" y1="376.80" x2="502.7" y2="376.80" stroke="#aaa" stroke-width="0.6"/>
<text x="499.60" y="380.62" font-size="8.10" text-anchor="end" fill="#0d0d0d" stroke="#0d0d0d" stroke-width="0.18" font-family="'DejaVu Sans', 'Liberation Sans', sans-serif" >−3.0</text>
<text x="593.20" y="239.90" font-size="8.95" text-anchor="middle" fill="#0d0d0d" stroke="#0d0d0d" stroke-width="0.18" font-family="'DejaVu Sans', 'Liberation Sans', sans-serif" >Theta Convergence n=1000 p=10</text>
<text x="592.60" y="394.60" font-size="8.10" text-anchor="middle" fill="#0d0d0d" stroke="#0d0d0d" stroke-width="0.18" font-family="'DejaVu Sans', 'Liberation Sans', sans-serif" >Iterations</text>
<text transform="translate(477.00,309.80) rotate(-90)" font-size="8.10" text-anchor="middle" fill="#0d0d0d" stroke="#0d0d0d" stroke-width="0.18" font-family="'DejaVu Sans', 'Liberation Sans', sans-serif">Theta Value</text>
<text x="503.20" y="241.10" font-size="3.60" text-anchor="start" fill="#0d0d0d" stroke="#0d0d0d" stroke-width="0.18" font-family="'DejaVu Sans', 'Liberation Sans', sans-serif" >1e7</text>
<clipPath id="cG"><rect x="34.2" y="481.7" width="185.3" height="136.7"/></clipPath>
<g clip-path="url(#cG)">
<polyline points="42.30,612.40 100.00,571.00 120.00,556.00 150.00,535.90 163.40,525.70 185.00,505.50 191.30,500.40 210.70,487.20" fill="none" stroke="#2a7ebb" stroke-width="1.0" stroke-opacity="1.0" stroke-linejoin="round" stroke-linecap="butt"/>
<polyline points="42.30,612.60 100.00,572.40 120.50,558.10" fill="none" stroke="#ffa965" stroke-width="1.0" stroke-opacity="1.0" stroke-linejoin="round" stroke-linecap="butt"/>
<polyline points="42.30,612.40 84.30,561.90" fill="none" stroke="#fff" stroke-width="1.4" stroke-opacity="1.0" stroke-linejoin="round" stroke-linecap="butt"/>
<polyline points="42.30,612.40 84.30,561.90" fill="none" stroke="#66b960" stroke-width="1.0" stroke-opacity="1.0" stroke-linejoin="round" stroke-linecap="butt"/>
</g>
<rect x="38.2" y="485.2" width="152.39999999999998" height="39.69999999999999" rx="1.6" fill="#fff" fill-opacity="0.8" stroke="#d6d6d6" stroke-width="0.6"/>
<polyline points="40.20,492.50 58.60,492.50" fill="none" stroke="#2a7ebb" stroke-width="1.0" stroke-opacity="1.0" stroke-linejoin="round" stroke-linecap="butt"/>
<text x="64.50" y="495.89" font-size="8.30" text-anchor="start" fill="#0d0d0d" stroke="#0d0d0d" stroke-width="0.18" font-family="'DejaVu Sans', 'Liberation Sans', sans-serif" >RCGC (Diminishing Step Size)</text>
<polyline points="40.20,505.00 58.60,505.00" fill="none" stroke="#ffa965" stroke-width="1.0" stroke-opacity="1.0" stroke-linejoin="round" stroke-linecap="butt"/>
<text x="64.50" y="508.39" font-size="8.30" text-anchor="start" fill="#0d0d0d" stroke="#0d0d0d" stroke-width="0.18" font-family="'DejaVu Sans', 'Liberation Sans', sans-serif" >RCGC (Adaptive Step Size)</text>
<polyline points="40.20,517.30 58.60,517.30" fill="none" stroke="#66b960" stroke-width="1.0" stroke-opacity="1.0" stroke-linejoin="round" stroke-linecap="butt"/>
<text x="64.50" y="520.69" font-size="8.30" text-anchor="start" fill="#0d0d0d" stroke="#0d0d0d" stroke-width="0.18" font-family="'DejaVu Sans', 'Liberation Sans', sans-serif" >RCGC (Armijo Line Search)</text>
<rect x="34.2" y="481.7" width="185.3" height="136.7" fill="none" stroke="#b4b4b4" stroke-width="1.0"/>
<line x1="42.30" y1="618.4" x2="42.30" y2="620.4" stroke="#aaa" stroke-width="0.6"/>
<text x="42.30" y="628.60" font-size="8.30" text-anchor="middle" fill="#0d0d0d" stroke="#0d0d0d" stroke-width="0.18" font-family="'DejaVu Sans', 'Liberation Sans', sans-serif" >0</text>
<line x1="70.50" y1="618.4" x2="70.50" y2="620.4" stroke="#aaa" stroke-width="0.6"/>
<text x="70.50" y="628.60" font-size="8.30" text-anchor="middle" fill="#0d0d0d" stroke="#0d0d0d" stroke-width="0.18" font-family="'DejaVu Sans', 'Liberation Sans', sans-serif" >50</text>
<line x1="98.70" y1="618.4" x2="98.70" y2="620.4" stroke="#aaa" stroke-width="0.6"/>
<text x="98.70" y="628.60" font-size="8.30" text-anchor="middle" fill="#0d0d0d" stroke="#0d0d0d" stroke-width="0.18" font-family="'DejaVu Sans', 'Liberation Sans', sans-serif" >100</text>
<line x1="126.90" y1="618.4" x2="126.90" y2="620.4" stroke="#aaa" stroke-width="0.6"/>
<text x="126.90" y="628.60" font-size="8.30" text-anchor="middle" fill="#0d0d0d" stroke="#0d0d0d" stroke-width="0.18" font-family="'DejaVu Sans', 'Liberation Sans', sans-serif" >150</text>
<line x1="155.10" y1="618.4" x2="155.10" y2="620.4" stroke="#aaa" stroke-width="0.6"/>
<text x="155.10" y="628.60" font-size="8.30" text-anchor="middle" fill="#0d0d0d" stroke="#0d0d0d" stroke-width="0.18" font-family="'DejaVu Sans', 'Liberation Sans', sans-serif" >200</text>
<line x1="183.30" y1="618.4" x2="183.30" y2="620.4" stroke="#aaa" stroke-width="0.6"/>
<text x="183.30" y="628.60" font-size="8.30" text-anchor="middle" fill="#0d0d0d" stroke="#0d0d0d" stroke-width="0.18" font-family="'DejaVu Sans', 'Liberation Sans', sans-serif" >250</text>
<line x1="211.50" y1="618.4" x2="211.50" y2="620.4" stroke="#aaa" stroke-width="0.6"/>
<text x="211.50" y="628.60" font-size="8.30" text-anchor="middle" fill="#0d0d0d" stroke="#0d0d0d" stroke-width="0.18" font-family="'DejaVu Sans', 'Liberation Sans', sans-serif" >300</text>
<line x1="32.2" y1="612.40" x2="34.2" y2="612.40" stroke="#aaa" stroke-width="0.6"/>
<text x="31.00" y="616.29" font-size="8.30" text-anchor="end" fill="#0d0d0d" stroke="#0d0d0d" stroke-width="0.18" font-family="'DejaVu Sans', 'Liberation Sans', sans-serif" >0.0</text>
<line x1="32.2" y1="590.93" x2="34.2" y2="590.93" stroke="#aaa" stroke-width="0.6"/>
<text x="31.00" y="594.82" font-size="8.30" text-anchor="end" fill="#0d0d0d" stroke="#0d0d0d" stroke-width="0.18" font-family="'DejaVu Sans', 'Liberation Sans', sans-serif" >0.1</text>
<line x1="32.2" y1="569.46" x2="34.2" y2="569.46" stroke="#aaa" stroke-width="0.6"/>
<text x="31.00" y="573.35" font-size="8.30" text-anchor="end" fill="#0d0d0d" stroke="#0d0d0d" stroke-width="0.18" font-family="'DejaVu Sans', 'Liberation Sans', sans-serif" >0.2</text>
<line x1="32.2" y1="547.99" x2="34.2" y2="547.99" stroke="#aaa" stroke-width="0.6"/>
<text x="31.00" y="551.88" font-size="8.30" text-anchor="end" fill="#0d0d0d" stroke="#0d0d0d" stroke-width="0.18" font-family="'DejaVu Sans', 'Liberation Sans', sans-serif" >0.3</text>
<line x1="32.2" y1="526.52" x2="34.2" y2="526.52" stroke="#aaa" stroke-width="0.6"/>
<text x="31.00" y="530.41" font-size="8.30" text-anchor="end" fill="#0d0d0d" stroke="#0d0d0d" stroke-width="0.18" font-family="'DejaVu Sans', 'Liberation Sans', sans-serif" >0.4</text>
<line x1="32.2" y1="505.05" x2="34.2" y2="505.05" stroke="#aaa" stroke-width="0.6"/>
<text x="31.00" y="508.94" font-size="8.30" text-anchor="end" fill="#0d0d0d" stroke="#0d0d0d" stroke-width="0.18" font-family="'DejaVu Sans', 'Liberation Sans', sans-serif" >0.5</text>
<line x1="32.2" y1="483.58" x2="34.2" y2="483.58" stroke="#aaa" stroke-width="0.6"/>
<text x="31.00" y="487.47" font-size="8.30" text-anchor="end" fill="#0d0d0d" stroke="#0d0d0d" stroke-width="0.18" font-family="'DejaVu Sans', 'Liberation Sans', sans-serif" >0.6</text>
<text x="126.40" y="479.00" font-size="9.20" text-anchor="middle" fill="#0d0d0d" stroke="#0d0d0d" stroke-width="0.18" font-family="'DejaVu Sans', 'Liberation Sans', sans-serif" >CPU Time vs Iterations n=100 p=10</text>
<text x="126.90" y="638.20" font-size="8.30" text-anchor="middle" fill="#0d0d0d" stroke="#0d0d0d" stroke-width="0.18" font-family="'DejaVu Sans', 'Liberation Sans', sans-serif" >Iterations</text>
<text transform="translate(14.40,550.00) rotate(-90)" font-size="8.30" text-anchor="middle" fill="#0d0d0d" stroke="#0d0d0d" stroke-width="0.18" font-family="'DejaVu Sans', 'Liberation Sans', sans-serif">CPU Time (seconds)</text>
<clipPath id="cH"><rect x="258.7" y="473.8" width="192.5" height="144.40000000000003"/></clipPath>
<g clip-path="url(#cH)">
<polyline points="267.30,610.90 287.10,593.60 313.40,578.10 330.00,565.70 347.90,551.90 363.40,540.30 395.00,517.90 406.20,510.10 422.20,496.30 442.80,480.20" fill="none" stroke="#2a7ebb" stroke-width="1.0" stroke-opacity="1.0" stroke-linejoin="round" stroke-linecap="butt"/>
<polyline points="267.30,611.20 280.00,600.50 290.00,591.00 300.00,583.50 314.30,573.10" fill="none" stroke="#ffa965" stroke-width="1.0" stroke-opacity="1.0" stroke-linejoin="round" stroke-linecap="butt"/>
<polyline points="267.30,610.90 295.30,576.90" fill="none" stroke="#fff" stroke-width="1.4" stroke-opacity="1.0" stroke-linejoin="round" stroke-linecap="butt"/>
<polyline points="267.30,610.90 295.30,576.90" fill="none" stroke="#66b960" stroke-width="1.0" stroke-opacity="1.0" stroke-linejoin="round" stroke-linecap="butt"/>
</g>
<rect x="263.2" y="478.1" width="158.8" height="41.799999999999955" rx="1.6" fill="#fff" fill-opacity="0.8" stroke="#d6d6d6" stroke-width="0.6"/>
<polyline points="266.10,485.40 283.60,485.40" fill="none" stroke="#2a7ebb" stroke-width="1.0" stroke-opacity="1.0" stroke-linejoin="round" stroke-linecap="butt"/>
<text x="290.60" y="488.51" font-size="8.65" text-anchor="start" fill="#0d0d0d" stroke="#0d0d0d" stroke-width="0.18" font-family="'DejaVu Sans', 'Liberation Sans', sans-serif" >RCGC (Diminishing Step Size)</text>
<polyline points="266.10,498.20 283.60,498.20" fill="none" stroke="#ffa965" stroke-width="1.0" stroke-opacity="1.0" stroke-linejoin="round" stroke-linecap="butt"/>
<text x="290.60" y="501.31" font-size="8.65" text-anchor="start" fill="#0d0d0d" stroke="#0d0d0d" stroke-width="0.18" font-family="'DejaVu Sans', 'Liberation Sans', sans-serif" >RCGC (Adaptive Step Size)</text>
<polyline points="266.10,511.40 283.60,511.40" fill="none" stroke="#66b960" stroke-width="1.0" stroke-opacity="1.0" stroke-linejoin="round" stroke-linecap="butt"/>
<text x="290.60" y="514.51" font-size="8.65" text-anchor="start" fill="#0d0d0d" stroke="#0d0d0d" stroke-width="0.18" font-family="'DejaVu Sans', 'Liberation Sans', sans-serif" >RCGC (Armijo Line Search)</text>
<rect x="258.7" y="473.8" width="192.5" height="144.40000000000003" fill="none" stroke="#b4b4b4" stroke-width="1.0"/>
<line x1="267.30" y1="618.2" x2="267.30" y2="620.2" stroke="#aaa" stroke-width="0.6"/>
<text x="267.30" y="628.60" font-size="8.65" text-anchor="middle" fill="#0d0d0d" stroke="#0d0d0d" stroke-width="0.18" font-family="'DejaVu Sans', 'Liberation Sans', sans-serif" >0</text>
<line x1="308.18" y1="618.2" x2="308.18" y2="620.2" stroke="#aaa" stroke-width="0.6"/>
<text x="308.18" y="628.60" font-size="8.65" text-anchor="middle" fill="#0d0d0d" stroke="#0d0d0d" stroke-width="0.18" font-family="'DejaVu Sans', 'Liberation Sans', sans-serif" >200</text>
<line x1="349.06" y1="618.2" x2="349.06" y2="620.2" stroke="#aaa" stroke-width="0.6"/>
<text x="349.06" y="628.60" font-size="8.65" text-anchor="middle" fill="#0d0d0d" stroke="#0d0d0d" stroke-width="0.18" font-family="'DejaVu Sans', 'Liberation Sans', sans-serif" >400</text>
<line x1="389.94" y1="618.2" x2="389.94" y2="620.2" stroke="#aaa" stroke-width="0.6"/>
<text x="389.94" y="628.60" font-size="8.65" text-anchor="middle" fill="#0d0d0d" stroke="#0d0d0d" stroke-width="0.18" font-family="'DejaVu Sans', 'Liberation Sans', sans-serif" >600</text>
<line x1="430.82" y1="618.2" x2="430.82" y2="620.2" stroke="#aaa" stroke-width="0.6"/>
<text x="430.82" y="628.60" font-size="8.65" text-anchor="middle" fill="#0d0d0d" stroke="#0d0d0d" stroke-width="0.18" font-family="'DejaVu Sans', 'Liberation Sans', sans-serif" >800</text>
<line x1="256.7" y1="610.90" x2="258.7" y2="610.90" stroke="#aaa" stroke-width="0.6"/>
<text x="255.60" y="614.71" font-size="8.65" text-anchor="end" fill="#0d0d0d" stroke="#0d0d0d" stroke-width="0.18" font-family="'DejaVu Sans', 'Liberation Sans', sans-serif" >0</text>
<line x1="256.7" y1="580.65" x2="258.7" y2="580.65" stroke="#aaa" stroke-width="0.6"/>
<text x="255.60" y="584.46" font-size="8.65" text-anchor="end" fill="#0d0d0d" stroke="#0d0d0d" stroke-width="0.18" font-family="'DejaVu Sans', 'Liberation Sans', sans-serif" >2</text>
<line x1="256.7" y1="550.40" x2="258.7" y2="550.40" stroke="#aaa" stroke-width="0.6"/>
<text x="255.60" y="554.21" font-size="8.65" text-anchor="end" fill="#0d0d0d" stroke="#0d0d0d" stroke-width="0.18" font-family="'DejaVu Sans', 'Liberation Sans', sans-serif" >4</text>
<line x1="256.7" y1="520.15" x2="258.7" y2="520.15" stroke="#aaa" stroke-width="0.6"/>
<text x="255.60" y="523.96" font-size="8.65" text-anchor="end" fill="#0d0d0d" stroke="#0d0d0d" stroke-width="0.18" font-family="'DejaVu Sans', 'Liberation Sans', sans-serif" >6</text>
<line x1="256.7" y1="489.90" x2="258.7" y2="489.90" stroke="#aaa" stroke-width="0.6"/>
<text x="255.60" y="493.71" font-size="8.65" text-anchor="end" fill="#0d0d0d" stroke="#0d0d0d" stroke-width="0.18" font-family="'DejaVu Sans', 'Liberation Sans', sans-serif" >8</text>
<text x="355.30" y="471.20" font-size="9.55" text-anchor="middle" fill="#0d0d0d" stroke="#0d0d0d" stroke-width="0.18" font-family="'DejaVu Sans', 'Liberation Sans', sans-serif" >CPU Time vs Iterations n=500 p=10</text>
<text x="354.90" y="638.20" font-size="8.65" text-anchor="middle" fill="#0d0d0d" stroke="#0d0d0d" stroke-width="0.18" font-family="'DejaVu Sans', 'Liberation Sans', sans-serif" >Iterations</text>
<text transform="translate(246.30,546.90) rotate(-90)" font-size="8.65" text-anchor="middle" fill="#0d0d0d" stroke="#0d0d0d" stroke-width="0.18" font-family="'DejaVu Sans', 'Liberation Sans', sans-serif">CPU Time (seconds)</text>
<clipPath id="cI"><rect x="494.3" y="478.8" width="189.2" height="139.40000000000003"/></clipPath>
<g clip-path="url(#cI)">
<polyline points="503.10,611.90 555.90,573.30 580.00,555.70 588.80,549.20 597.50,543.50 605.40,538.20 615.00,530.80 624.70,523.30 655.00,499.60 674.80,484.20" fill="none" stroke="#2a7ebb" stroke-width="1.0" stroke-opacity="1.0" stroke-linejoin="round" stroke-linecap="butt"/>
<polyline points="503.10,611.90 530.00,591.60 555.90,572.60" fill="none" stroke="#ffa965" stroke-width="1.0" stroke-opacity="1.0" stroke-linejoin="round" stroke-linecap="butt"/>
<polyline points="503.10,611.90 508.00,604.60 513.70,595.90 519.50,588.30 526.50,580.10 534.70,571.30" fill="none" stroke="#fff" stroke-width="1.4" stroke-opacity="1.0" stroke-linejoin="round" stroke-linecap="butt"/>
<polyline points="503.10,611.90 508.00,604.60 513.70,595.90 519.50,588.30 526.50,580.10 534.70,571.30" fill="none" stroke="#66b960" stroke-width="1.0" stroke-opacity="1.0" stroke-linejoin="round" stroke-linecap="butt"/>
</g>
<rect x="498.1" y="481.9" width="156.19999999999993" height="40.89999999999998" rx="1.6" fill="#fff" fill-opacity="0.8" stroke="#d6d6d6" stroke-width="0.6"/>
<polyline points="501.90,489.20 519.50,489.20" fill="none" stroke="#2a7ebb" stroke-width="1.0" stroke-opacity="1.0" stroke-linejoin="round" stroke-linecap="butt"/>
<text x="525.90" y="492.24" font-size="8.45" text-anchor="start" fill="#0d0d0d" stroke="#0d0d0d" stroke-width="0.18" font-family="'DejaVu Sans', 'Liberation Sans', sans-serif" >RCGC (Diminishing Step Size)</text>
<polyline points="501.90,502.00 519.50,502.00" fill="none" stroke="#ffa965" stroke-width="1.0" stroke-opacity="1.0" stroke-linejoin="round" stroke-linecap="butt"/>
<text x="525.90" y="505.04" font-size="8.45" text-anchor="start" fill="#0d0d0d" stroke="#0d0d0d" stroke-width="0.18" font-family="'DejaVu Sans', 'Liberation Sans', sans-serif" >RCGC (Adaptive Step Size)</text>
<polyline points="501.90,514.60 519.50,514.60" fill="none" stroke="#66b960" stroke-width="1.0" stroke-opacity="1.0" stroke-linejoin="round" stroke-linecap="butt"/>
<text x="525.90" y="517.64" font-size="8.45" text-anchor="start" fill="#0d0d0d" stroke="#0d0d0d" stroke-width="0.18" font-family="'DejaVu Sans', 'Liberation Sans', sans-serif" >RCGC (Armijo Line Search)</text>
<rect x="494.3" y="478.8" width="189.2" height="139.40000000000003" fill="none" stroke="#b4b4b4" stroke-width="1.0"/>
<line x1="503.10" y1="618.2" x2="503.10" y2="620.2" stroke="#aaa" stroke-width="0.6"/>
<text x="503.10" y="628.50" font-size="8.45" text-anchor="middle" fill="#0d0d0d" stroke="#0d0d0d" stroke-width="0.18" font-family="'DejaVu Sans', 'Liberation Sans', sans-serif" >0</text>
<line x1="529.30" y1="618.2" x2="529.30" y2="620.2" stroke="#aaa" stroke-width="0.6"/>
<text x="529.30" y="628.50" font-size="8.45" text-anchor="middle" fill="#0d0d0d" stroke="#0d0d0d" stroke-width="0.18" font-family="'DejaVu Sans', 'Liberation Sans', sans-serif" >250</text>
<line x1="555.50" y1="618.2" x2="555.50" y2="620.2" stroke="#aaa" stroke-width="0.6"/>
<text x="555.50" y="628.50" font-size="8.45" text-anchor="middle" fill="#0d0d0d" stroke="#0d0d0d" stroke-width="0.18" font-family="'DejaVu Sans', 'Liberation Sans', sans-serif" >500</text>
<line x1="581.70" y1="618.2" x2="581.70" y2="620.2" stroke="#aaa" stroke-width="0.6"/>
<text x="581.70" y="628.50" font-size="8.45" text-anchor="middle" fill="#0d0d0d" stroke="#0d0d0d" stroke-width="0.18" font-family="'DejaVu Sans', 'Liberation Sans', sans-serif" >750</text>
<line x1="607.90" y1="618.2" x2="607.90" y2="620.2" stroke="#aaa" stroke-width="0.6"/>
<text x="607.90" y="628.50" font-size="8.45" text-anchor="middle" fill="#0d0d0d" stroke="#0d0d0d" stroke-width="0.18" font-family="'DejaVu Sans', 'Liberation Sans', sans-serif" >1000</text>
<line x1="634.10" y1="618.2" x2="634.10" y2="620.2" stroke="#aaa" stroke-width="0.6"/>
<text x="634.10" y="628.50" font-size="8.45" text-anchor="middle" fill="#0d0d0d" stroke="#0d0d0d" stroke-width="0.18" font-family="'DejaVu Sans', 'Liberation Sans', sans-serif" >1250</text>
<line x1="660.30" y1="618.2" x2="660.30" y2="620.2" stroke="#aaa" stroke-width="0.6"/>
<text x="660.30" y="628.50" font-size="8.45" text-anchor="middle" fill="#0d0d0d" stroke="#0d0d0d" stroke-width="0.18" font-family="'DejaVu Sans', 'Liberation Sans', sans-serif" >1500</text>
<line x1="492.3" y1="611.90" x2="494.3" y2="611.90" stroke="#aaa" stroke-width="0.6"/>
<text x="492.10" y="615.64" font-size="8.45" text-anchor="end" fill="#0d0d0d" stroke="#0d0d0d" stroke-width="0.18" font-family="'DejaVu Sans', 'Liberation Sans', sans-serif" >0</text>
<line x1="492.3" y1="590.60" x2="494.3" y2="590.60" stroke="#aaa" stroke-width="0.6"/>
<text x="492.10" y="594.34" font-size="8.45" text-anchor="end" fill="#0d0d0d" stroke="#0d0d0d" stroke-width="0.18" font-family="'DejaVu Sans', 'Liberation Sans', sans-serif" >10</text>
<line x1="492.3" y1="569.30" x2="494.3" y2="569.30" stroke="#aaa" stroke-width="0.6"/>
<text x="492.10" y="573.04" font-size="8.45" text-anchor="end" fill="#0d0d0d" stroke="#0d0d0d" stroke-width="0.18" font-family="'DejaVu Sans', 'Liberation Sans', sans-serif" >20</text>
<line x1="492.3" y1="548.00" x2="494.3" y2="548.00" stroke="#aaa" stroke-width="0.6"/>
<text x="492.10" y="551.74" font-size="8.45" text-anchor="end" fill="#0d0d0d" stroke="#0d0d0d" stroke-width="0.18" font-family="'DejaVu Sans', 'Liberation Sans', sans-serif" >30</text>
<line x1="492.3" y1="526.70" x2="494.3" y2="526.70" stroke="#aaa" stroke-width="0.6"/>
<text x="492.10" y="530.44" font-size="8.45" text-anchor="end" fill="#0d0d0d" stroke="#0d0d0d" stroke-width="0.18" font-family="'DejaVu Sans', 'Liberation Sans', sans-serif" >40</text>
<line x1="492.3" y1="505.40" x2="494.3" y2="505.40" stroke="#aaa" stroke-width="0.6"/>
<text x="492.10" y="509.14" font-size="8.45" text-anchor="end" fill="#0d0d0d" stroke="#0d0d0d" stroke-width="0.18" font-family="'DejaVu Sans', 'Liberation Sans', sans-serif" >50</text>
<line x1="492.3" y1="484.10" x2="494.3" y2="484.10" stroke="#aaa" stroke-width="0.6"/>
<text x="492.10" y="487.84" font-size="8.45" text-anchor="end" fill="#0d0d0d" stroke="#0d0d0d" stroke-width="0.18" font-family="'DejaVu Sans', 'Liberation Sans', sans-serif" >60</text>
<text x="589.00" y="476.10" font-size="9.40" text-anchor="middle" fill="#0d0d0d" stroke="#0d0d0d" stroke-width="0.18" font-family="'DejaVu Sans', 'Liberation Sans', sans-serif" >CPU Time vs Iterations n=1000 p=10</text>
<text x="588.60" y="637.80" font-size="8.45" text-anchor="middle" fill="#0d0d0d" stroke="#0d0d0d" stroke-width="0.18" font-family="'DejaVu Sans', 'Liberation Sans', sans-serif" >Iterations</text>
<text transform="translate(477.80,548.10) rotate(-90)" font-size="8.45" text-anchor="middle" fill="#0d0d0d" stroke="#0d0d0d" stroke-width="0.18" font-family="'DejaVu Sans', 'Liberation Sans', sans-serif">CPU Time (seconds)</text>
<text x="-0.71" y="184.20" font-size="13.6" fill="#111" stroke="#111" stroke-width="0.14" font-family="'Liberation Serif', 'DejaVu Serif', serif" textLength="18.62" lengthAdjust="spacingAndGlyphs">(a)</text>
<text x="25.34" y="184.20" font-size="13.6" fill="#111" stroke="#111" stroke-width="0.14" font-family="'Liberation Serif', 'DejaVu Serif', serif" textLength="59.52" lengthAdjust="spacingAndGlyphs">Function</text>
<text x="91.60" y="184.20" font-size="13.6" fill="#111" stroke="#111" stroke-width="0.14" font-family="'Liberation Serif', 'DejaVu Serif', serif" textLength="38.30" lengthAdjust="spacingAndGlyphs">value,</text>
<text x="136.15" y="184.20" font-size="13.6" fill="#111" stroke="#111" stroke-width="0.08" font-family="'Liberation Serif', 'DejaVu Serif', serif" font-style="italic" textLength="9.35" lengthAdjust="spacingAndGlyphs">n</text>
<text transform="translate(0,180.70) scale(1,1.45) translate(0,-179.68)" x="150.00" y="184.20" font-size="13.6" fill="#111" stroke="#111" stroke-width="0.0" font-family="'Liberation Serif', 'DejaVu Serif', serif" textLength="12.37" lengthAdjust="spacingAndGlyphs">=</text>
<text x="167.32" y="184.20" font-size="13.6" fill="#111" stroke="#111" stroke-width="0.14" font-family="'Liberation Serif', 'DejaVu Serif', serif" textLength="27.56" lengthAdjust="spacingAndGlyphs">100,</text>
<text x="198.72" y="184.20" font-size="13.6" fill="#111" stroke="#111" stroke-width="0.08" font-family="'Liberation Serif', 'DejaVu Serif', serif" font-style="italic" textLength="7.96" lengthAdjust="spacingAndGlyphs">p</text>
<text transform="translate(0,180.70) scale(1,1.45) translate(0,-179.68)" x="210.77" y="184.20" font-size="13.6" fill="#111" stroke="#111" stroke-width="0.0" font-family="'Liberation Serif', 'DejaVu Serif', serif" textLength="12.74" lengthAdjust="spacingAndGlyphs">=</text>
<text x="-1.40" y="199.90" font-size="13.6" fill="#111" stroke="#111" stroke-width="0.14" font-family="'Liberation Serif', 'DejaVu Serif', serif" textLength="16.00" lengthAdjust="spacingAndGlyphs">10</text>
<text x="230.06" y="184.20" font-size="13.6" fill="#111" stroke="#111" stroke-width="0.14" font-family="'Liberation Serif', 'DejaVu Serif', serif" textLength="20.19" lengthAdjust="spacingAndGlyphs">(b)</text>
<text x="257.74" y="184.20" font-size="13.6" fill="#111" stroke="#111" stroke-width="0.14" font-family="'Liberation Serif', 'DejaVu Serif', serif" textLength="59.52" lengthAdjust="spacingAndGlyphs">Function</text>
<text x="323.30" y="184.20" font-size="13.6" fill="#111" stroke="#111" stroke-width="0.14" font-family="'Liberation Serif', 'DejaVu Serif', serif" textLength="38.51" lengthAdjust="spacingAndGlyphs">value,</text>
<text x="367.60" y="184.20" font-size="13.6" fill="#111" stroke="#111" stroke-width="0.08" font-family="'Liberation Serif', 'DejaVu Serif', serif" font-style="italic" textLength="10.06" lengthAdjust="spacingAndGlyphs">n</text>
<text transform="translate(0,180.70) scale(1,1.45) translate(0,-179.68)" x="381.90" y="184.20" font-size="13.6" fill="#111" stroke="#111" stroke-width="0.0" font-family="'Liberation Serif', 'DejaVu Serif', serif" textLength="12.37" lengthAdjust="spacingAndGlyphs">=</text>
<text x="398.70" y="184.20" font-size="13.6" fill="#111" stroke="#111" stroke-width="0.14" font-family="'Liberation Serif', 'DejaVu Serif', serif" textLength="27.48" lengthAdjust="spacingAndGlyphs">500,</text>
<text x="430.16" y="184.20" font-size="13.6" fill="#111" stroke="#111" stroke-width="0.08" font-family="'Liberation Serif', 'DejaVu Serif', serif" font-style="italic" textLength="7.49" lengthAdjust="spacingAndGlyphs">p</text>
<text transform="translate(0,180.70) scale(1,1.45) translate(0,-179.68)" x="441.87" y="184.20" font-size="13.6" fill="#111" stroke="#111" stroke-width="0.0" font-family="'Liberation Serif', 'DejaVu Serif', serif" textLength="12.74" lengthAdjust="spacingAndGlyphs">=</text>
<text x="229.60" y="199.90" font-size="13.6" fill="#111" stroke="#111" stroke-width="0.14" font-family="'Liberation Serif', 'DejaVu Serif', serif" textLength="16.00" lengthAdjust="spacingAndGlyphs">10</text>
<text x="460.97" y="184.20" font-size="13.6" fill="#111" stroke="#111" stroke-width="0.14" font-family="'Liberation Serif', 'DejaVu Serif', serif" textLength="18.95" lengthAdjust="spacingAndGlyphs">(c)</text>
<text x="520.14" y="184.20" font-size="13.6" fill="#111" stroke="#111" stroke-width="0.14" font-family="'Liberation Serif', 'DejaVu Serif', serif" textLength="59.02" lengthAdjust="spacingAndGlyphs">Function</text>
<text x="646.30" y="184.20" font-size="13.6" fill="#111" stroke="#111" stroke-width="0.14" font-family="'Liberation Serif', 'DejaVu Serif', serif" textLength="38.30" lengthAdjust="spacingAndGlyphs">value,</text>
<text x="460.60" y="199.80" font-size="13.6" fill="#111" stroke="#111" stroke-width="0.08" font-family="'Liberation Serif', 'DejaVu Serif', serif" font-style="italic" textLength="10.06" lengthAdjust="spacingAndGlyphs">n</text>
<text transform="translate(0,196.30) scale(1,1.45) translate(0,-195.28)" x="474.90" y="199.80" font-size="13.6" fill="#111" stroke="#111" stroke-width="0.0" font-family="'Liberation Serif', 'DejaVu Serif', serif" textLength="12.37" lengthAdjust="spacingAndGlyphs">=</text>
<text x="491.19" y="199.80" font-size="13.6" fill="#111" stroke="#111" stroke-width="0.14" font-family="'Liberation Serif', 'DejaVu Serif', serif" textLength="36.21" lengthAdjust="spacingAndGlyphs">1000,</text>
<text x="530.95" y="199.80" font-size="13.6" fill="#111" stroke="#111" stroke-width="0.08" font-family="'Liberation Serif', 'DejaVu Serif', serif" font-style="italic" textLength="7.39" lengthAdjust="spacingAndGlyphs">p</text>
<text transform="translate(0,196.30) scale(1,1.45) translate(0,-195.28)" x="542.42" y="199.80" font-size="13.6" fill="#111" stroke="#111" stroke-width="0.0" font-family="'Liberation Serif', 'DejaVu Serif', serif" textLength="12.13" lengthAdjust="spacingAndGlyphs">=</text>
<text x="558.32" y="199.80" font-size="13.6" fill="#111" stroke="#111" stroke-width="0.14" font-family="'Liberation Serif', 'DejaVu Serif', serif" textLength="15.77" lengthAdjust="spacingAndGlyphs">10</text>
<text x="-0.74" y="423.60" font-size="13.6" fill="#111" stroke="#111" stroke-width="0.14" font-family="'Liberation Serif', 'DejaVu Serif', serif" textLength="20.30" lengthAdjust="spacingAndGlyphs">(d)</text>
<text x="26.99" y="423.60" font-size="13.6" fill="#111" stroke="#111" stroke-width="0.14" font-family="'Liberation Serif', 'DejaVu Serif', serif" textLength="39.85" lengthAdjust="spacingAndGlyphs">Theta</text>
<text x="73.00" y="423.60" font-size="13.6" fill="#111" stroke="#111" stroke-width="0.14" font-family="'Liberation Serif', 'DejaVu Serif', serif" textLength="38.40" lengthAdjust="spacingAndGlyphs">value,</text>
<text x="116.70" y="423.60" font-size="13.6" fill="#111" stroke="#111" stroke-width="0.08" font-family="'Liberation Serif', 'DejaVu Serif', serif" font-style="italic" textLength="10.06" lengthAdjust="spacingAndGlyphs">n</text>
<text transform="translate(0,420.10) scale(1,1.45) translate(0,-419.08)" x="130.79" y="423.60" font-size="13.6" fill="#111" stroke="#111" stroke-width="0.0" font-family="'Liberation Serif', 'DejaVu Serif', serif" textLength="12.49" lengthAdjust="spacingAndGlyphs">=</text>
<text x="147.05" y="423.60" font-size="13.6" fill="#111" stroke="#111" stroke-width="0.14" font-family="'Liberation Serif', 'DejaVu Serif', serif" textLength="29.09" lengthAdjust="spacingAndGlyphs">100,</text>
<text x="179.16" y="423.60" font-size="13.6" fill="#111" stroke="#111" stroke-width="0.08" font-family="'Liberation Serif', 'DejaVu Serif', serif" font-style="italic" textLength="7.49" lengthAdjust="spacingAndGlyphs">p</text>
<text transform="translate(0,420.10) scale(1,1.45) translate(0,-419.08)" x="190.61" y="423.60" font-size="13.6" fill="#111" stroke="#111" stroke-width="0.0" font-family="'Liberation Serif', 'DejaVu Serif', serif" textLength="12.25" lengthAdjust="spacingAndGlyphs">=</text>
<text x="206.51" y="423.60" font-size="13.6" fill="#111" stroke="#111" stroke-width="0.14" font-family="'Liberation Serif', 'DejaVu Serif', serif" textLength="15.89" lengthAdjust="spacingAndGlyphs">10</text>
<text x="231.19" y="423.60" font-size="13.6" fill="#111" stroke="#111" stroke-width="0.14" font-family="'Liberation Serif', 'DejaVu Serif', serif" textLength="18.52" lengthAdjust="spacingAndGlyphs">(e)</text>
<text x="256.99" y="423.60" font-size="13.6" fill="#111" stroke="#111" stroke-width="0.14" font-family="'Liberation Serif', 'DejaVu Serif', serif" textLength="39.85" lengthAdjust="spacingAndGlyphs">Theta</text>
<text x="303.10" y="423.60" font-size="13.6" fill="#111" stroke="#111" stroke-width="0.14" font-family="'Liberation Serif', 'DejaVu Serif', serif" textLength="38.71" lengthAdjust="spacingAndGlyphs">value,</text>
<text x="347.40" y="423.60" font-size="13.6" fill="#111" stroke="#111" stroke-width="0.08" font-family="'Liberation Serif', 'DejaVu Serif', serif" font-style="italic" textLength="10.06" lengthAdjust="spacingAndGlyphs">n</text>
<text transform="translate(0,420.10) scale(1,1.45) translate(0,-419.08)" x="360.97" y="423.60" font-size="13.6" fill="#111" stroke="#111" stroke-width="0.0" font-family="'Liberation Serif', 'DejaVu Serif', serif" textLength="12.74" lengthAdjust="spacingAndGlyphs">=</text>
<text x="377.78" y="423.60" font-size="13.6" fill="#111" stroke="#111" stroke-width="0.14" font-family="'Liberation Serif', 'DejaVu Serif', serif" textLength="28.02" lengthAdjust="spacingAndGlyphs">500,</text>
<text x="409.19" y="423.60" font-size="13.6" fill="#111" stroke="#111" stroke-width="0.08" font-family="'Liberation Serif', 'DejaVu Serif', serif" font-style="italic" textLength="7.77" lengthAdjust="spacingAndGlyphs">p</text>
<text transform="translate(0,420.10) scale(1,1.45) translate(0,-419.08)" x="420.79" y="423.60" font-size="13.6" fill="#111" stroke="#111" stroke-width="0.0" font-family="'Liberation Serif', 'DejaVu Serif', serif" textLength="12.49" lengthAdjust="spacingAndGlyphs">=</text>
<text x="437.09" y="423.60" font-size="13.6" fill="#111" stroke="#111" stroke-width="0.14" font-family="'Liberation Serif', 'DejaVu Serif', serif" textLength="16.11" lengthAdjust="spacingAndGlyphs">10</text>
<text x="461.15" y="423.60" font-size="13.6" fill="#111" stroke="#111" stroke-width="0.14" font-family="'Liberation Serif', 'DejaVu Serif', serif" textLength="17.63" lengthAdjust="spacingAndGlyphs">(f)</text>
<text x="486.99" y="423.60" font-size="13.6" fill="#111" stroke="#111" stroke-width="0.14" font-family="'Liberation Serif', 'DejaVu Serif', serif" textLength="39.85" lengthAdjust="spacingAndGlyphs">Theta</text>
<text x="535.30" y="423.60" font-size="13.6" fill="#111" stroke="#111" stroke-width="0.14" font-family="'Liberation Serif', 'DejaVu Serif', serif" textLength="38.71" lengthAdjust="spacingAndGlyphs">value,</text>
<text x="581.27" y="423.60" font-size="13.6" fill="#111" stroke="#111" stroke-width="0.08" font-family="'Liberation Serif', 'DejaVu Serif', serif" font-style="italic" textLength="10.41" lengthAdjust="spacingAndGlyphs">n</text>
<text transform="translate(0,420.10) scale(1,1.45) translate(0,-419.08)" x="598.92" y="423.60" font-size="13.6" fill="#111" stroke="#111" stroke-width="0.0" font-family="'Liberation Serif', 'DejaVu Serif', serif" textLength="12.13" lengthAdjust="spacingAndGlyphs">=</text>
<text x="618.69" y="423.60" font-size="13.6" fill="#111" stroke="#111" stroke-width="0.14" font-family="'Liberation Serif', 'DejaVu Serif', serif" textLength="36.21" lengthAdjust="spacingAndGlyphs">1000,</text>
<text x="658.46" y="423.60" font-size="13.6" fill="#111" stroke="#111" stroke-width="0.08" font-family="'Liberation Serif', 'DejaVu Serif', serif" font-style="italic" textLength="7.49" lengthAdjust="spacingAndGlyphs">p</text>
<text transform="translate(0,420.10) scale(1,1.45) translate(0,-419.08)" x="673.39" y="423.60" font-size="13.6" fill="#111" stroke="#111" stroke-width="0.0" font-family="'Liberation Serif', 'DejaVu Serif', serif" textLength="12.49" lengthAdjust="spacingAndGlyphs">=</text>
<text x="460.45" y="438.90" font-size="13.6" fill="#111" stroke="#111" stroke-width="0.14" font-family="'Liberation Serif', 'DejaVu Serif', serif" textLength="16.57" lengthAdjust="spacingAndGlyphs">10</text>
<text x="6.12" y="666.50" font-size="13.6" fill="#111" stroke="#111" stroke-width="0.14" font-family="'Liberation Serif', 'DejaVu Serif', serif" textLength="18.68" lengthAdjust="spacingAndGlyphs">(g)</text>
<text x="32.14" y="666.50" font-size="13.6" fill="#111" stroke="#111" stroke-width="0.14" font-family="'Liberation Serif', 'DejaVu Serif', serif" textLength="31.99" lengthAdjust="spacingAndGlyphs">CPU</text>
<text x="71.03" y="666.50" font-size="13.6" fill="#111" stroke="#111" stroke-width="0.14" font-family="'Liberation Serif', 'DejaVu Serif', serif" textLength="34.02" lengthAdjust="spacingAndGlyphs">time,</text>
<text x="110.40" y="666.50" font-size="13.6" fill="#111" stroke="#111" stroke-width="0.08" font-family="'Liberation Serif', 'DejaVu Serif', serif" font-style="italic" textLength="9.94" lengthAdjust="spacingAndGlyphs">n</text>
<text transform="translate(0,663.00) scale(1,1.45) translate(0,-661.98)" x="124.17" y="666.50" font-size="13.6" fill="#111" stroke="#111" stroke-width="0.0" font-family="'Liberation Serif', 'DejaVu Serif', serif" textLength="12.74" lengthAdjust="spacingAndGlyphs">=</text>
<text x="140.79" y="666.50" font-size="13.6" fill="#111" stroke="#111" stroke-width="0.14" font-family="'Liberation Serif', 'DejaVu Serif', serif" textLength="28.11" lengthAdjust="spacingAndGlyphs">100,</text>
<text x="172.63" y="666.50" font-size="13.6" fill="#111" stroke="#111" stroke-width="0.08" font-family="'Liberation Serif', 'DejaVu Serif', serif" font-style="italic" textLength="7.20" lengthAdjust="spacingAndGlyphs">p</text>
<text transform="translate(0,663.00) scale(1,1.45) translate(0,-661.98)" x="183.90" y="666.50" font-size="13.6" fill="#111" stroke="#111" stroke-width="0.0" font-family="'Liberation Serif', 'DejaVu Serif', serif" textLength="12.37" lengthAdjust="spacingAndGlyphs">=</text>
<text x="200.53" y="666.50" font-size="13.6" fill="#111" stroke="#111" stroke-width="0.14" font-family="'Liberation Serif', 'DejaVu Serif', serif" textLength="15.66" lengthAdjust="spacingAndGlyphs">10</text>
<text x="236.46" y="666.50" font-size="13.6" fill="#111" stroke="#111" stroke-width="0.14" font-family="'Liberation Serif', 'DejaVu Serif', serif" textLength="20.41" lengthAdjust="spacingAndGlyphs">(h)</text>
<text x="263.54" y="666.50" font-size="13.6" fill="#111" stroke="#111" stroke-width="0.14" font-family="'Liberation Serif', 'DejaVu Serif', serif" textLength="32.30" lengthAdjust="spacingAndGlyphs">CPU</text>
<text x="302.83" y="666.50" font-size="13.6" fill="#111" stroke="#111" stroke-width="0.14" font-family="'Liberation Serif', 'DejaVu Serif', serif" textLength="34.02" lengthAdjust="spacingAndGlyphs">time,</text>
<text x="341.90" y="666.50" font-size="13.6" fill="#111" stroke="#111" stroke-width="0.08" font-family="'Liberation Serif', 'DejaVu Serif', serif" font-style="italic" textLength="10.06" lengthAdjust="spacingAndGlyphs">n</text>
<text transform="translate(0,663.00) scale(1,1.45) translate(0,-661.98)" x="356.00" y="666.50" font-size="13.6" fill="#111" stroke="#111" stroke-width="0.0" font-family="'Liberation Serif', 'DejaVu Serif', serif" textLength="12.37" lengthAdjust="spacingAndGlyphs">=</text>
<text x="372.05" y="666.50" font-size="13.6" fill="#111" stroke="#111" stroke-width="0.14" font-family="'Liberation Serif', 'DejaVu Serif', serif" textLength="28.88" lengthAdjust="spacingAndGlyphs">500,</text>
<text x="404.26" y="666.50" font-size="13.6" fill="#111" stroke="#111" stroke-width="0.08" font-family="'Liberation Serif', 'DejaVu Serif', serif" font-style="italic" textLength="7.49" lengthAdjust="spacingAndGlyphs">p</text>
<text transform="translate(0,663.00) scale(1,1.45) translate(0,-661.98)" x="415.37" y="666.50" font-size="13.6" fill="#111" stroke="#111" stroke-width="0.0" font-family="'Liberation Serif', 'DejaVu Serif', serif" textLength="12.74" lengthAdjust="spacingAndGlyphs">=</text>
<text x="432.22" y="666.50" font-size="13.6" fill="#111" stroke="#111" stroke-width="0.14" font-family="'Liberation Serif', 'DejaVu Serif', serif" textLength="15.77" lengthAdjust="spacingAndGlyphs">10</text>
<text x="466.10" y="666.50" font-size="13.6" fill="#111" stroke="#111" stroke-width="0.14" font-family="'Liberation Serif', 'DejaVu Serif', serif" textLength="15.63" lengthAdjust="spacingAndGlyphs">(i)</text>
<text x="488.64" y="666.50" font-size="13.6" fill="#111" stroke="#111" stroke-width="0.14" font-family="'Liberation Serif', 'DejaVu Serif', serif" textLength="31.99" lengthAdjust="spacingAndGlyphs">CPU</text>
<text x="527.83" y="666.50" font-size="13.6" fill="#111" stroke="#111" stroke-width="0.14" font-family="'Liberation Serif', 'DejaVu Serif', serif" textLength="34.22" lengthAdjust="spacingAndGlyphs">time,</text>
<text x="567.40" y="666.50" font-size="13.6" fill="#111" stroke="#111" stroke-width="0.08" font-family="'Liberation Serif', 'DejaVu Serif', serif" font-style="italic" textLength="10.06" lengthAdjust="spacingAndGlyphs">n</text>
<text transform="translate(0,663.00) scale(1,1.45) translate(0,-661.98)" x="580.97" y="666.50" font-size="13.6" fill="#111" stroke="#111" stroke-width="0.0" font-family="'Liberation Serif', 'DejaVu Serif', serif" textLength="12.74" lengthAdjust="spacingAndGlyphs">=</text>
<text x="597.80" y="666.50" font-size="13.6" fill="#111" stroke="#111" stroke-width="0.14" font-family="'Liberation Serif', 'DejaVu Serif', serif" textLength="36.11" lengthAdjust="spacingAndGlyphs">1000,</text>
<text x="637.26" y="666.50" font-size="13.6" fill="#111" stroke="#111" stroke-width="0.08" font-family="'Liberation Serif', 'DejaVu Serif', serif" font-style="italic" textLength="7.49" lengthAdjust="spacingAndGlyphs">p</text>
<text transform="translate(0,663.00) scale(1,1.45) translate(0,-661.98)" x="648.37" y="666.50" font-size="13.6" fill="#111" stroke="#111" stroke-width="0.0" font-family="'Liberation Serif', 'DejaVu Serif', serif" textLength="12.74" lengthAdjust="spacingAndGlyphs">=</text>
<text x="665.22" y="666.50" font-size="13.6" fill="#111" stroke="#111" stroke-width="0.14" font-family="'Liberation Serif', 'DejaVu Serif', serif" textLength="15.77" lengthAdjust="spacingAndGlyphs">10</text>
</svg></body></html>
